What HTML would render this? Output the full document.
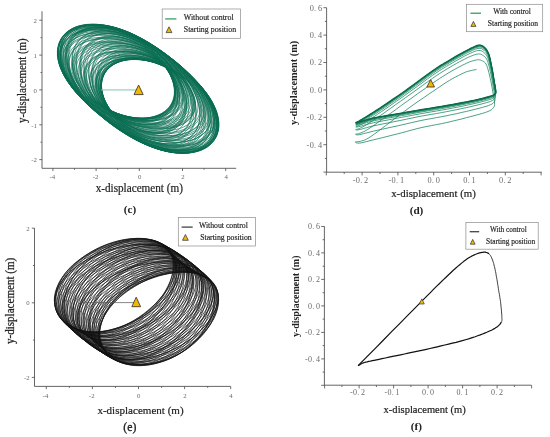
<!DOCTYPE html><html><head><meta charset="utf-8"><title>Figure</title>
<style>html,body{margin:0;padding:0;background:#fff}svg{display:block}text{font-family:'Liberation Serif', serif}</style></head><body>
<svg width="550" height="437" viewBox="0 0 550 437">
<rect width="550" height="437" fill="#fff"/>
<path d="M212.7 139.1L209.8 142.1L206.4 144.7L202.5 146.9L198 148.5L193.1 149.8L187.7 150.5L182 150.7L175.9 150.4L169.5 149.7L162.9 148.4L156.1 146.6L149.2 144.4L142.2 141.6L135.3 138.5L128.4 134.9L121.6 131L115 126.6L108.7 122L102.6 117.1L96.9 112L91.5 106.6L86.6 101.1L82.2 95.5L78.2 89.9L74.8 84.3L72 78.6L69.7 73.1L68 67.7L67 62.5L66.5 57.6L66.7 52.8L67.4 48.4L68.7 44.4L70.6 40.7L73.1 37.4L76 34.6L79.5 32.2L83.4 30.3L87.7 28.9L92.3 27.9L97.3 27.5L102.6 27.6L108 28.2L113.6 29.2L119.4 30.8L125.1 32.8L130.9 35.2L136.6 38.1L142.2 41.4L147.6 45L152.8 48.9L157.8 53.1L162.4 57.5L166.7 62.2L170.7 67L174.1 71.9L177.2 76.8L179.8 81.8L181.9 86.8L183.4 91.7L184.5 96.4L185.1 101.1L185.1 105.5L184.6 109.7L183.6 113.6L182.2 117.2L180.3 120.5L177.9 123.4L175.2 125.9L172.1 128L168.6 129.8L164.9 131L160.9 131.9L156.7 132.3L152.4 132.3L148 131.8L143.5 131L139 129.7L134.6 128L130.3 126L126.1 123.7L122.1 121L118.3 118.1L114.9 114.9L111.7 111.6L108.9 108L106.5 104.3L104.5 100.6L103 96.8L101.9 93L101.2 89.2L101.1 85.5L101.4 82L102.2 78.5L103.5 75.3L105.3 72.3L107.4 69.5L110.1 67.1L113.1 64.9L116.5 63.1L120.2 61.6L124.2 60.5L128.5 59.8L132.9 59.4L137.6 59.5L142.3 59.9L147.2 60.7L152 61.8L156.8 63.4L161.5 65.2L166.1 67.4L170.5 69.9L174.6 72.6L178.5 75.6L182 78.8L185.1 82.2L187.9 85.7L190.2 89.2L192 92.9L193.3 96.5L194.1 100.1L194.4 103.7L194.2 107.1L193.3 110.4L192 113.6L190.1 116.4L187.6 119.1L184.6 121.4L181.2 123.5L177.3 125.2L172.9 126.5L168.1 127.4L162.9 128L157.5 128.1L151.7 127.9L145.8 127.2L139.6 126L133.3 124.5L127 122.6L120.7 120.2L114.4 117.5L108.2 114.5L102.2 111.1L96.4 107.4L90.8 103.4L85.6 99.2L80.8 94.9L76.4 90.3L72.5 85.7L69 81L66.1 76.2L63.8 71.5L62 66.8L60.9 62.3L60.3 57.8L60.5 53.6L61.2 49.6L62.6 45.9L64.6 42.5L67.2 39.5L70.4 36.8L74.1 34.5L78.4 32.7L83.2 31.3L88.5 30.4L94.1 30L100.2 30L106.5 30.6L113.1 31.6L120 33.2L126.9 35.2L134 37.6L141.1 40.6L148.2 43.9L155.1 47.7L162 51.8L168.6 56.3L174.9 61L181 66.1L186.6 71.3L191.9 76.7L196.7 82.2L201 87.9L204.8 93.5L208 99.2L210.6 104.7L212.6 110.2L214 115.5L214.7 120.6L214.9 125.5L214.4 130L213.3 134.3L211.5 138.1L209.2 141.6L206.4 144.7L203 147.3L199.1 149.4L194.7 151L190 152.1L184.9 152.8L179.4 152.9L173.7 152.5L167.8 151.5L161.7 150.1L155.5 148.2L149.3 145.8L143.1 143L136.9 139.8L130.9 136.2L125.1 132.2L119.5 127.9L114.2 123.4L109.2 118.6L104.6 113.6L100.4 108.5L96.6 103.2L93.3 98L90.5 92.7L88.2 87.4L86.5 82.3L85.3 77.2L84.6 72.4L84.5 67.8L84.9 63.4L85.8 59.3L87.3 55.5L89.2 52.1L91.6 49.1L94.4 46.5L97.6 44.3L101.2 42.6L105.1 41.3L109.2 40.4L113.6 40.1L118.1 40.1L122.8 40.7L127.5 41.6L132.2 43L136.9 44.8L141.6 46.9L146 49.4L150.3 52.3L154.4 55.4L158.2 58.8L161.7 62.4L164.8 66.1L167.5 70L169.8 74L171.7 78.1L173.2 82.1L174.1 86.2L174.6 90.1L174.6 94L174.1 97.7L173.1 101.2L171.7 104.4L169.8 107.5L167.5 110.2L164.7 112.6L161.6 114.7L158.2 116.4L154.4 117.8L150.4 118.7L146.2 119.3L141.7 119.5L137.2 119.3L132.6 118.7L127.9 117.7L123.3 116.4L118.7 114.7L114.3 112.7L110 110.3L106 107.7L102.2 104.9L98.8 101.8L95.7 98.6L93 95.2L90.7 91.7L88.9 88.2L87.6 84.6L86.7 81L86.4 77.5L86.6 74.1L87.4 70.8L88.7 67.7L90.5 64.8L92.8 62.1L95.6 59.8L98.9 57.7L102.7 56L106.9 54.6L111.5 53.5L116.4 52.9L121.7 52.7L127.2 52.9L132.9 53.4L138.8 54.4L144.8 55.8L150.9 57.6L156.9 59.8L162.9 62.3L168.8 65.2L174.5 68.4L180 71.9L185.2 75.6L190.1 79.6L194.7 83.8L198.8 88.1L202.4 92.5L205.6 97L208.2 101.5L210.3 106L211.8 110.5L212.7 114.8L213 119L212.6 122.9L211.7 126.7L210.1 130.2L207.9 133.4L205.1 136.2L201.8 138.7L197.9 140.7L193.5 142.4L188.6 143.6L183.3 144.3L177.6 144.6L171.5 144.4L165.2 143.7L158.6 142.6L151.8 140.9L144.8 138.8L137.8 136.3L130.8 133.3L123.8 129.9L117 126.1L110.3 122L103.8 117.6L97.6 112.8L91.7 107.8L86.2 102.7L81.2 97.3L76.6 91.9L72.5 86.4L68.9 80.8L65.9 75.3L63.5 69.9L61.7 64.6L60.6 59.4L60.1 54.5L60.2 49.9L60.9 45.5L62.2 41.4L64.2 37.8L66.7 34.5L69.8 31.7L73.5 29.3L77.6 27.4L82.2 26L87.2 25.1L92.5 24.7L98.2 24.8L104.1 25.4L110.2 26.6L116.5 28.2L122.9 30.3L129.3 32.9L135.7 35.9L142 39.3L148.2 43.2L154.2 47.3L160 51.8L165.5 56.5L170.6 61.5L175.4 66.6L179.7 71.9L183.6 77.3L187.1 82.7L190 88.1L192.3 93.5L194.2 98.8L195.5 103.9L196.2 108.9L196.4 113.6L196 118L195.1 122.2L193.7 126L191.7 129.5L189.3 132.5L186.5 135.2L183.2 137.4L179.6 139.1L175.6 140.4L171.3 141.2L166.9 141.5L162.2 141.4L157.4 140.8L152.5 139.8L147.5 138.3L142.6 136.4L137.8 134.2L133 131.5L128.5 128.5L124.1 125.2L120 121.7L116.2 117.9L112.8 113.9L109.7 109.8L107 105.6L104.8 101.3L103 97L101.6 92.7L100.8 88.5L100.4 84.3L100.5 80.4L101.1 76.6L102.1 73L103.6 69.7L105.6 66.6L107.9 63.9L110.7 61.5L113.8 59.5L117.2 57.8L120.9 56.5L124.8 55.7L129 55.2L133.3 55.1L137.6 55.4L142.1 56.1L146.5 57.2L150.9 58.7L155.1 60.5L159.3 62.6L163.2 65L166.9 67.6L170.3 70.5L173.3 73.6L176 76.9L178.3 80.3L180.2 83.8L181.6 87.3L182.6 90.8L183.1 94.3L183 97.8L182.5 101.1L181.4 104.3L179.8 107.2L177.8 110L175.2 112.5L172.2 114.7L168.8 116.6L165 118.2L160.7 119.4L156.2 120.3L151.3 120.7L146.2 120.8L140.9 120.5L135.5 119.8L129.9 118.7L124.3 117.2L118.7 115.4L113.1 113.2L107.7 110.6L102.4 107.8L97.4 104.7L92.6 101.3L88.1 97.6L84 93.8L80.3 89.9L77.1 85.8L74.3 81.7L72.1 77.5L70.4 73.4L69.3 69.3L68.7 65.3L68.8 61.4L69.4 57.7L70.7 54.3L72.5 51.1L75 48.2L78 45.6L81.5 43.4L85.6 41.5L90.1 40.1L95.1 39.1L100.6 38.5L106.4 38.4L112.5 38.8L118.9 39.6L125.5 40.9L132.2 42.6L139.1 44.7L146 47.3L152.9 50.4L159.7 53.8L166.4 57.5L172.9 61.6L179.2 66L185.1 70.7L190.7 75.5L195.9 80.6L200.7 85.8L204.9 91.1L208.6 96.5L211.8 101.8L214.4 107.1L216.3 112.3L217.7 117.4L218.4 122.3L218.5 126.9L217.9 131.3L216.7 135.4L214.8 139.1L212.3 142.4L209.3 145.4L205.7 147.9L201.6 149.9L197 151.4L191.9 152.5L186.4 153L180.6 153.1L174.5 152.6L168.1 151.6L161.5 150L154.8 148L148.1 145.6L141.3 142.6L134.5 139.3L127.9 135.5L121.4 131.3L115.1 126.9L109.1 122.1L103.4 117.1L98.1 111.8L93.2 106.4L88.7 100.9L84.8 95.3L81.3 89.7L78.4 84L76 78.5L74.2 73.1L73 67.9L72.4 62.8L72.4 58L72.9 53.6L74.1 49.4L75.7 45.6L77.9 42.2L80.6 39.2L83.8 36.6L87.4 34.6L91.4 32.9L95.7 31.8L100.4 31.2L105.2 31L110.3 31.4L115.6 32.2L120.9 33.5L126.3 35.2L131.6 37.4L136.9 40L142.1 43L147.1 46.3L151.8 49.9L156.3 53.8L160.5 57.9L164.4 62.2L167.9 66.7L170.9 71.3L173.5 75.9L175.7 80.6L177.3 85.2L178.5 89.7L179.2 94.2L179.3 98.5L179 102.6L178.2 106.4L176.8 110L175.1 113.3L172.9 116.3L170.3 118.9L167.3 121.2L164 123L160.3 124.5L156.4 125.5L152.3 126.2L148.1 126.4L143.7 126.2L139.3 125.6L134.8 124.5L130.4 123.1L126 121.4L121.8 119.3L117.8 116.9L114 114.2L110.5 111.3L107.3 108.1L104.4 104.8L102 101.4L99.9 97.8L98.3 94.2L97.2 90.5L96.5 86.9L96.4 83.4L96.7 79.9L97.6 76.6L98.9 73.5L100.8 70.6L103.1 67.9L105.9 65.5L109.1 63.4L112.7 61.7L116.7 60.2L121 59.2L125.6 58.5L130.5 58.3L135.5 58.4L140.8 58.9L146.1 59.8L151.5 61.1L156.8 62.7L162.1 64.7L167.3 67.1L172.4 69.7L177.2 72.7L181.7 75.9L185.9 79.3L189.8 82.9L193.3 86.7L196.3 90.6L198.8 94.5L200.9 98.5L202.4 102.5L203.3 106.4L203.7 110.2L203.5 113.9L202.7 117.4L201.3 120.7L199.3 123.8L196.8 126.6L193.7 129L190.1 131.1L185.9 132.8L181.3 134.1L176.3 135.1L170.9 135.5L165.1 135.6L159 135.2L152.6 134.3L146.1 133L139.4 131.3L132.7 129.1L125.9 126.5L119.1 123.5L112.5 120.1L105.9 116.4L99.6 112.4L93.6 108.1L87.9 103.5L82.5 98.7L77.6 93.8L73.1 88.7L69.2 83.6L65.7 78.4L62.9 73.2L60.6 68.1L59 63.1L57.9 58.3L57.6 53.6L57.8 49.2L58.8 45.1L60.3 41.2L62.5 37.8L65.3 34.7L68.7 32L72.6 29.8L77 28.1L82 26.8L87.3 26L93.1 25.8L99.2 26L105.6 26.8L112.2 28.1L119 29.8L125.9 32.1L132.9 34.8L139.8 38L146.7 41.6L153.5 45.6L160.1 49.9L166.5 54.6L172.6 59.5L178.3 64.7L183.7 70.1L188.6 75.6L193.1 81.3L197.1 87L200.5 92.7L203.3 98.3L205.6 103.9L207.3 109.3L208.4 114.6L208.9 119.6L208.7 124.3L208 128.8L206.7 132.8L204.8 136.6L202.3 139.9L199.4 142.7L196 145.1L192.1 147.1L187.8 148.5L183.2 149.4L178.2 149.9L173 149.8L167.6 149.2L162 148.1L156.3 146.6L150.6 144.6L144.9 142.1L139.2 139.3L133.7 136L128.3 132.4L123.1 128.5L118.3 124.3L113.7 119.9L109.5 115.3L105.6 110.5L102.2 105.6L99.3 100.7L96.8 95.7L94.8 90.8L93.3 85.9L92.3 81.2L91.9 76.6L91.9 72.2L92.5 68.1L93.6 64.2L95.1 60.6L97.1 57.4L99.5 54.6L102.3 52.1L105.5 50L109 48.4L112.8 47.2L116.9 46.4L121.1 46L125.4 46.1L129.9 46.6L134.4 47.6L138.9 48.9L143.3 50.6L147.6 52.7L151.7 55.1L155.7 57.8L159.4 60.7L162.8 63.9L165.9 67.3L168.6 70.9L170.9 74.5L172.8 78.3L174.2 82.1L175.2 85.9L175.7 89.6L175.7 93.3L175.3 96.8L174.3 100.2L172.9 103.3L171 106.3L168.6 108.9L165.9 111.3L162.7 113.4L159.2 115.1L155.3 116.5L151.2 117.4L146.7 118.1L142.1 118.3L137.4 118.1L132.5 117.6L127.5 116.6L122.6 115.3L117.7 113.7L112.9 111.7L108.3 109.4L103.8 106.8L99.6 103.9L95.7 100.8L92.2 97.5L89 94.1L86.3 90.5L84 86.9L82.2 83.1L80.8 79.4L80.1 75.8L79.8 72.2L80.2 68.7L81 65.4L82.5 62.2L84.5 59.3L87 56.7L90.1 54.4L93.6 52.4L97.7 50.7L102.1 49.4L107 48.6L112.3 48.1L117.9 48L123.7 48.4L129.8 49.2L136 50.4L142.4 52L148.8 54.1L155.3 56.5L161.7 59.3L167.9 62.5L174 66L179.9 69.8L185.5 73.8L190.8 78.1L195.7 82.6L200.2 87.3L204.2 92L207.7 96.8L210.7 101.7L213.1 106.5L214.9 111.3L216.1 115.9L216.6 120.4L216.6 124.7L215.9 128.7L214.5 132.5L212.6 135.9L210 139L206.9 141.8L203.2 144.1L198.9 145.9L194.2 147.4L189 148.3L183.4 148.8L177.4 148.7L171.1 148.2L164.5 147.2L157.7 145.7L150.8 143.7L143.8 141.2L136.8 138.3L129.8 134.9L122.8 131.2L116.1 127.1L109.5 122.6L103.2 117.9L97.2 112.9L91.6 107.6L86.3 102.2L81.6 96.7L77.3 91.1L73.5 85.5L70.3 79.8L67.7 74.3L65.7 68.8L64.2 63.5L63.4 58.4L63.3 53.6L63.7 49L64.8 44.8L66.4 40.9L68.6 37.4L71.4 34.3L74.7 31.7L78.4 29.5L82.6 27.9L87.3 26.7L92.2 26L97.5 25.9L103.1 26.2L108.8 27.1L114.7 28.4L120.7 30.3L126.8 32.5L132.8 35.3L138.8 38.4L144.6 41.9L150.2 45.8L155.6 49.9L160.8 54.4L165.6 59.1L170 63.9L174.1 68.9L177.7 74L180.8 79.2L183.5 84.3L185.6 89.5L187.2 94.5L188.3 99.4L188.9 104.1L188.9 108.6L188.4 112.9L187.4 116.9L186 120.5L184 123.8L181.6 126.8L178.8 129.3L175.6 131.4L172 133.1L168.2 134.3L164.1 135.1L159.8 135.5L155.3 135.4L150.8 134.8L146.2 133.9L141.6 132.5L137 130.7L132.5 128.6L128.2 126.1L124 123.3L120.1 120.2L116.5 116.9L113.2 113.4L110.2 109.7L107.7 105.9L105.5 102L103.8 98L102.6 94.1L101.8 90.2L101.5 86.3L101.6 82.6L102.3 79L103.4 75.7L105 72.5L107 69.6L109.5 67.1L112.4 64.8L115.6 62.8L119.1 61.2L123 60L127.1 59.1L131.4 58.7L135.9 58.6L140.5 58.9L145.2 59.6L149.9 60.7L154.5 62.1L159.1 63.9L163.5 66L167.7 68.4L171.7 71L175.5 73.9L178.9 77L181.9 80.3L184.5 83.7L186.7 87.2L188.5 90.7L189.7 94.3L190.4 97.9L190.6 101.3L190.3 104.7L189.5 107.9L188.1 111L186.2 113.8L183.7 116.4L180.8 118.7L177.4 120.7L173.5 122.4L169.2 123.7L164.5 124.6L159.5 125.2L154.1 125.3L148.5 125L142.7 124.4L136.7 123.3L130.7 121.8L124.6 119.9L118.5 117.7L112.4 115L106.5 112.1L100.8 108.8L95.2 105.2L90 101.4L85.1 97.4L80.6 93.2L76.5 88.8L72.9 84.4L69.8 79.8L67.2 75.3L65.2 70.8L63.8 66.4L62.9 62L62.7 57.9L63.1 53.9L64.2 50.2L65.8 46.7L68.1 43.6L71 40.8L74.4 38.4L78.4 36.4L82.9 34.8L87.8 33.6L93.2 32.9L99 32.7L105.2 33L111.6 33.8L118.3 35L125.1 36.7L132.1 38.9L139.1 41.5L146.2 44.6L153.2 48L160.1 51.9L166.8 56L173.2 60.6L179.4 65.3L185.3 70.4L190.7 75.6L195.8 80.9L200.3 86.4L204.4 92L207.9 97.5L210.8 103L213.1 108.4L214.8 113.7L215.9 118.9L216.3 123.8L216.1 128.4L215.3 132.7L213.9 136.7L211.8 140.4L209.2 143.6L206 146.3L202.3 148.7L198.1 150.5L193.4 151.8L188.3 152.7L182.9 153L177.2 152.8L171.2 152.1L165 150.9L158.7 149.2L152.3 147L145.8 144.3L139.4 141.2L133.1 137.7L126.9 133.9L120.9 129.7L115.1 125.1L109.7 120.4L104.6 115.4L99.9 110.2L95.6 104.9L91.7 99.5L88.4 94.1L85.6 88.6L83.3 83.3L81.5 78L80.3 72.9L79.7 68L79.6 63.3L80.1 58.9L81.1 54.8L82.6 51L84.7 47.7L87.2 44.7L90.2 42.1L93.5 40L97.3 38.3L101.3 37.1L105.6 36.4L110.2 36.1L114.9 36.3L119.8 37L124.8 38.1L129.7 39.7L134.7 41.6L139.5 44L144.3 46.7L148.8 49.7L153.2 53.1L157.2 56.7L161 60.5L164.4 64.5L167.4 68.7L170 72.9L172.2 77.2L173.9 81.5L175.1 85.8L175.9 90L176.1 94.1L175.9 98L175.2 101.8L174 105.3L172.4 108.5L170.3 111.5L167.8 114.2L164.9 116.5L161.7 118.4L158.2 120L154.3 121.1L150.3 121.9L146 122.3L141.7 122.2L137.2 121.8L132.7 121L128.2 119.8L123.8 118.3L119.4 116.4L115.3 114.2L111.3 111.7L107.6 108.9L104.3 105.9L101.2 102.7L98.5 99.4L96.3 96L94.5 92.5L93.1 88.9L92.2 85.3L91.9 81.8L92 78.4L92.7 75.1L93.9 72L95.5 69L97.7 66.3L100.4 63.9L103.6 61.7L107.1 59.9L111.1 58.4L115.5 57.3L120.2 56.6L125.2 56.2L130.5 56.2L135.9 56.7L141.5 57.5L147.2 58.7L153 60.3L158.7 62.3L164.3 64.7L169.9 67.3L175.2 70.3L180.4 73.6L185.2 77.1L189.8 80.9L193.9 84.8L197.6 88.8L200.9 93L203.7 97.2L205.9 101.5L207.6 105.7L208.7 109.9L209.3 113.9L209.2 117.9L208.5 121.6L207.2 125.1L205.3 128.3L202.9 131.2L199.8 133.8L196.2 136L192.1 137.8L187.5 139.2L182.4 140.2L176.9 140.7L171.1 140.8L164.9 140.4L158.4 139.5L151.8 138.2L144.9 136.4L138 134.1L131 131.5L124.1 128.4L117.2 124.9L110.5 121.1L103.9 116.9L97.7 112.4L91.7 107.7L86 102.8L80.8 97.6L76 92.4L71.8 87L68 81.6L64.8 76.2L62.2 70.9L60.2 65.6L58.8 60.5L58.1 55.6L58 50.9L58.5 46.5L59.7 42.4L61.5 38.6L63.9 35.2L66.9 32.3L70.4 29.8L74.5 27.7L79 26.1L84 25.1L89.4 24.5L95.2 24.5L101.2 24.9L107.5 25.9L114 27.4L120.6 29.4L127.2 31.8L133.9 34.7L140.6 38.1L147.1 41.8L153.5 45.9L159.7 50.3L165.6 55.1L171.2 60L176.4 65.2L181.2 70.6L185.6 76L189.5 81.6L192.9 87.1L195.7 92.7L198 98.2L199.8 103.5L200.9 108.7L201.5 113.7L201.5 118.4L201 122.8L199.8 126.9L198.2 130.7L196 134.1L193.3 137L190.2 139.5L186.7 141.6L182.8 143.2L178.5 144.3L174 144.9L169.2 145.1L164.2 144.7L159.1 143.9L153.9 142.6L148.6 140.9L143.4 138.8L138.3 136.3L133.2 133.3L128.4 130.1L123.8 126.5L119.4 122.7L115.4 118.7L111.7 114.4L108.3 110.1L105.4 105.6L103 101L100.9 96.5L99.4 91.9L98.4 87.5L97.8 83.1L97.8 78.9L98.2 74.9L99.1 71.2L100.5 67.7L102.3 64.5L104.6 61.6L107.3 59L110.3 56.9L113.6 55.1L117.3 53.7L121.2 52.8L125.3 52.2L129.5 52L133.9 52.3L138.3 53L142.7 54L147.1 55.4L151.3 57.2L155.5 59.3L159.4 61.7L163.1 64.4L166.6 67.3L169.7 70.5L172.4 73.8L174.8 77.2L176.7 80.7L178.2 84.3L179.2 87.9L179.8 91.4L179.8 94.9L179.4 98.3L178.4 101.6L176.9 104.6L175 107.5L172.6 110.1L169.7 112.4L166.5 114.4L162.8 116L158.7 117.4L154.3 118.3L149.7 118.9L144.8 119.1L139.7 118.9L134.5 118.4L129.1 117.4L123.7 116.1L118.4 114.3L113.1 112.3L107.9 109.9L102.9 107.2L98.2 104.2L93.7 101L89.5 97.6L85.7 94L82.3 90.2L79.4 86.3L76.9 82.4L74.9 78.4L73.5 74.4L72.7 70.6L72.4 66.8L72.7 63.1L73.6 59.7L75.1 56.4L77.1 53.4L79.8 50.7L82.9 48.3L86.7 46.3L90.9 44.6L95.5 43.4L100.6 42.5L106.1 42.1L112 42.2L118.1 42.6L124.5 43.6L131 44.9L137.7 46.8L144.5 49L151.3 51.6L158 54.7L164.6 58.1L171.1 61.9L177.4 65.9L183.4 70.3L189 74.9L194.3 79.6L199.2 84.6L203.6 89.6L207.5 94.8L210.8 99.9L213.6 105.1L215.8 110.2L217.3 115.1L218.3 120L218.5 124.6L218.2 128.9L217.2 133L215.5 136.8L213.3 140.2L210.4 143.2L207 145.8L203 147.9L198.5 149.6L193.5 150.8L188.1 151.5L182.3 151.7L176.2 151.4L169.8 150.6L163.2 149.2L156.4 147.4L149.5 145.1L142.6 142.3L135.6 139.1L128.8 135.5L122 131.5L115.5 127.1L109.2 122.5L103.2 117.5L97.5 112.3L92.2 107L87.4 101.5L83 95.8L79.1 90.2L75.8 84.5L73 78.9L70.9 73.4L69.3 68L68.3 62.8L67.9 57.9L68.1 53.2L68.9 48.8L70.3 44.8L72.2 41.2L74.7 37.9L77.7 35.1L81.2 32.8L85.1 31L89.4 29.6L94 28.7L98.9 28.3L104.1 28.4L109.5 29.1L115.1 30.2L120.7 31.7L126.4 33.8L132 36.2L137.6 39.1L143.1 42.3L148.3 45.9L153.4 49.8L158.1 54L162.6 58.4L166.7 63L170.4 67.7L173.7 72.5L176.5 77.4L178.9 82.3L180.8 87.2L182.1 91.9L183 96.6L183.3 101.1L183.1 105.4L182.5 109.4L181.3 113.2L179.7 116.6L177.6 119.7L175.1 122.5L172.2 124.8L168.9 126.8L165.4 128.4L161.6 129.5L157.5 130.2L153.3 130.4L148.9 130.3L144.5 129.7L140 128.7L135.5 127.3L131.2 125.6L126.9 123.4L122.8 121L118.9 118.3L115.3 115.3L112 112.1L109 108.7L106.4 105.2L104.2 101.6L102.5 97.8L101.1 94.1L100.3 90.4L99.9 86.7L100.1 83.1L100.7 79.7L101.8 76.4L103.3 73.3L105.4 70.5L107.9 68L110.8 65.7L114.1 63.7L117.7 62.2L121.7 60.9L126 60L130.5 59.6L135.2 59.5L140.1 59.8L145.1 60.4L150.1 61.5L155.1 62.9L160.1 64.7L164.9 66.8L169.6 69.2L174.1 71.9L178.3 74.9L182.2 78L185.8 81.4L189 84.9L191.7 88.6L194 92.3L195.8 96.1L197.1 99.8L197.8 103.5L198 107.2L197.6 110.7L196.7 114L195.2 117.1L193.1 120L190.6 122.6L187.4 124.9L183.8 126.9L179.7 128.5L175.1 129.7L170.2 130.5L164.9 131L159.2 131L153.3 130.5L147.1 129.7L140.8 128.4L134.4 126.7L127.9 124.5L121.4 122L114.9 119.1L108.6 115.9L102.4 112.3L96.5 108.4L90.8 104.3L85.5 99.9L80.6 95.3L76 90.6L72 85.8L68.4 80.9L65.4 76L63 71.1L61.1 66.3L59.9 61.6L59.3 57L59.3 52.7L60 48.6L61.3 44.8L63.2 41.3L65.7 38.1L68.8 35.4L72.5 33L76.7 31.1L81.4 29.7L86.5 28.7L92.1 28.3L98 28.3L104.3 28.8L110.8 29.8L117.5 31.3L124.4 33.3L131.4 35.7L138.4 38.7L145.3 42L152.2 45.7L158.9 49.8L165.5 54.3L171.7 59L177.7 64L183.3 69.2L188.5 74.6L193.3 80.1L197.5 85.7L201.3 91.4L204.5 97L207.1 102.6L209.1 108L210.5 113.3L211.3 118.4L211.5 123.3L211.1 127.9L210.1 132.1L208.5 136L206.3 139.5L203.6 142.6L200.4 145.2L196.6 147.4L192.5 149.1L187.9 150.2L183 150.9L177.8 151.1L172.4 150.8L166.7 150L160.9 148.6L155 146.8L149 144.6L143.1 141.9L137.2 138.8L131.5 135.3L126 131.5L120.7 127.4L115.6 123L110.9 118.4L106.6 113.5L102.6 108.6L99.1 103.5L96.1 98.4L93.5 93.3L91.4 88.2L89.9 83.3L88.8 78.4L88.3 73.7L88.4 69.2L88.9 65L90 61.1L91.5 57.5L93.5 54.2L96 51.4L98.8 48.9L102 46.8L105.6 45.2L109.4 44L113.5 43.2L117.8 42.9L122.3 43L126.8 43.6L131.4 44.6L136 46L140.5 47.8L145 49.9L149.2 52.4L153.3 55.2L157.2 58.3L160.7 61.6L164 65.1L166.8 68.8L169.3 72.6L171.4 76.5L173 80.5L174.2 84.4L174.8 88.3L175 92.1L174.8 95.8L174 99.3L172.8 102.6L171.1 105.7L168.9 108.6L166.3 111.1L163.3 113.3L160 115.2L156.3 116.8L152.4 117.9L148.1 118.7L143.7 119.1L139.1 119L134.4 118.6L129.6 117.9L124.9 116.7L120.1 115.2L115.5 113.3L111 111.1L106.7 108.6L102.7 105.9L98.9 102.9L95.5 99.7L92.4 96.4L89.8 92.9L87.6 89.3L85.8 85.7L84.6 82L83.9 78.4L83.7 74.9L84.1 71.4L85 68.1L86.5 65.1L88.4 62.2L91 59.6L94 57.3L97.5 55.3L101.5 53.6L105.9 52.3L110.7 51.4L115.9 50.9L121.4 50.8L127.1 51.1L133 51.9L139.1 53L145.3 54.6L151.6 56.6L157.8 58.9L164 61.6L170 64.7L175.9 68.1L181.5 71.8L186.8 75.7L191.8 79.9L196.4 84.2L200.6 88.7L204.3 93.3L207.5 97.9L210.2 102.6L212.2 107.2L213.7 111.8L214.6 116.2L214.8 120.5L214.5 124.6L213.4 128.4L211.8 132L209.5 135.2L206.7 138.1L203.2 140.6L199.3 142.6L194.7 144.3L189.8 145.5L184.3 146.2L178.5 146.4L172.3 146.2L165.9 145.5L159.1 144.2L152.3 142.5L145.2 140.3L138.1 137.7L131.1 134.6L124 131.1L117.1 127.2L110.3 123L103.8 118.4L97.6 113.6L91.7 108.5L86.2 103.3L81.1 97.8L76.5 92.3L72.5 86.7L68.9 81L66 75.5L63.6 70L61.9 64.6L60.8 59.4L60.3 54.4L60.4 49.7L61.2 45.3L62.6 41.2L64.6 37.5L67.2 34.3L70.3 31.4L74 29L78.1 27.1L82.7 25.7L87.7 24.8L93 24.4L98.7 24.6L104.6 25.2L110.7 26.4L116.9 28L123.2 30.2L129.6 32.7L135.9 35.8L142.1 39.2L148.2 43L154.1 47.2L159.7 51.6L165 56.3L170 61.3L174.6 66.4L178.8 71.6L182.5 77L185.7 82.3L188.5 87.7L190.7 93L192.3 98.2L193.4 103.3L194 108.1L194 112.7L193.5 117.1L192.4 121.1L190.8 124.9L188.8 128.2L186.2 131.1L183.3 133.7L179.9 135.8L176.2 137.4L172.2 138.6L168 139.3L163.5 139.6L158.8 139.3L154.1 138.7L149.3 137.6L144.4 136.1L139.6 134.1L134.9 131.8L130.4 129.2L126 126.2L121.9 122.9L118 119.4L114.5 115.7L111.3 111.8L108.5 107.8L106.1 103.6L104.2 99.5L102.7 95.3L101.7 91.1L101.1 87.1L101.1 83.1L101.6 79.3L102.5 75.8L103.9 72.4L105.7 69.3L108 66.5L110.7 64L113.7 61.9L117.1 60.1L120.8 58.7L124.8 57.7L128.9 57.1L133.3 56.9L137.8 57.1L142.3 57.6L146.9 58.6L151.4 59.9L155.9 61.6L160.2 63.6L164.3 65.9L168.3 68.4L171.9 71.3L175.2 74.3L178.2 77.5L180.8 80.9L183 84.4L184.7 87.9L185.9 91.4L186.6 95L186.8 98.4L186.5 101.8L185.7 105.1L184.4 108.1L182.5 111L180.1 113.6L177.2 116L173.9 118L170.1 119.7L166 121.1L161.4 122.1L156.5 122.7L151.3 122.9L145.9 122.7L140.3 122.1L134.5 121.1L128.6 119.7L122.7 118L116.9 115.8L111.1 113.3L105.4 110.5L99.9 107.3L94.7 103.9L89.7 100.3L85.1 96.4L80.9 92.3L77.1 88.1L73.8 83.8L70.9 79.5L68.6 75.1L66.9 70.8L65.8 66.6L65.2 62.4L65.3 58.5L66 54.7L67.3 51.2L69.2 47.9L71.7 45L74.7 42.4L78.4 40.1L82.5 38.3L87.2 36.9L92.3 35.9L97.8 35.4L103.7 35.4L109.9 35.8L116.4 36.7L123.1 38.1L130 39.9L136.9 42.2L144 44.9L150.9 48.1L157.9 51.6L164.6 55.5L171.2 59.7L177.5 64.3L183.6 69.1L189.2 74.1L194.5 79.3L199.3 84.6L203.6 90L207.4 95.4L210.6 100.9L213.2 106.3L215.3 111.6L216.7 116.7L217.4 121.7L217.6 126.4L217.1 130.9L215.9 135L214.2 138.8L211.8 142.2L208.8 145.2L205.3 147.7L201.3 149.8L196.8 151.3L191.9 152.4L186.5 153L180.9 153.1L174.9 152.6L168.6 151.6L162.2 150.2L155.7 148.2L149.1 145.8L142.5 142.9L135.9 139.6L129.4 135.8L123.1 131.8L117 127.4L111.2 122.6L105.7 117.7L100.5 112.5L95.8 107.2L91.4 101.8L87.6 96.2L84.3 90.7L81.5 85.2L79.2 79.8L77.5 74.4L76.4 69.3L75.8 64.3L75.8 59.7L76.4 55.2L77.5 51.2L79.2 47.4L81.4 44.1L84 41.2L87.1 38.7L90.6 36.7L94.5 35.1L98.7 34L103.2 33.4L108 33.3L112.9 33.6L118 34.4L123.1 35.7L128.3 37.4L133.4 39.5L138.4 42.1L143.4 44.9L148.1 48.2L152.7 51.7L156.9 55.5L160.9 59.5L164.5 63.7L167.7 68L170.5 72.5L172.9 77L174.8 81.5L176.2 86L177.2 90.4L177.6 94.6L177.6 98.8L177.1 102.7L176.1 106.4L174.6 109.8L172.7 113L170.4 115.8L167.6 118.2L164.6 120.3L161.1 122L157.5 123.3L153.5 124.2L149.4 124.7L145.1 124.8L140.8 124.5L136.4 123.8L131.9 122.6L127.6 121.2L123.3 119.3L119.2 117.2L115.3 114.8L111.6 112L108.2 109.1L105.2 105.9L102.5 102.6L100.2 99.2L98.3 95.6L96.9 92.1L96 88.5L95.5 84.9L95.6 81.5L96.1 78.1L97.2 74.9L98.8 71.9L100.8 69.1L103.3 66.6L106.3 64.3L109.7 62.4L113.5 60.8L117.6 59.5L122.1 58.6L126.9 58.1L131.9 58L137.1 58.3L142.4 59L147.8 60L153.3 61.5L158.7 63.3L164.1 65.5L169.4 67.9L174.4 70.7L179.3 73.8L183.8 77.1L188 80.7L191.9 84.4L195.3 88.3L198.3 92.2L200.8 96.3L202.8 100.3L204.2 104.3L205 108.3L205.3 112.2L205 115.9L204.1 119.4L202.6 122.7L200.5 125.7L197.9 128.4L194.7 130.8L190.9 132.9L186.7 134.6L182 135.8L176.8 136.6L171.3 137L165.4 137L159.2 136.5L152.8 135.5L146.2 134.1L139.4 132.3L132.6 130L125.8 127.3L119 124.2L112.3 120.7L105.7 116.9L99.4 112.7L93.4 108.3L87.6 103.7L82.3 98.8L77.4 93.8L72.9 88.6L69 83.4L65.6 78.2L62.7 73L60.5 67.8L58.9 62.8L57.9 57.9L57.6 53.2L57.9 48.7L58.8 44.6L60.4 40.8L62.6 37.3L65.4 34.2L68.7 31.5L72.6 29.3L77.1 27.6L82 26.3L87.3 25.6L93 25.3L99 25.6L105.3 26.4L111.9 27.6L118.5 29.4L125.4 31.7L132.2 34.4L139.1 37.5L145.8 41.1L152.5 45.1L158.9 49.4L165.1 54L171.1 58.9L176.7 64L181.9 69.4L186.6 74.8L190.9 80.4L194.7 86L198 91.6L200.7 97.2L202.9 102.7L204.5 108L205.4 113.2L205.8 118.1L205.6 122.7L204.8 127.1L203.4 131.1L201.5 134.7L199.1 137.9L196.2 140.7L192.8 143.1L189 144.9L184.8 146.3L180.2 147.2L175.4 147.6L170.4 147.6L165.1 147L159.7 145.9L154.3 144.4L148.8 142.5L143.3 140.1L137.9 137.3L132.7 134.1L127.6 130.6L122.7 126.8L118.2 122.8L113.9 118.5L110 114L106.5 109.4L103.5 104.8L100.8 100L98.7 95.3L97 90.5L95.8 85.9L95.1 81.4L95 77.1L95.3 72.9L96.1 69L97.4 65.4L99.2 62.1L101.4 59.1L104 56.5L107 54.3L110.3 52.4L113.9 51L117.7 50L121.8 49.4L126.1 49.2L130.4 49.5L134.8 50.1L139.2 51.2L143.6 52.6L147.9 54.4L152.1 56.5L156.1 59L159.9 61.7L163.3 64.7L166.5 67.9L169.3 71.2L171.8 74.7L173.8 78.3L175.4 81.9L176.5 85.6L177.2 89.2L177.4 92.8L177 96.3L176.2 99.6L174.9 102.8L173.2 105.7L170.9 108.4L168.2 110.8L165.1 112.9L161.6 114.7L157.8 116.2L153.6 117.2L149.2 117.9L144.5 118.3L139.6 118.2L134.6 117.7L129.5 116.9L124.4 115.7L119.2 114.1L114.2 112.2L109.2 110L104.5 107.4L99.9 104.6L95.6 101.5L91.7 98.2L88.1 94.7L84.9 91.1L82.2 87.4L79.9 83.6L78.1 79.8L76.9 76L76.2 72.2L76.1 68.6L76.5 65.1L77.5 61.7L79.1 58.6L81.2 55.7L83.9 53.1L87.2 50.9L90.9 48.9L95.1 47.4L99.8 46.2L104.9 45.4L110.3 45.1L116.1 45.2L122.1 45.7L128.4 46.7L134.8 48L141.4 49.9L148 52.1L154.6 54.7L161.1 57.7L167.5 61.1L173.8 64.8L179.8 68.8L185.5 73L190.9 77.5L195.9 82.2L200.5 87L204.6 91.9L208.2 96.9L211.3 101.9L213.7 106.8L215.6 111.7L216.8 116.5L217.5 121.1L217.4 125.5L216.8 129.6L215.5 133.4L213.6 137L211 140.1L207.9 142.9L204.2 145.3L200 147.2L195.3 148.6L190.1 149.6L184.6 150L178.6 150L172.4 149.5L165.8 148.4L159.1 146.9L152.2 144.9L145.3 142.4L138.3 139.5L131.3 136.1L124.5 132.4L117.8 128.2L111.3 123.8L105 119L99.1 114L93.5 108.8L88.3 103.4L83.6 97.8L79.4 92.2L75.7 86.6L72.5 81L70 75.4L68 70L66.6 64.7L65.8 59.6L65.6 54.7L66.1 50.2L67.1 46L68.7 42.1L70.9 38.6L73.6 35.6L76.9 33L80.6 30.8L84.7 29.2L89.2 28L94.1 27.3L99.3 27.2L104.7 27.5L110.3 28.3L116 29.7L121.9 31.5L127.7 33.7L133.6 36.4L139.3 39.5L144.9 42.9L150.4 46.7L155.6 50.8L160.5 55.2L165.1 59.7L169.3 64.5L173.1 69.4L176.5 74.4L179.4 79.4L181.9 84.5L183.8 89.5L185.3 94.4L186.2 99.1L186.6 103.7L186.4 108.1L185.8 112.2L184.7 116.1L183 119.6L181 122.7L178.5 125.5L175.6 127.9L172.3 129.9L168.7 131.5L164.9 132.6L160.8 133.3L156.5 133.5L152.1 133.3L147.6 132.7L143.1 131.7L138.5 130.2L134.1 128.4L129.7 126.3L125.5 123.8L121.5 121L117.8 117.9L114.4 114.6L111.3 111.1L108.5 107.5L106.2 103.7L104.3 99.9L102.8 96L101.8 92.2L101.3 88.3L101.2 84.6L101.6 81L102.5 77.6L103.9 74.4L105.8 71.4L108.1 68.7L110.8 66.3L113.9 64.2L117.3 62.5L121.1 61.1L125.2 60L129.5 59.4L134 59.1L138.6 59.3L143.4 59.8L148.2 60.7L153 61.9L157.8 63.6L162.4 65.5L166.9 67.8L171.2 70.3L175.2 73.1L178.9 76.2L182.3 79.4L185.3 82.8L187.9 86.3L190.1 89.9L191.7 93.6L192.9 97.2L193.5 100.8L193.6 104.3L193.1 107.7L192.1 111L190.5 114L188.4 116.8L185.8 119.3L182.7 121.6L179 123.5L174.9 125.1L170.4 126.3L165.5 127.1L160.3 127.5L154.7 127.5L148.9 127L142.9 126.2L136.7 124.9L130.4 123.3L124.1 121.2L117.8 118.7L111.6 115.9L105.5 112.7L99.6 109.3L94 105.5L88.6 101.5L83.6 97.3L78.9 92.8L74.8 88.3L71.1 83.6L67.9 78.9L65.2 74.2L63.2 69.6L61.7 65L60.8 60.5L60.6 56.2L61 52.1L62 48.3L63.7 44.7L66 41.5L68.8 38.7L72.3 36.2L76.3 34.1L80.8 32.5L85.8 31.3L91.2 30.7L97.1 30.4L103.2 30.7L109.7 31.5L116.4 32.8L123.3 34.5L130.3 36.7L137.4 39.4L144.5 42.5L151.5 46.1L158.4 50L165.1 54.2L171.6 58.8L177.8 63.6L183.6 68.7L189.1 74L194.2 79.5L198.7 85L202.8 90.6L206.3 96.2L209.2 101.8L211.6 107.3L213.3 112.7L214.4 117.8L214.9 122.8L214.7 127.5L213.9 131.9L212.5 135.9L210.5 139.6L208 142.9L204.9 145.7L201.2 148L197.1 149.9L192.6 151.3L187.7 152.2L182.4 152.6L176.8 152.4L171 151.8L164.9 150.6L158.8 149L152.5 146.8L146.3 144.3L140.1 141.2L133.9 137.8L128 134L122.2 129.9L116.7 125.5L111.4 120.8L106.5 115.9L102 110.8L97.9 105.6L94.3 100.4L91.1 95L88.5 89.7L86.4 84.5L84.8 79.4L83.7 74.4L83.2 69.6L83.3 65L83.8 60.7L84.9 56.7L86.5 53.1L88.6 49.8L91.1 46.9L94.1 44.4L97.4 42.4L101.1 40.8L105.1 39.6L109.3 39L113.7 38.7L118.4 39L123.1 39.7L127.8 40.8L132.6 42.3L137.3 44.2L142 46.5L146.5 49.2L150.8 52.2L154.8 55.4L158.6 58.9L162.1 62.6L165.2 66.5L167.9 70.5L170.2 74.6L172.1 78.8L173.5 82.9L174.4 87L174.9 91L174.9 94.9L174.4 98.7L173.4 102.2L171.9 105.5L170.1 108.6L167.7 111.3L165 113.7L162 115.8L158.5 117.6L154.8 118.9L150.9 119.9L146.7 120.5L142.4 120.7L137.9 120.5L133.4 119.9L128.8 118.9L124.3 117.5L119.9 115.8L115.6 113.8L111.5 111.5L107.6 108.9L104 106.1L100.7 103L97.8 99.8L95.3 96.5L93.2 93L91.5 89.5L90.3 85.9L89.7 82.4L89.5 78.9L89.9 75.6L90.7 72.4L92.1 69.3L94.1 66.5L96.5 63.9L99.4 61.6L102.8 59.5L106.6 57.9L110.8 56.5L115.4 55.6L120.3 55L125.6 54.8L131 55L136.6 55.7L142.4 56.7L148.3 58.1L154.2 59.9L160.1 62.1L165.8 64.6L171.5 67.5L177 70.6L182.2 74.1L187.1 77.8L191.7 81.7L195.8 85.7L199.6 89.9L202.9 94.2L205.6 98.6L207.9 102.9L209.5 107.3L210.6 111.5L211.1 115.6L210.9 119.6L210.2 123.3L208.8 126.9L206.8 130.1L204.2 133L201.1 135.6L197.4 137.8L193.2 139.6L188.4 140.9L183.2 141.8L177.7 142.3L171.7 142.3L165.4 141.8L158.9 140.9L152.1 139.4L145.2 137.6L138.2 135.2L131.2 132.4L124.2 129.2L117.3 125.7L110.5 121.7L103.9 117.5L97.6 112.9L91.6 108.1L86 103L80.8 97.8L76 92.5L71.8 87L68 81.6L64.9 76.1L62.3 70.7L60.4 65.4L59 60.2L58.3 55.3L58.3 50.6L58.9 46.1L60.1 42L62 38.3L64.4 34.9L67.5 32L71 29.5L75.1 27.5L79.7 25.9L84.7 24.9L90.1 24.4L95.8 24.3L101.9 24.9L108.1 25.9L114.5 27.4L121.1 29.4L127.7 31.9L134.3 34.8L140.9 38.2L147.3 41.9L153.6 46L159.7 50.5L165.5 55.2L170.9 60.2L176 65.4L180.7 70.7L184.9 76.1L188.7 81.7L192 87.2L194.7 92.7L196.8 98.1L198.4 103.4L199.5 108.5L199.9 113.4L199.8 118L199.1 122.4L197.9 126.4L196.2 130.1L193.9 133.4L191.2 136.2L188 138.7L184.5 140.6L180.5 142.2L176.3 143.2L171.8 143.7L167 143.8L162.1 143.4L157 142.6L151.9 141.2L146.8 139.5L141.7 137.3L136.7 134.8L131.8 131.9L127.2 128.6L122.7 125.1L118.6 121.3L114.7 117.3L111.2 113.1L108.1 108.8L105.5 104.4L103.2 100L101.5 95.5L100.2 91.1L99.4 86.8L99.1 82.6L99.3 78.6L99.9 74.7L101.1 71.1L102.7 67.8L104.7 64.8L107.2 62.1L110 59.7L113.2 57.8L116.8 56.2L120.5 55L124.6 54.2L128.8 53.8L133.1 53.8L137.5 54.3L142 55.1L146.4 56.3L150.8 57.9L155.1 59.8L159.2 62L163.1 64.5L166.7 67.3L170.1 70.3L173.1 73.5L175.7 76.9L177.9 80.3L179.7 83.9L181 87.5L181.8 91L182.2 94.6L182 98L181.3 101.3L180.1 104.5L178.4 107.4L176.2 110.1L173.6 112.6L170.4 114.8L166.9 116.6L162.9 118.1L158.6 119.2L154 120L149.1 120.4L143.9 120.4L138.6 120L133.1 119.1L127.6 117.9L122 116.4L116.4 114.4L110.9 112.1L105.6 109.5L100.4 106.6L95.5 103.3L90.8 99.9L86.5 96.2L82.6 92.4L79.1 88.4L76.1 84.3L73.6 80.2L71.6 76L70.1 71.9L69.2 67.9L68.9 64L69.3 60.2L70.2 56.6L71.7 53.3L73.8 50.2L76.4 47.4L79.7 45L83.4 42.9L87.7 41.3L92.5 40L97.7 39.2L103.3 38.8L109.2 38.9L115.4 39.4L121.9 40.4L128.6 41.9L135.4 43.8L142.3 46.1L149.2 48.9L156 52.1L162.8 55.6L169.4 59.5L175.8 63.7L181.9 68.2L187.7 72.9L193.1 77.9L198 83L202.5 88.2L206.6 93.5L210 98.8L212.9 104.1L215.2 109.3L216.9 114.4L217.9 119.4L218.3 124.1L218.1 128.7L217.2 132.9L215.7 136.8L213.6 140.3L210.8 143.4L207.5 146.1L203.7 148.4L199.3 150.2L194.5 151.5L189.2 152.3L183.6 152.6L177.7 152.4L171.4 151.7L164.9 150.4L158.3 148.7L151.6 146.5L144.8 143.8L138 140.7L131.3 137.1L124.7 133.2L118.3 128.9L112.2 124.3L106.3 119.4L100.8 114.3L95.6 109L90.9 103.5L86.6 98L82.9 92.4L79.6 86.8L76.9 81.2L74.8 75.8L73.2 70.4L72.3 65.3L71.9 60.4L72.1 55.7L72.9 51.4L74.2 47.4L76.1 43.8L78.5 40.5L81.4 37.8L84.7 35.4L88.4 33.5L92.6 32.1L97 31.2L101.7 30.8L106.7 30.8L111.9 31.4L117.2 32.4L122.5 33.9L127.9 35.8L133.3 38.2L138.5 40.9L143.7 44L148.6 47.4L153.3 51.2L157.8 55.2L161.9 59.4L165.7 63.8L169 68.3L172 73L174.5 77.6L176.6 82.3L178.1 87L179.2 91.5L179.8 96L179.9 100.2L179.4 104.3L178.5 108.1L177.2 111.7L175.3 114.9L173.1 117.8L170.5 120.4L167.4 122.5L164.1 124.3L160.5 125.7L156.6 126.7L152.5 127.2L148.3 127.3L144 127L139.6 126.3L135.2 125.3L130.9 123.8L126.6 122L122.5 119.8L118.6 117.4L114.9 114.7L111.5 111.7L108.4 108.5L105.6 105.2L103.3 101.7L101.4 98.1L99.9 94.5L98.9 90.9L98.3 87.3L98.2 83.7L98.7 80.3L99.6 77L101 73.9L102.9 71L105.2 68.4L108 66.1L111.3 64L114.9 62.3L118.8 60.9L123.1 59.9L127.6 59.3L132.4 59.1L137.4 59.2L142.5 59.7L147.6 60.7L152.9 62L158.1 63.6L163.2 65.6L168.2 68L173 70.6L177.6 73.5L181.9 76.7L185.8 80L189.5 83.6L192.7 87.3L195.4 91.1L197.7 94.9L199.4 98.8L200.7 102.7L201.3 106.5L201.4 110.2L201 113.7L199.9 117.1L198.3 120.3L196.1 123.2L193.4 125.8L190.1 128L186.3 130L182 131.5L177.3 132.7L172.1 133.4L166.6 133.8L160.8 133.7L154.7 133.1L148.3 132.1L141.8 130.7L135.2 128.8L128.5 126.5L121.9 123.8L115.2 120.7L108.8 117.3L102.4 113.5L96.4 109.5L90.6 105.2L85.1 100.6L80.1 95.9L75.4 91L71.3 86L67.7 80.9L64.6 75.8L62.1 70.8L60.2 65.8L58.9 61L58.3 56.3L58.3 51.9L58.9 47.7L60.2 43.7L62.1 40.2L64.6 36.9L67.7 34.1L71.4 31.7L75.6 29.8L80.3 28.3L85.5 27.3L91.1 26.8L97 26.8L103.3 27.4L109.8 28.4L116.5 29.9L123.3 31.9L130.3 34.4L137.3 37.3L144.2 40.7L151.1 44.5L157.8 48.6L164.3 53.1L170.5 57.9L176.4 62.9L181.9 68.1L187.1 73.6L191.8 79.1L196 84.8L199.7 90.4L202.8 96.1L205.4 101.6L207.4 107.1L208.7 112.4L209.5 117.5L209.7 122.4L209.2 126.9L208.2 131.2L206.6 135.1L204.4 138.6L201.7 141.6L198.5 144.2L194.9 146.4L190.8 148.1L186.3 149.3L181.5 150L176.4 150.1L171.1 149.8L165.5 149L159.9 147.7L154.1 145.9L148.4 143.7L142.6 141.1L137 138L131.5 134.6L126.2 130.9L121.1 126.8L116.3 122.5L111.8 118L107.7 113.3L104 108.4L100.8 103.5L97.9 98.5L95.6 93.6L93.8 88.7L92.4 83.8L91.6 79.1L91.3 74.6L91.5 70.3L92.3 66.3L93.5 62.5L95.1 59.1L97.3 56L99.8 53.2L102.7 50.9L106 49L109.6 47.5L113.4 46.4L117.5 45.8L121.7 45.6L126.1 45.8L130.5 46.4L135 47.5L139.4 48.9L143.8 50.7L148.1 52.9L152.1 55.4L156 58.2L159.6 61.2L162.9 64.5L165.9 67.9L168.5 71.5L170.7 75.2L172.4 79L173.8 82.8L174.6 86.6L175 90.3L174.9 93.9L174.3 97.4L173.3 100.7L171.7 103.8L169.8 106.7L167.3 109.3L164.5 111.6L161.3 113.6L157.7 115.2L153.8 116.5L149.7 117.4L145.3 118L140.7 118.1L136 117.9L131.1 117.3L126.3 116.3L121.4 114.9L116.6 113.2L112 111.2L107.5 108.8L103.2 106.2L99.1 103.3L95.4 100.2L92 96.9L89.1 93.4L86.5 89.9L84.4 86.3L82.8 82.6L81.7 78.9L81.2 75.3L81.1 71.8L81.6 68.4L82.7 65.2L84.4 62.1L86.5 59.3L89.2 56.8L92.4 54.6L96.1 52.7L100.3 51.2L104.9 50.1L109.9 49.3L115.2 48.9L120.8 49L126.7 49.5L132.8 50.4L139 51.7L145.4 53.5L151.7 55.6L158.1 58.2L164.4 61.1L170.5 64.3L176.4 67.8L182.1 71.7L187.5 75.8L192.6 80.1L197.3 84.5L201.5 89.2L205.2 93.9L208.4 98.6L211.1 103.4L213.2 108.1L214.7 112.8L215.5 117.3L215.8 121.6L215.4 125.8L214.3 129.6L212.7 133.2L210.4 136.5L207.5 139.4L204.1 141.9L200.1 143.9L195.6 145.6L190.6 146.8L185.1 147.4L179.3 147.7L173.1 147.4L166.7 146.6L160 145.3L153.1 143.6L146.1 141.3L139 138.6L132 135.5L125 132L118.1 128L111.4 123.8L104.9 119.2L98.7 114.3L92.8 109.2L87.4 103.9L82.3 98.4L77.8 92.8L73.8 87.2L70.3 81.6L67.4 76L65 70.5L63.3 65.1L62.2 59.9L61.8 54.9L61.9 50.2L62.7 45.8L64.1 41.7L66.1 38.1L68.7 34.8L71.8 32L75.4 29.6L79.5 27.7L84 26.3L89 25.5L94.2 25.1L99.8 25.2L105.6 25.9L111.6 27.1L117.7 28.7L123.9 30.8L130.1 33.4L136.2 36.4L142.3 39.8L148.2 43.6L153.9 47.7L159.4 52.1L164.6 56.8L169.4 61.7L173.8 66.8L177.8 71.9L181.4 77.2L184.5 82.5L187 87.8L189.1 93L190.6 98.1L191.5 103L192 107.8L191.9 112.3L191.2 116.5L190 120.5L188.4 124.1L186.3 127.3L183.7 130.2L180.7 132.6L177.3 134.6L173.6 136.1L169.6 137.2L165.4 137.8L160.9 138L156.3 137.7L151.6 137L146.9 135.9L142.1 134.3L137.4 132.3L132.9 130L128.4 127.3L124.2 124.4L120.2 121.1L116.5 117.6L113.2 113.9L110.2 110L107.6 106L105.4 102L103.7 97.9L102.4 93.8L101.6 89.7L101.3 85.8L101.4 81.9L102.1 78.3L103.2 74.8L104.8 71.6L106.9 68.7L109.3 66L112.2 63.7L115.4 61.7L119 60.1L122.8 58.9L126.9 58L131.2 57.6L135.7 57.5L140.2 57.8L144.9 58.6L149.5 59.7L154.1 61.1L158.6 63L163 65.1L167.1 67.5L171 70.2L174.7 73.2L178 76.3L180.9 79.6L183.4 83.1L185.5 86.6L187.2 90.2L188.3 93.8L188.9 97.4L189 100.9L188.6 104.3L187.6 107.5L186.1 110.6L184.1 113.4L181.5 116L178.5 118.3L175 120.2L171 121.9L166.7 123.1L161.9 124L156.9 124.5L151.5 124.6L145.9 124.3L140.1 123.5L134.1 122.4L128.1 120.8L122.1 118.9L116 116.6L110.1 113.9L104.3 110.9L98.7 107.6L93.3 104L88.2 100.1L83.5 96.1L79.2 91.8L75.3 87.5L71.9 83L69 78.5L66.7 74L64.9 69.5L63.7 65.1L63.2 60.9L63.2 56.8L63.9 52.9L65.2 49.2L67.1 45.9L69.6 42.9L72.7 40.2L76.4 37.9L80.6 36.1L85.3 34.6L90.4 33.6L96 33.1L102 33.1L108.2 33.5L114.8 34.5L121.5 35.9L128.4 37.8L135.5 40.1L142.5 42.9L149.5 46.1L156.5 49.7L163.3 53.7L169.9 58L176.3 62.6L182.3 67.5L188 72.6L193.3 77.8L198.1 83.2L202.5 88.7L206.3 94.3L209.5 99.8L212.2 105.3L214.2 110.7L215.7 115.9L216.5 121L216.7 125.8L216.2 130.3L215.1 134.5L213.4 138.3L211.1 141.8L208.2 144.8L204.8 147.4L200.9 149.6L196.5 151.2L191.6 152.3L186.4 153L180.9 153.1L175 152.7L169 151.8L162.7 150.4L156.4 148.5L150 146.1L143.5 143.3L137.2 140.1L130.9 136.4L124.8 132.4L118.9 128.1L113.3 123.5L108 118.7L103.1 113.6L98.6 108.4L94.5 103.1L90.9 97.7L87.7 92.3L85.1 86.9L83 81.6L81.5 76.5L80.5 71.4L80.1 66.6L80.3 62.1L80.9 57.8L82.1 53.8L83.8 50.2L86 47L88.7 44.2L91.8 41.8L95.2 39.9L99 38.4L103.1 37.3L107.5 36.8L112 36.7L116.8 37L121.6 37.8L126.5 39.1L131.4 40.7L136.2 42.8L141 45.3L145.6 48L150 51.1L154.1 54.5L158 58.1L161.6 62L164.8 66L167.6 70.1L170 74.3L171.9 78.5L173.4 82.8L174.5 87L175 91.1L175.1 95.1L174.7 98.9L173.8 102.5L172.5 105.9L170.7 109L168.5 111.8L165.9 114.3L163 116.5L159.7 118.2L156.1 119.7L152.2 120.7L148.2 121.3L144 121.6L139.6 121.4L135.2 120.9L130.8 119.9L126.4 118.6L122.1 117L117.9 115L113.9 112.8L110.1 110.2L106.6 107.5L103.4 104.5L100.6 101.3L98.1 98L96.1 94.6L94.5 91.1L93.3 87.6L92.7 84.2L92.5 80.7L92.9 77.4L93.8 74.2L95.1 71.2L97 68.4L99.4 65.8L102.2 63.5L105.5 61.5L109.2 59.9L113.3 58.5L117.7 57.5L122.5 56.9L127.5 56.7L132.8 56.9L138.2 57.5L143.8 58.4L149.4 59.8L155.1 61.5L160.7 63.6L166.3 66L171.7 68.7L176.9 71.8L181.8 75.1L186.5 78.6L190.8 82.4L194.7 86.3L198.2 90.3L201.2 94.5L203.7 98.6L205.7 102.8L207.1 107L208 111L208.3 115L207.9 118.7L207 122.3L205.4 125.6L203.3 128.7L200.6 131.4L197.3 133.8L193.5 135.8L189.2 137.4L184.4 138.6L179.2 139.4L173.5 139.7L167.6 139.6L161.3 139L154.8 137.9L148.1 136.4L141.2 134.4L134.3 132L127.4 129.2L120.5 126L113.7 122.4L107.1 118.4L100.7 114.2L94.6 109.6L88.8 104.8L83.4 99.8L78.4 94.7L73.8 89.4L69.8 84.1L66.3 78.7L63.4 73.4L61.1 68.2L59.4 63L58.4 58L58 53.3L58.2 48.7L59 44.5L60.5 40.6L62.6 37.1L65.3 33.9L68.6 31.2L72.4 29L76.8 27.2L81.6 25.9L86.8 25.1L92.4 24.8L98.3 25L104.5 25.7L111 27L117.6 28.7L124.2 30.9L131 33.6L137.7 36.8L144.4 40.3L150.9 44.3L157.3 48.5L163.4 53.1L169.2 58L174.7 63.1L179.8 68.4L184.5 73.9L188.7 79.4L192.4 85L195.6 90.6L198.3 96.1L200.4 101.5L201.9 106.8L202.8 112L203.2 116.8L203 121.5L202.2 125.8L200.8 129.7L198.9 133.3L196.5 136.5L193.7 139.3L190.3 141.6L186.6 143.5L182.5 144.8L178.1 145.7L173.4 146.1L168.4 146.1L163.3 145.5L158.1 144.5L152.8 143L147.5 141L142.2 138.7L137 136L131.9 132.9L127.1 129.4L122.4 125.7L118.1 121.7L114.1 117.5L110.4 113.2L107.1 108.7L104.3 104.1L101.9 99.5L99.9 94.8L98.5 90.2L97.5 85.7L97 81.4L97 77.2L97.6 73.2L98.6 69.5L100 66L101.9 62.8L104.3 60L107 57.5L110.1 55.4L113.5 53.8L117.1 52.5L121.1 51.6L125.2 51.1L129.4 51.1L133.8 51.4L138.2 52.2L142.6 53.4L146.9 54.9L151.2 56.7L155.2 58.9L159.1 61.4L162.8 64.2L166.1 67.2L169.2 70.4L171.8 73.8L174.1 77.2L175.9 80.8L177.3 84.4L178.3 88L178.7 91.6L178.7 95.1L178.1 98.5L177.1 101.7L175.5 104.8L173.5 107.6L171 110.1L168.1 112.4L164.8 114.4L161.1 116L157 117.3L152.6 118.2L147.9 118.7L143 118.8L138 118.6L132.8 117.9L127.5 116.9L122.2 115.5L116.9 113.7L111.7 111.6L106.7 109.2L101.8 106.4L97.1 103.4L92.8 100.2L88.8 96.7L85.2 93.1L81.9 89.3L79.2 85.4L76.9 81.5L75.2 77.5L74 73.6L73.3 69.8L73.3 66L73.8 62.5L74.9 59.1L76.6 55.9L78.8 53L81.7 50.4L85 48.1L88.9 46.2L93.3 44.7L98.1 43.6L103.3 42.9L108.9 42.6L114.9 42.8L121.1 43.4L127.5 44.5L134.1 46L140.9 48L147.6 50.4L154.4 53.1L161.1 56.3L167.7 59.8L174.1 63.7L180.2 67.9L186.1 72.3L191.6 76.9L196.7 81.8L201.4 86.8L205.6 91.9L209.3 97L212.4 102.2L214.9 107.3L216.8 112.3L218.1 117.2L218.7 122L218.7 126.5L218.1 130.7L216.8 134.7L214.9 138.3L212.3 141.5L209.2 144.4L205.5 146.8L201.2 148.7L196.5 150.2L191.3 151.2L185.7 151.7L179.7 151.7L173.4 151.1L166.8 150.1L160.1 148.5L153.2 146.5L146.2 143.9L139.2 140.9L132.2 137.5L125.3 133.7L118.6 129.5L112.1 125L105.9 120.2L100 115.1L94.4 109.8L89.3 104.3L84.6 98.7L80.4 93L76.7 87.3L73.6 81.7L71 76.1L69.1 70.6L67.7 65.2L67 60.1L66.9 55.3L67.4 50.7L68.4 46.4L70.1 42.6L72.3 39.1L75 36L78.2 33.4L81.9 31.3L86.1 29.6L90.6 28.5L95.4 27.8L100.5 27.7L105.9 28L111.4 28.9L117.1 30.2L122.8 32L128.6 34.3L134.3 36.9L139.9 40L145.4 43.5L150.7 47.2L155.7 51.3L160.5 55.7L164.9 60.2L168.9 64.9L172.6 69.8L175.8 74.7L178.5 79.7L180.7 84.6L182.5 89.5L183.7 94.3L184.5 99L184.7 103.5L184.4 107.8L183.6 111.8L182.3 115.5L180.5 118.9L178.3 121.9L175.7 124.6L172.7 126.9L169.4 128.7L165.8 130.2L161.9 131.2L157.7 131.7L153.5 131.9L149 131.6L144.6 130.9L140.1 129.7L135.6 128.2L131.2 126.4L127 124.1L122.9 121.6L119.1 118.8L115.5 115.7L112.2 112.4L109.3 108.9L106.7 105.3L104.6 101.5L102.9 97.8L101.6 94L100.8 90.2L100.5 86.4L100.7 82.8L101.3 79.4L102.5 76.1L104.1 73L106.1 70.1L108.6 67.6L111.5 65.3L114.8 63.4L118.5 61.8L122.4 60.6L126.7 59.7L131.1 59.2L135.8 59.1L140.6 59.5L145.4 60.1L150.3 61.2L155.2 62.6L160.1 64.4L164.8 66.5L169.3 68.9L173.6 71.6L177.6 74.6L181.3 77.7L184.7 81.1L187.7 84.6L190.2 88.2L192.3 91.8L193.9 95.5L194.9 99.2L195.5 102.9L195.4 106.4L194.9 109.8L193.7 113.1L192 116.1L189.8 118.9L187 121.4L183.8 123.6L180 125.4L175.8 126.9L171.1 128.1L166.1 128.8L160.7 129.1L155 129L149.1 128.4L142.9 127.5L136.7 126.1L130.3 124.3L123.9 122.1L117.5 119.5L111.2 116.5L105 113.2L99 109.6L93.3 105.7L87.9 101.6L82.8 97.2L78.2 92.7L74 88L70.2 83.3L67 78.5L64.4 73.6L62.3 68.9L60.8 64.2L60 59.7L59.8 55.3L60.2 51.1L61.3 47.2L63 43.6L65.3 40.4L68.2 37.5L71.7 35L75.7 32.9L80.3 31.3L85.3 30.1L90.8 29.5L96.6 29.3L102.8 29.6L109.3 30.4L116 31.7L122.9 33.5L129.9 35.7L137 38.4L144.1 41.6L151.1 45.2L158 49.1L164.7 53.4L171.1 58.1L177.3 63L183.1 68.1L188.6 73.4L193.6 78.9L198.1 84.5L202.1 90.2L205.5 95.8L208.4 101.4L210.7 106.9L212.4 112.3L213.4 117.5L213.9 122.5L213.7 127.2L212.8 131.6L211.4 135.6L209.4 139.3L206.8 142.6L203.7 145.4L200.1 147.7L196 149.6L191.5 151L186.6 151.9L181.4 152.2L175.8 152.1L170.1 151.4L164.2 150.3L158.1 148.6L152 146.5L145.9 143.9L139.8 140.9L133.8 137.5L128 133.8L122.4 129.7L117.1 125.3L112.1 120.7L107.4 115.9L103.1 110.9L99.2 105.8L95.8 100.6L92.8 95.4L90.4 90.2L88.5 85L87.1 80L86.3 75.2L86 70.5L86.2 66.1L87 61.9L88.2 58.1L90 54.6L92.2 51.5L94.8 48.7L97.9 46.4L101.3 44.5L105 43L109 42L113.3 41.4L117.7 41.3L122.3 41.7L126.9 42.4L131.6 43.6L136.3 45.2L140.9 47.2L145.3 49.6L149.6 52.2L153.7 55.2L157.6 58.4L161.1 61.9L164.3 65.5L167.1 69.3L169.5 73.3L171.5 77.2L173.1 81.2L174.1 85.2L174.7 89.2L174.9 93L174.5 96.7L173.6 100.2L172.3 103.5L170.5 106.6L168.3 109.4L165.6 111.9L162.6 114L159.2 115.8L155.5 117.3L151.5 118.3L147.3 119L142.8 119.3L138.3 119.2L133.6 118.7L128.9 117.8L124.2 116.6L119.5 115L115 113L110.6 110.8L106.4 108.2L102.5 105.4L98.9 102.4L95.6 99.2L92.7 95.8L90.2 92.3L88.2 88.8L86.7 85.1L85.6 81.5L85.1 78L85.1 74.5L85.6 71.1L86.7 67.9L88.3 64.9L90.5 62.1L93.2 59.6L96.3 57.4L100 55.5L104 54L108.5 52.8L113.4 52.1L118.6 51.7L124.1 51.7L129.8 52.2L135.8 53L141.8 54.3L148 56L154.1 58L160.3 60.5L166.3 63.3L172.2 66.4L177.9 69.9L183.4 73.6L188.5 77.5L193.3 81.7L197.7 86.1L201.6 90.5L205.1 95.1L208 99.7L210.4 104.3L212.2 108.8L213.4 113.3L214 117.6L213.9 121.7L213.3 125.7L212 129.3L210.1 132.7L207.5 135.8L204.4 138.4L200.8 140.7L196.6 142.6L191.9 144L186.7 145L181.1 145.5L175.1 145.5L168.8 145.1L162.3 144.1L155.5 142.7L148.6 140.8L141.5 138.4L134.4 135.6L127.4 132.3L120.4 128.7L113.6 124.7L106.9 120.3L100.5 115.6L94.5 110.7L88.7 105.6L83.4 100.2L78.6 94.8L74.2 89.2L70.4 83.6L67.1 78.1L64.5 72.5L62.4 67.1L60.9 61.9L60.1 56.8L59.9 51.9L60.4 47.4L61.5 43.2L63.1 39.3L65.4 35.8L68.3 32.8L71.7 30.2L75.6 28L80 26.4L84.8 25.2L90 24.6L95.5 24.5L101.3 24.9L107.4 25.8L113.6 27.2L119.9 29.1L126.3 31.5L132.7 34.3L139.1 37.6L145.3 41.2L151.4 45.2L157.2 49.5L162.8 54.2L168.1 59L173 64.1L177.5 69.3L181.6 74.7L185.2 80.1L188.3 85.5L190.8 90.9L192.9 96.2L194.4 101.3L195.3 106.4L195.7 111.2L195.6 115.7L194.9 120L193.6 124L191.9 127.5L189.7 130.8L187 133.6L183.9 135.9L180.4 137.9L176.6 139.3L172.5 140.4L168.1 140.9L163.6 141L158.8 140.6L154 139.7L149.1 138.5L144.2 136.8L139.4 134.7L134.7 132.2L130.1 129.4L125.7 126.3L121.6 122.8L117.7 119.2L114.2 115.3L111 111.3L108.3 107.2L105.9 103L104 98.7L102.5 94.4L101.5 90.2L101 86.1L101 82.1L101.4 78.3L102.3 74.7L103.7 71.3L105.5 68.2L107.8 65.4L110.4 62.9L113.4 60.8L116.7 59L120.4 57.6L124.2 56.6L128.3 56L132.6 55.8L136.9 56L141.3 56.6L145.8 57.6L150.2 58.9L154.5 60.6L158.7 62.6L162.7 64.9L166.4 67.4L169.9 70.3L173.1 73.3L175.9 76.5L178.4 79.8L180.4 83.3L182 86.8L183.1 90.3L183.7 93.8L183.8 97.2L183.4 100.6L182.5 103.8L181.1 106.8L179.2 109.6L176.7 112.2L173.9 114.5L170.5 116.5L166.8 118.1L162.6 119.4L158.1 120.4L153.3 121L148.2 121.2L142.9 121L137.5 120.4L131.8 119.4L126.2 118L120.5 116.2L114.8 114.1L109.2 111.6L103.8 108.8L98.6 105.7L93.6 102.4L89 98.8L84.7 95L80.7 91L77.3 86.9L74.3 82.8L71.8 78.6L69.8 74.3L68.4 70.2L67.6 66.1L67.4 62.1L67.7 58.3L68.7 54.7L70.3 51.4L72.5 48.3L75.2 45.6L78.6 43.2L82.4 41.1L86.8 39.5L91.6 38.3L96.9 37.6L102.6 37.3L108.6 37.4L114.9 38L121.5 39.1L128.2 40.7L135.1 42.7L142.1 45.1L149 48L156 51.3L162.8 54.9L169.4 58.9L175.8 63.2L182 67.8L187.8 72.7L193.2 77.7L198.2 82.9L202.7 88.2L206.7 93.6L210.2 99L213.1 104.4L215.4 109.7L217.1 114.8L218.1 119.9L218.5 124.7L218.2 129.2L217.4 133.5L215.8 137.4L213.7 141L211 144.1L207.7 146.9L203.8 149.1L199.5 150.9L194.7 152.2L189.4 153L183.8 153.3L177.9 153.1L171.7 152.4L165.2 151.1L158.6 149.4L152 147.1L145.2 144.4L138.5 141.3L131.9 137.7L125.4 133.8L119.1 129.5L113 124.9L107.2 120L101.8 114.9L96.7 109.6L92.1 104.1L88 98.6L84.3 93L81.2 87.4L78.6 81.9L76.5 76.5L75.1 71.2L74.2 66.1L73.9 61.2L74.2 56.6L75 52.3L76.4 48.4L78.3 44.8L80.8 41.6L83.6 38.9L87 36.6L90.7 34.7L94.8 33.4L99.2 32.5L103.9 32.1L108.8 32.2L113.9 32.8L119 33.8L124.3 35.3L129.5 37.3L134.7 39.6L139.8 42.3L144.7 45.4L149.5 48.8L154 52.5L158.2 56.4L162.1 60.6L165.6 64.9L168.7 69.3L171.5 73.9L173.7 78.4L175.5 83L176.8 87.5L177.6 91.9L177.9 96.1L177.8 100.2L177.1 104.1L176 107.8L174.4 111.1L172.4 114.2L169.9 116.9L167.1 119.2L164 121.2L160.5 122.8L156.7 124L152.8 124.8L148.6 125.1L144.4 125.1L140 124.7L135.6 123.8L131.2 122.6L126.9 121L122.7 119.1L118.7 116.9L114.9 114.3L111.3 111.5L108.1 108.5L105.2 105.3L102.6 102L100.5 98.5L98.8 95L97.5 91.4L96.7 87.8L96.4 84.3L96.6 80.9L97.3 77.6L98.5 74.5L100.2 71.5L102.3 68.8L105 66.3L108 64.2L111.5 62.3L115.4 60.8L119.6 59.7L124.1 58.9L128.8 58.5L133.8 58.5L139 58.9L144.3 59.7L149.7 60.8L155 62.3L160.4 64.2L165.6 66.4L170.7 69L175.6 71.8L180.3 74.9L184.6 78.3L188.7 81.8L192.3 85.5L195.5 89.4L198.2 93.3L200.5 97.3L202.2 101.2L203.4 105.2L204 109.1L204 112.8L203.5 116.4L202.3 119.8L200.6 122.9L198.3 125.8L195.4 128.4L192 130.6L188.1 132.5L183.7 134L178.8 135.1L173.6 135.8L167.9 136L161.9 135.8L155.7 135.1L149.2 134L142.6 132.4L135.9 130.4L129.1 127.9L122.3 125.1L115.6 121.9L109 118.3L102.6 114.4L96.4 110.2L90.5 105.7L85 101L79.9 96.1L75.2 91.1L71 86L67.3 80.8L64.2 75.6L61.7 70.4L59.7 65.4L58.4 60.4L57.8 55.7L57.7 51.2L58.4 46.9L59.6 42.9L61.5 39.3L64.1 36L67.2 33.2L70.8 30.7L75 28.8L79.7 27.3L84.9 26.3L90.5 25.8L96.4 25.8L102.6 26.4L109.1 27.4L115.8 28.9L122.7 31L129.6 33.5L136.5 36.5L143.5 39.9L150.3 43.7L156.9 47.8L163.4 52.3L169.5 57.2L175.4 62.2L180.9 67.5L186 73L190.6 78.5L194.8 84.2L198.4 89.8L201.5 95.5L204 101.1L205.9 106.5L207.2 111.8L207.9 116.9L208 121.8L207.5 126.3L206.5 130.6L204.8 134.4L202.6 137.9L199.9 140.9L196.7 143.5L193 145.6L189 147.3L184.5 148.4L179.7 149.1L174.7 149.2L169.4 148.9L163.9 148L158.4 146.7L152.7 144.9L147.1 142.7L141.5 140L136 137L130.6 133.6L125.5 129.8L120.5 125.8L115.9 121.5L111.6 117.1L107.7 112.4L104.2 107.6L101.2 102.8L98.6 97.9L96.4 93L94.8 88.2L93.7 83.5L93.1 78.9L93 74.5L93.4 70.3L94.3 66.4L95.7 62.8L97.6 59.5L99.8 56.6L102.5 54L105.6 51.8L108.9 50.1L112.6 48.7L116.5 47.8L120.7 47.3L125 47.3L129.4 47.6L133.8 48.4L138.3 49.6L142.7 51.1L147 53L151.2 55.3L155.1 57.9L158.9 60.7L162.4 63.8L165.5 67.1L168.3 70.5L170.7 74.1L172.7 77.8L174.3 81.5L175.4 85.3L176 89L176.2 92.6L175.8 96.1L175 99.5L173.7 102.7L171.9 105.6L169.6 108.4L167 110.8L163.9 112.9L160.4 114.7L156.6 116.1L152.5 117.2L148.1 117.9L143.5 118.2L138.7 118.1L133.8 117.7L128.8 116.8L123.8 115.6L118.8 114L113.9 112.1L109.1 109.8L104.5 107.3L100.1 104.4L96 101.4L92.3 98.1L88.9 94.6L85.9 91L83.3 87.3L81.2 83.6L79.7 79.8L78.6 76.1L78.1 72.4L78.2 68.8L78.8 65.4L80 62.1L81.7 59.1L84 56.3L86.9 53.8L90.2 51.6L94.1 49.8L98.4 48.3L103.1 47.3L108.3 46.6L113.8 46.4L119.6 46.6L125.6 47.2L131.9 48.3L138.3 49.7L144.7 51.6L151.3 54L157.8 56.7L164.2 59.7L170.5 63.2L176.6 66.9L182.4 70.9L188 75.2L193.2 79.7L197.9 84.3L202.3 89.1L206.1 94L209.5 99L212.2 103.9L214.4 108.8L216 113.6L217 118.3L217.3 122.8L217 127L216 131L214.5 134.7L212.3 138.1L209.5 141.1L206.1 143.7L202.2 145.9L197.7 147.6L192.8 148.8L187.4 149.6L181.7 149.8L175.6 149.6L169.2 148.9L162.6 147.6L155.7 145.9L148.8 143.7L141.8 141L134.8 137.9L127.8 134.4L121 130.5L114.4 126.2L107.9 121.6L101.8 116.7L96 111.6L90.6 106.3L85.6 100.8L81 95.2L77 89.6L73.5 83.9L70.6 78.3L68.3 72.8L66.5 67.4L65.4 62.2L64.9 57.2L65 52.4L65.7 48L67 43.9L68.8 40.2L71.3 36.9L74.2 34L77.7 31.6L81.6 29.6L85.9 28.2L90.6 27.2L95.7 26.7L101 26.8L106.5 27.4L112.2 28.4L118.1 29.9L124 31.9L129.9 34.4L135.7 37.2L141.4 40.5L147 44.1L152.4 48L157.5 52.3L162.4 56.8L166.8 61.4L170.9 66.3L174.6 71.3L177.9 76.3L180.6 81.4L182.9 86.4L184.7 91.4L185.9 96.2L186.6 101L186.8 105.5L186.5 109.8L185.7 113.8L184.4 117.5L182.6 120.9L180.4 124L177.7 126.6L174.7 128.9L171.3 130.7L167.6 132.1L163.7 133.1L159.6 133.6L155.2 133.7L150.8 133.3L146.3 132.5L141.7 131.4L137.2 129.8L132.8 127.8L128.5 125.5L124.4 122.9L120.5 120L116.9 116.9L113.6 113.5L110.6 110L108 106.3L105.8 102.5L104 98.7L102.7 94.8L101.8 90.9L101.4 87.2L101.5 83.5L102.1 80L103.2 76.6L104.7 73.5L106.6 70.6L109 68L111.8 65.6L115 63.6L118.5 62L122.3 60.7L126.4 59.8L130.7 59.3L135.2 59.1L139.8 59.3L144.5 60L149.3 60.9L154 62.3L158.6 64L163.2 66L167.5 68.3L171.7 70.9L175.5 73.8L179.1 76.8L182.3 80.1L185.1 83.5L187.5 87L189.4 90.5L190.9 94.1L191.8 97.7L192.2 101.2L192.1 104.7L191.5 108L190.3 111.1L188.5 114L186.3 116.7L183.5 119.1L180.2 121.3L176.5 123L172.3 124.5L167.7 125.5L162.7 126.2L157.4 126.5L151.8 126.4L146 125.8L140 124.8L133.9 123.5L127.7 121.7L121.5 119.5L115.3 117L109.2 114.1L103.3 110.9L97.5 107.4L92.1 103.6L86.9 99.5L82.1 95.3L77.7 90.9L73.8 86.4L70.4 81.8L67.5 77.2L65.1 72.6L63.4 68L62.2 63.5L61.6 59.2L61.7 55L62.4 51.1L63.8 47.5L65.7 44.1L68.3 41.1L71.4 38.4L75.1 36.2L79.4 34.3L84.2 32.9L89.4 32L95 31.5L101 31.6L107.4 32.1L114 33.1L120.8 34.6L127.8 36.5L134.8 39L141.9 41.9L149 45.2L156 48.9L162.9 52.9L169.5 57.3L175.9 62L182 67L187.7 72.2L193 77.6L197.8 83.1L202.2 88.6L206 94.2L209.2 99.8L211.9 105.4L213.9 110.8L215.3 116.1L216.1 121.2L216.3 126L215.8 130.6L214.7 134.8L212.9 138.7L210.6 142.1L207.7 145.2L204.2 147.7L200.3 149.9L195.9 151.5L191 152.6L185.8 153.2L180.2 153.3L174.4 152.8L168.3 151.9L162.1 150.4L155.7 148.5L149.3 146.1L142.9 143.2L136.6 139.9L130.4 136.3L124.3 132.2L118.5 127.9L113 123.2L107.8 118.3L102.9 113.3L98.5 108L94.5 102.7L90.9 97.3L87.9 91.9L85.4 86.5L83.5 81.2L82 76L81.2 71.1L80.9 66.3L81.2 61.8L82 57.5L83.3 53.6L85.1 50.1L87.4 47L90.2 44.2L93.4 41.9L96.9 40L100.8 38.6L105 37.7L109.5 37.2L114.1 37.2L118.8 37.7L123.7 38.6L128.6 40L133.5 41.7L138.3 43.9L143.1 46.4L147.6 49.3L151.9 52.4L156 55.9L159.8 59.6L163.3 63.5L166.3 67.5L169 71.6L171.3 75.8L173.1 80.1L174.4 84.3L175.2 88.5L175.6 92.5L175.5 96.5L174.8 100.2L173.8 103.7L172.2 107L170.2 110L167.8 112.7L165 115.1L161.8 117.1L158.3 118.7L154.5 120L150.5 120.8L146.2 121.3L141.8 121.4L137.3 121L132.8 120.3L128.2 119.2L123.7 117.7L119.3 115.9L115.1 113.8L111 111.4L107.2 108.7L103.7 105.7L100.5 102.6L97.7 99.3L95.2 95.9L93.3 92.4L91.7 88.8L90.7 85.2L90.2 81.7L90.2 78.2L90.7 74.9L91.7 71.7L93.3 68.7L95.3 65.9L97.9 63.4L100.9 61.2L104.4 59.2L108.4 57.7L112.7 56.4L117.4 55.6L122.4 55.1L127.6 55.1L133.1 55.4L138.8 56.2L144.6 57.3L150.4 58.9L156.3 60.8L162.1 63.1L167.9 65.7L173.5 68.7L178.8 71.9L183.9 75.5L188.7 79.2L193.1 83.2L197.2 87.3L200.8 91.5L203.8 95.9L206.4 100.2L208.5 104.6L209.9 108.9L210.8 113.1L211 117.2L210.7 121L209.7 124.7L208.1 128.1L205.9 131.3L203.2 134.1L199.8 136.5L195.9 138.6L191.5 140.2L186.6 141.4L181.3 142.2L175.6 142.5L169.5 142.3L163.1 141.6L156.5 140.5L149.7 138.9L142.7 136.9L135.7 134.3L128.7 131.4L121.7 128.1L114.8 124.4L108.1 120.3L101.6 115.9L95.4 111.2L89.5 106.3L84 101.2L78.9 95.9L74.3 90.5L70.2 85L66.7 79.5L63.7 74.1L61.4 68.7L59.6 63.4L58.5 58.3L58 53.4L58.2 48.8L59 44.5L60.5 40.5L62.5 36.8L65.2 33.6L68.4 30.8L72.2 28.5L76.4 26.6L81.2 25.3L86.3 24.4L91.9 24.1L97.7 24.3L103.8 25L110.2 26.2L116.7 27.9L123.3 30.1L129.9 32.7L136.5 35.8L143.1 39.4L149.5 43.3L155.7 47.5L161.7 52.1L167.4 56.9L172.7 62L177.7 67.3L182.2 72.7L186.3 78.1L189.9 83.7L193 89.2L195.5 94.7L197.5 100.1L198.9 105.3L199.7 110.4L200 115.2L199.7 119.8L198.8 124L197.4 127.9L195.5 131.5L193.1 134.6L190.2 137.3L186.9 139.6L183.2 141.4L179.2 142.7L174.8 143.6L170.2 143.9L165.4 143.8L160.4 143.2L155.3 142.2L150.2 140.7L145 138.8L140 136.5L135 133.8L130.2 130.7L125.6 127.4L121.2 123.7L117.1 119.9L113.4 115.8L110 111.5L107 107.2L104.5 102.7L102.4 98.2L100.7 93.8L99.6 89.4L98.9 85.1L98.7 80.9L99 76.9L99.8 73.1L101.1 69.6L102.8 66.3L104.9 63.4L107.4 60.8L110.3 58.6L113.6 56.7L117.1 55.2L120.9 54.1L124.9 53.4L129.1 53.1L133.4 53.3L137.8 53.8L142.1 54.7L146.5 56L150.8 57.6L155 59.6L158.9 61.9L162.7 64.4L166.2 67.3L169.4 70.3L172.2 73.5L174.7 76.8L176.7 80.3L178.4 83.8L179.5 87.4L180.2 90.9L180.4 94.4L180.1 97.7L179.3 101L178 104.1L176.2 107L173.9 109.6L171.2 112L168 114L164.4 115.8L160.5 117.2L156.2 118.3L151.6 119L146.7 119.3L141.7 119.2L136.4 118.7L131.1 117.9L125.7 116.6L120.3 115L114.9 113L109.6 110.7L104.5 108.1L99.6 105.2L95 102.1L90.6 98.7L86.6 95.1L83 91.3L79.8 87.4L77.1 83.5L74.9 79.5L73.2 75.5L72.1 71.5L71.6 67.7L71.6 63.9L72.2 60.3L73.4 57L75.2 53.8L77.6 51L80.5 48.4L84 46.2L88 44.4L92.5 43L97.4 41.9L102.7 41.3L108.4 41.2L114.5 41.4L120.8 42.2L127.3 43.4L134 45L140.8 47.1L147.6 49.6L154.4 52.5L161.2 55.7L167.8 59.4L174.2 63.4L180.4 67.6L186.3 72.2L191.8 76.9L196.9 81.8L201.6 86.9L205.8 92.1L209.5 97.3L212.6 102.5L215.1 107.7L217 112.8L218.3 117.8L218.9 122.5L218.9 127.1L218.2 131.4L216.9 135.4L215 139L212.4 142.3L209.3 145.1L205.6 147.5L201.4 149.5L196.6 151L191.4 151.9L185.8 152.4L179.9 152.4L173.6 151.8L167.1 150.7L160.4 149.2L153.5 147.1L146.6 144.6L139.7 141.6L132.8 138.2L126 134.3L119.3 130.1L112.9 125.6L106.7 120.8L100.9 115.7L95.4 110.4L90.4 104.9L85.8 99.3L81.7 93.6L78.1 88L75.1 82.3L72.6 76.7L70.7 71.2L69.5 65.9L68.8 60.9L68.7 56L69.3 51.5L70.4 47.3L72.1 43.4L74.3 40L77.1 37L80.3 34.4L84 32.3L88.1 30.7L92.6 29.5L97.4 28.9L102.4 28.8L107.7 29.1L113.1 30L118.7 31.3L124.3 33.2L129.9 35.4L135.5 38.1L140.9 41.1L146.2 44.5L151.3 48.2L156.1 52.3L160.6 56.5L164.8 61L168.6 65.6L172 70.4L174.9 75.2L177.4 80L179.4 84.9L180.8 89.6L181.8 94.3L182.3 98.8L182.2 103.1L181.7 107.2L180.6 111L179.1 114.5L177.1 117.7L174.7 120.6L171.9 123.1L168.7 125.1L165.2 126.8L161.5 128.1L157.4 128.9L153.2 129.3L148.9 129.2L144.5 128.8L140 127.9L135.5 126.7L131.1 125L126.8 123.1L122.6 120.7L118.7 118.1L115 115.2L111.6 112.1L108.5 108.8L105.8 105.3L103.5 101.7L101.6 98.1L100.2 94.3L99.3 90.6L98.8 87L98.8 83.4L99.4 79.9L100.4 76.6L101.9 73.5L103.9 70.7L106.3 68L109.2 65.7L112.5 63.7L116.1 62.1L120.1 60.8L124.4 59.8L129 59.3L133.8 59.1L138.8 59.4L143.8 60L149 61L154.1 62.4L159.2 64.1L164.3 66.2L169.2 68.6L173.8 71.3L178.3 74.2L182.4 77.4L186.2 80.8L189.7 84.4L192.6 88.1L195.2 91.9L197.2 95.7L198.8 99.5L199.8 103.3L200.2 107.1L200.1 110.7L199.4 114.2L198.1 117.4L196.3 120.5L193.8 123.2L190.9 125.7L187.4 127.8L183.4 129.6L179 131L174.1 132L168.8 132.6L163.2 132.7L157.3 132.4L151.1 131.7L144.7 130.6L138.2 129L131.6 127L124.9 124.5L118.3 121.7L111.8 118.5L105.4 115L99.2 111.1L93.3 107L87.7 102.6L82.5 98L77.6 93.2L73.2 88.3L69.4 83.4L66 78.3L63.2 73.3L61 68.4L59.4 63.5L58.5 58.8L58.2 54.2L58.5 49.9L59.4 45.9L61 42.2L63.3 38.8L66.1 35.8L69.5 33.2L73.5 31L78 29.3L82.9 28.1L88.4 27.4L94.2 27.1L100.3 27.4L106.7 28.2L113.4 29.5L120.3 31.2L127.2 33.5L134.3 36.2L141.3 39.4L148.3 43L155.1 46.9L161.8 51.3L168.3 55.9L174.4 60.8L180.2 66L185.6 71.4L190.6 76.9L195.1 82.5L199.2 88.2L202.6 93.9L205.5 99.5L207.8 105.1L209.5 110.5L210.6 115.7L211.1 120.8L211 125.5L210.3 129.9L208.9 134L207 137.7L204.5 141L201.5 143.9L198 146.3L194.1 148.2L189.7 149.6L185 150.5L179.9 150.9L174.6 150.8L169 150.2L163.3 149.2L157.4 147.6L151.5 145.5L145.6 143L139.8 140.1L134 136.8L128.4 133.2L123.1 129.2L118 124.9L113.1 120.4L108.7 115.7L104.6 110.8L101 105.8L97.7 100.7L95 95.6L92.8 90.6L91 85.6L89.8 80.7L89.1 76L89 71.4L89.3 67.1L90.2 63.1L91.5 59.4L93.3 56L95.6 53L98.3 50.4L101.3 48.1L104.7 46.3L108.4 45L112.4 44L116.6 43.6L120.9 43.5L125.4 43.9L129.9 44.7L134.4 45.9L138.9 47.5L143.3 49.5L147.6 51.8L151.7 54.5L155.6 57.4L159.2 60.6L162.5 64L165.5 67.6L168 71.3L170.2 75.1L172 79L173.2 82.8L174.1 86.7L174.4 90.5L174.3 94.2L173.7 97.7L172.6 101L171.1 104.2L169.1 107.1L166.7 109.7L163.9 112L160.7 114L157.2 115.6L153.4 116.9L149.3 117.8L145 118.3L140.5 118.4L135.9 118.2L131.2 117.5L126.5 116.5L121.8 115.2L117.2 113.5L112.7 111.4L108.4 109.1L104.3 106.5L100.5 103.6L97 100.6L93.9 97.3L91.1 93.9L88.8 90.4L86.9 86.9L85.5 83.3L84.7 79.7L84.3 76.2L84.5 72.8L85.2 69.5L86.4 66.4L88.2 63.5L90.5 60.8L93.3 58.4L96.6 56.3L100.4 54.6L104.6 53.2L109.2 52.2L114.2 51.5L119.5 51.3L125.1 51.4L130.9 52L136.8 53L143 54.4L149.1 56.2L155.3 58.4L161.4 60.9L167.5 63.8L173.4 67.1L179 70.6L184.4 74.4L189.5 78.4L194.3 82.7L198.6 87L202.5 91.6L205.8 96.1L208.7 100.8L211 105.4L212.7 109.9L213.8 114.4L214.3 118.7L214.2 122.8L213.5 126.7L212.1 130.4L210.1 133.7L207.6 136.7L204.4 139.4L200.7 141.6L196.5 143.4L191.7 144.8L186.5 145.7L180.9 146.2L175 146.1L168.7 145.6L162.1 144.6L155.4 143.1L148.5 141.2L141.5 138.8L134.4 135.9L127.4 132.6L120.5 128.9L113.8 124.9L107.2 120.5L100.9 115.8L94.9 110.9L89.3 105.7L84 100.4L79.3 94.9L75 89.4L71.3 83.8L68.1 78.3L65.5 72.8L63.5 67.4L62.1 62.1L61.3 57.1L61.2 52.3L61.7 47.8L62.8 43.6L64.5 39.7L66.8 36.3L69.7 33.2L73.1 30.7L77 28.6L81.3 26.9L86.1 25.8L91.2 25.2L96.6 25.1L102.4 25.5L108.3 26.4L114.4 27.8L120.6 29.7L126.8 32L133.1 34.8L139.2 38L145.3 41.6L151.2 45.6L156.8 49.8L162.2 54.4L167.2 59.2L171.9 64.1L176.2 69.2L180 74.5L183.4 79.8L186.3 85L188.6 90.3L190.4 95.5L191.7 100.5L192.5 105.4L192.7 110L192.3 114.5L191.5 118.6L190.1 122.4L188.2 125.8L185.9 128.9L183.1 131.5L179.9 133.8L176.4 135.6L172.6 136.9L168.4 137.8L164.1 138.3L159.6 138.2L154.9 137.8L150.2 136.9L145.4 135.5L140.7 133.8L136 131.7L131.5 129.2L127.1 126.4L123 123.3L119.1 119.9L115.5 116.3L112.3 112.6L109.4 108.7L107 104.6L104.9 100.6L103.4 96.5L102.3 92.4L101.6 88.4L101.5 84.5L101.8 80.7L102.7 77.1L103.9 73.8L105.7 70.7L107.9 67.8L110.4 65.3L113.4 63.1L116.7 61.3L120.4 59.8L124.3 58.7L128.4 58L132.7 57.7L137.2 57.8L141.7 58.3L146.3 59.1L150.8 60.3L155.3 61.9L159.7 63.8L164 66L168 68.5L171.7 71.3L175.2 74.2L178.3 77.4L181 80.7L183.3 84.1L185.2 87.6L186.6 91.2L187.5 94.7L187.9 98.2L187.8 101.6L187.1 104.9L186 108L184.3 110.9L182.1 113.6L179.4 116L176.2 118.2L172.5 120L168.5 121.4L164 122.5L159.2 123.3L154.1 123.6L148.7 123.5L143.1 123.1L137.3 122.2L131.5 120.9L125.5 119.3L119.6 117.2L113.7 114.8L107.9 112.1L102.3 109L96.8 105.6L91.7 102L86.9 98.2L82.4 94.1L78.4 89.9L74.8 85.6L71.7 81.3L69.1 76.8L67.1 72.5L65.6 68.1L64.7 63.9L64.5 59.8L64.8 55.9L65.8 52.2L67.4 48.7L69.6 45.6L72.4 42.8L75.7 40.4L79.6 38.3L84 36.7L88.9 35.5L94.3 34.8L100 34.5L106.1 34.7L112.4 35.4L119 36.5L125.8 38.1L132.8 40.2L139.8 42.8L146.8 45.7L153.8 49.1L160.6 52.8L167.3 56.9L173.8 61.3L180 66L185.9 70.9L191.3 76.1L196.4 81.4L201 86.8L205 92.3L208.6 97.8L211.5 103.2L213.9 108.6L215.6 113.9L216.7 119L217.2 123.8L217 128.5L216.2 132.8L214.7 136.8L212.7 140.4L210 143.6L206.8 146.4L203 148.7L198.8 150.6L194.1 151.9L189 152.8L183.5 153.1L177.6 152.9L171.6 152.2L165.3 151L158.8 149.3L152.3 147.1L145.7 144.4L139.1 141.3L132.6 137.8L126.3 133.9L120.1 129.6L114.2 125.1L108.5 120.2L103.2 115.2L98.3 109.9L93.8 104.6L89.8 99.1L86.3 93.6L83.3 88L80.8 82.6L78.9 77.2L77.5 72L76.7 67L76.5 62.2L76.9 57.6L77.8 53.4L79.2 49.5L81.2 46L83.6 42.9L86.5 40.2L89.9 38L93.6 36.2L97.7 34.9L102 34.1L106.6 33.8L111.5 33.9L116.4 34.5L121.5 35.6L126.6 37.1L131.7 39L136.8 41.4L141.7 44.1L146.5 47.2L151 50.5L155.4 54.2L159.4 58.1L163.1 62.2L166.4 66.4L169.3 70.8L171.8 75.2L173.8 79.7L175.4 84.1L176.5 88.5L177 92.8L177.1 97L176.8 100.9L175.9 104.7L174.6 108.2L172.8 111.4L170.6 114.3L168 116.8L165 119L161.7 120.8L158.1 122.3L154.2 123.3L150.2 123.9L145.9 124.1L141.6 123.9L137.2 123.3L132.8 122.4L128.4 121L124.1 119.3L120 117.3L116 114.9L112.2 112.3L108.8 109.5L105.6 106.4L102.8 103.2L100.4 99.8L98.4 96.3L96.8 92.8L95.8 89.2L95.2 85.7L95.1 82.2L95.5 78.8L96.4 75.6L97.8 72.5L99.7 69.7L102 67.1L104.9 64.8L108.2 62.7L111.8 61.1L115.9 59.7L120.3 58.7L125 58.1L130 57.9L135.1 58.1L140.5 58.6L145.9 59.6L151.4 60.9L156.9 62.6L162.4 64.7L167.7 67.1L172.9 69.8L177.9 72.8L182.6 76.1L187 79.6L191.1 83.3L194.7 87.2L197.9 91.1L200.7 95.2L202.9 99.3L204.6 103.3L205.7 107.4L206.3 111.3L206.2 115.1L205.6 118.7L204.4 122.2L202.6 125.3L200.2 128.2L197.2 130.8L193.7 133L189.7 134.9L185.2 136.3L180.2 137.4L174.8 137.9L169.1 138.1L163 137.8L156.7 137L150.1 135.8L143.4 134.1L136.5 132L129.7 129.5L122.8 126.5L116 123.2L109.3 119.5L102.9 115.5L96.6 111.1L90.7 106.5L85.1 101.7L79.9 96.7L75.2 91.6L71 86.3L67.2 81L64.1 75.7L61.5 70.5L59.5 65.3L58.2 60.3L57.4 55.4L57.4 50.8L58 46.4L59.2 42.4L61 38.7L63.5 35.3L66.5 32.4L70.1 29.9L74.2 27.9L78.8 26.3L83.9 25.3L89.4 24.7L95.2 24.7L101.4 25.2L107.8 26.2L114.3 27.6L121.1 29.6L127.9 32.1L134.7 35L141.5 38.4L148.2 42.1L154.7 46.3L161 50.7L167.1 55.5L172.8 60.5L178.2 65.7L183.2 71.1L187.7 76.7L191.7 82.3L195.2 87.9L198.2 93.5L200.7 99L202.5 104.5L203.8 109.7L204.4 114.8L204.5 119.6L204 124.1L203 128.3L201.3 132.1L199.2 135.6L196.5 138.6L193.4 141.2L189.8 143.3L185.9 145L181.5 146.1L176.9 146.8L172 147L166.9 146.7L161.7 145.9L156.3 144.7L150.9 143L145.6 140.8L140.2 138.3L135 135.3L129.9 132L125.1 128.4L120.5 124.6L116.2 120.4L112.3 116.1L108.7 111.7L105.6 107.1L102.8 102.4L100.6 97.7L98.8 93.1L97.5 88.5L96.7 84L96.4 79.6L96.6 75.5L97.3 71.5L98.5 67.9L100.1 64.5L102.2 61.4L104.7 58.7L107.6 56.4L110.8 54.4L114.3 52.8L118.1 51.7L122.1 51L126.2 50.7L130.6 50.8L134.9 51.3L139.3 52.2L143.7 53.5L148 55.1L152.2 57.1L156.2 59.4L160 62L163.6 64.9L166.8 68L169.7 71.2L172.2 74.6L174.3 78.1L176 81.7L177.2 85.3L177.9 88.9L178.2 92.5L178 95.9L177.2 99.3L176 102.4L174.3 105.4L172.2 108.1L169.5 110.5L166.5 112.7L163 114.5L159.2 116L155.1 117.2L150.6 117.9L145.9 118.3L141 118.3L135.9 117.9L130.8 117.2L125.5 116L120.3 114.5L115.2 112.7L110.1 110.5L105.2 108L100.5 105.2L96 102.1L91.9 98.8L88.1 95.4L84.7 91.8L81.7 88L79.3 84.2L77.3 80.3L75.8 76.5L74.9 72.7L74.5 68.9L74.7 65.3L75.5 61.9L76.8 58.7L78.8 55.7L81.3 52.9L84.3 50.5L87.9 48.5L91.9 46.7L96.5 45.4L101.4 44.5L106.8 44L112.5 43.9L118.5 44.3L124.7 45.1L131.1 46.3L137.7 48L144.4 50.1L151.1 52.6L157.7 55.5L164.3 58.8L170.7 62.4L176.9 66.3L182.9 70.5L188.5 75L193.8 79.6L198.6 84.5L203 89.4L206.9 94.4L210.3 99.5L213 104.6L215.2 109.6L216.8 114.5L217.8 119.2L218.1 123.8L217.8 128.1L216.8 132.1L215.2 135.9L213 139.2L210.1 142.2L206.7 144.8L202.8 147L198.3 148.7L193.3 149.9L187.9 150.6L182.1 150.8L176 150.6L169.6 149.8L162.9 148.5L156.1 146.7L149.2 144.4L142.2 141.7L135.1 138.5L128.2 134.9L121.4 130.9L114.8 126.6L108.3 121.9L102.2 117L96.5 111.8L91.1 106.4L86.1 100.9L81.6 95.3L77.7 89.6L74.2 84L71.4 78.3L69.1 72.8L67.4 67.4L66.3 62.2L65.9 57.2L66 52.4L66.8 48L68.1 44L70 40.3L72.5 37L75.5 34.1L79 31.8L82.9 29.9L87.3 28.4L92 27.5L97 27.1L102.3 27.2L107.8 27.8L113.5 28.9L119.3 30.5L125.1 32.5L131 35L136.7 37.9L142.4 41.2L147.9 44.8L153.2 48.8L158.2 53L162.9 57.5L167.2 62.2L171.2 67L174.7 72L177.8 77L180.4 82L182.6 87L184.2 92L185.3 96.8L185.8 101.4L185.9 105.9L185.4 110.1L184.4 114L183 117.6L181 120.9L178.7 123.9L175.9 126.4L172.8 128.5L169.3 130.2L165.5 131.5L161.5 132.4L157.3 132.8L152.9 132.7L148.4 132.3L143.9 131.4L139.4 130.1L134.9 128.4L130.5 126.4L126.2 124L122.2 121.3L118.4 118.3L114.9 115.1L111.7 111.7L108.8 108.2L106.4 104.5L104.3 100.7L102.7 96.8L101.6 93L100.9 89.2L100.8 85.5L101.1 81.9L101.9 78.4L103.1 75.2L104.9 72.1L107.1 69.4L109.7 66.9L112.7 64.7L116.1 62.9L119.9 61.4L123.9 60.3L128.2 59.6L132.7 59.3L137.4 59.3L142.2 59.7L147.1 60.6L151.9 61.7L156.8 63.3L161.6 65.2L166.2 67.4L170.6 69.9L174.8 72.7L178.7 75.7L182.3 78.9L185.5 82.3L188.3 85.9L190.7 89.5L192.6 93.2L194 96.9L194.8 100.5L195.2 104.1L195 107.6L194.2 111L192.8 114.1L191 117L188.6 119.7L185.6 122.1L182.2 124.2L178.3 125.9L173.9 127.2L169.1 128.2L164 128.8L158.5 128.9L152.7 128.6L146.8 127.9L140.6 126.8L134.3 125.3L127.9 123.3L121.5 121L115.2 118.3L109 115.2L102.9 111.8L97 108.1L91.4 104.1L86.2 99.9L81.3 95.5L76.8 90.9L72.7 86.2L69.2 81.5L66.2 76.7L63.8 71.9L61.9 67.1L60.7 62.5L60 58L60 53.8L60.7 49.7L61.9 45.9L63.8 42.5L66.3 39.3L69.4 36.6L73.1 34.2L77.2 32.3L81.9 30.9L87.1 29.9L92.7 29.4L98.6 29.3L104.9 29.8L111.4 30.8L118.2 32.2L125.1 34.2L132.1 36.6L139.1 39.5L146.1 42.7L153.1 46.4L159.9 50.5L166.5 54.9L172.8 59.6L178.8 64.6L184.5 69.8L189.8 75.2L194.6 80.7L198.9 86.3L202.8 91.9L206 97.5L208.7 103.1L210.8 108.6L212.2 113.9L213.1 119L213.3 123.9L212.9 128.5L211.9 132.7" fill="none" stroke="#076c50" stroke-width="0.65" stroke-linejoin="round"/>
<path d="M101 89.95H139.3" stroke="#7fc4aa" stroke-width="1"/>
<path d="M42.0 11.3V168.3H236.2" fill="none" stroke="#4a4a4a" stroke-width="0.85"/>
<path d="M52.9 168.3v2.7M96.1 168.3v2.7M139.3 168.3v2.7M182.5 168.3v2.7M225.7 168.3v2.7M74.5 168.3v1.5M117.7 168.3v1.5M160.9 168.3v1.5M204.1 168.3v1.5M42.0 159.6h-2.7M42.0 124.8h-2.7M42.0 89.9h-2.7M42.0 55.1h-2.7M42.0 20.2h-2.7M42.0 142.2h-1.5M42.0 107.3h-1.5M42.0 72.5h-1.5M42.0 37.6h-1.5" fill="none" stroke="#4a4a4a" stroke-width="0.8"/>
<text x="52.4" y="178.8" font-size="6.8" text-anchor="middle" fill="#6a6a6a">-4</text>
<text x="95.6" y="178.8" font-size="6.8" text-anchor="middle" fill="#6a6a6a">-2</text>
<text x="139.7" y="178.8" font-size="6.8" text-anchor="middle" fill="#6a6a6a">0</text>
<text x="182.9" y="178.8" font-size="6.8" text-anchor="middle" fill="#6a6a6a">2</text>
<text x="226.1" y="178.8" font-size="6.8" text-anchor="middle" fill="#6a6a6a">4</text>
<text x="37" y="162.4" font-size="6.8" text-anchor="end" fill="#6a6a6a">-2</text>
<text x="37" y="127.5" font-size="6.8" text-anchor="end" fill="#6a6a6a">-1</text>
<text x="37" y="92.7" font-size="6.8" text-anchor="end" fill="#6a6a6a">0</text>
<text x="37" y="57.9" font-size="6.8" text-anchor="end" fill="#6a6a6a">1</text>
<text x="37" y="23" font-size="6.8" text-anchor="end" fill="#6a6a6a">2</text>
<path d="M138.6 85L143.2 94.6L134 94.6Z" fill="#f5b800" stroke="#2a2a2a" stroke-width="0.8" stroke-linejoin="miter"/>
<text x="139.3" y="192.2" font-size="12.1" text-anchor="middle" fill="#222" textLength="87.3" lengthAdjust="spacingAndGlyphs" stroke="#222" stroke-width="0.2">x-displacement (m)</text>
<text x="26.2" y="80.7" font-size="11.9" text-anchor="middle" fill="#222" transform="rotate(-90 26.2 80.7)" textLength="84.7" lengthAdjust="spacingAndGlyphs" stroke="#222" stroke-width="0.2">y-displacement (m)</text>
<text x="129.9" y="213" font-size="11.2" text-anchor="middle" font-weight="bold" fill="#222">(c)</text>
<rect x="162.2" y="9" width="78.3" height="29.3" fill="#fff" stroke="#8c8c8c" stroke-width="0.7"/>
<path d="M165.2 18.9H176.4" stroke="#3f9a6a" stroke-width="1.3"/>
<text x="183.8" y="19.6" font-size="7.88" text-anchor="start" fill="#222" stroke="#222" stroke-width="0.15">Without control</text>
<text x="183.8" y="32.2" font-size="7.88" text-anchor="start" fill="#222" stroke="#222" stroke-width="0.15">Starting position</text>
<path d="M169 26.8L171.9 32.6L166.1 32.6Z" fill="#f5b800" stroke="#2a2a2a" stroke-width="0.7" stroke-linejoin="miter"/>
<path d="M476.5 69.5L475.2 69.7L473.9 70L472.6 70.2L471.3 70.5L470 70.8L468.8 71.1L467.8 71.4L466.7 71.7L465.3 72.2L463.5 73L461.2 74.1L458.5 75.5L455.5 77L452.4 78.7L449.3 80.5L446.2 82.4L443.2 84.4L440 86.6L436.5 88.9L432.7 91.5L428.4 94.4L423.8 97.6L418.9 100.9L413.9 104.4L409.1 107.8L404.3 111.4L399.3 115.1L394.4 118.9L389.8 122.5L385.5 125.7L381.6 128.6L378 131.4L374.6 133.9L371.6 136L368.9 137.8L366.6 139.1L364.8 140L363.2 140.5L361.8 140.9L360.5 141.3L359.1 141.6L357.7 141.7L356.5 141.8L355.7 141.8L355.3 141.9L355.4 142.2L355.9 142.6L356.7 142.9L358 143.1L359.6 143.1L361.6 142.8L364.1 142.2L366.9 141.5L370 140.7L373.6 139.8L377.7 138.8L382.3 137.7L387.1 136.5L392.1 135.2L397 134L401.7 132.8L406.5 131.5L411.2 130.2L416.1 128.9L421 127.7L426.1 126.6L431.3 125.6L436.5 124.6L441.7 123.6L446.8 122.5L451.9 121.3L456.9 120.1L461.9 118.9L466.6 117.6L471 116.5L475 115.4L478.9 114.4L482.4 113.4L485.5 112.4L488 111.5L489.9 110.6L491.2 109.9L492.2 109.1L492.9 108.3L493.5 107.5L494 106.8L494.4 106.1L494.5 105.4L494.6 104.5L494.5 103L494.3 101L494 98.5L493.5 95.8L493 92.9L492.5 90L492 87.1L491.4 84L490.8 80.8L490.1 77.8L489.5 75L488.8 72.4L488.2 70L487.5 67.7L486.8 65.7L486 64L485.2 62.8L484.2 61.9L483.3 61.3L482.4 60.9L481.5 60.5L480.7 60.1L480.1 59.9L479.4 59.8L478.6 59.7L477.7 59.8L476.6 59.9L475.4 60.2L474.1 60.5L472.7 60.9L471.2 61.4L469.7 61.9L468.2 62.5L466.6 63.2L464.8 64.1L462.7 65.1L460.1 66.4L457.3 67.9L454.2 69.6L451.1 71.4L448 73.2L445.1 75L442.4 76.7L439.5 78.6L436.3 80.7L432.5 83.3L428 86.4L422.9 90.1L417.4 93.9L411.9 97.9L406.7 101.6L401.8 105.1L396.8 108.8L392 112.3L387.5 115.6L383.3 118.6L379.5 121.3L376 123.8L372.8 126.1L369.9 128L367.3 129.7L365.2 130.9L363.5 131.8L362.1 132.4L360.9 132.9L359.7 133.3L358.5 133.7L357.4 133.9L356.5 134L355.8 134.1L355.5 134.2L355.6 134.4L355.9 134.6L356.6 134.8L357.6 134.9L359.2 134.7L361.2 134.3L363.7 133.6L366.7 132.9L370 132L373.6 131.1L377.7 130.2L382.3 129.2L387.2 128.1L392.1 127L397 126L401.7 124.9L406.5 123.8L411.2 122.7L416 121.6L421 120.5L426 119.5L431.2 118.6L436.5 117.6L441.7 116.7L446.8 115.7L451.8 114.6L456.9 113.6L461.8 112.4L466.6 111.4L471 110.3L475.1 109.3L479.1 108.3L482.7 107.3L486 106.4L488.6 105.5L490.5 104.7L491.9 104.1L492.8 103.4L493.4 102.8L494 102.1L494.5 101.5L494.9 100.9L495 100.3L495 99.4L495 98.1L494.8 96.2L494.5 94L494.1 91.5L493.6 88.9L493.1 86.2L492.6 83.3L492.1 80.3L491.5 77.2L490.9 74.2L490.3 71.4L489.7 68.7L489.1 66.2L488.4 63.8L487.7 61.6L487 59.8L486.2 58.4L485.4 57.4L484.5 56.5L483.6 55.9L482.7 55.3L481.9 54.7L481.1 54.3L480.3 54.1L479.4 54L478.4 53.9L477.3 54.1L476.1 54.3L474.9 54.7L473.5 55.2L471.9 55.8L470.3 56.4L468.5 57.2L466.6 58.1L464.5 59.2L462.2 60.4L459.5 61.8L456.5 63.4L453.4 65.2L450.3 67L447.2 68.9L444.4 70.5L441.9 72.1L439.2 73.8L436.2 75.8L432.4 78.4L427.8 81.7L422.3 85.6L416.5 89.8L410.7 94L405.3 97.8L400.3 101.4L395.3 104.9L390.6 108.3L386.1 111.5L382 114.4L378.2 117L374.8 119.3L371.7 121.4L368.9 123.3L366.4 124.8L364.4 126L362.8 126.9L361.4 127.5L360.3 128L359.2 128.5L358.2 128.9L357.2 129.2L356.4 129.3L355.9 129.4L355.7 129.5L355.7 129.7L355.9 129.9L356.5 130L357.4 130L358.9 129.7L361 129.2L363.5 128.5L366.5 127.7L369.9 126.7L373.6 125.8L377.7 125L382.3 124L387.2 123.1L392.1 122.1L397 121.1L401.7 120.2L406.4 119.2L411.2 118.2L416 117.2L420.9 116.2L426 115.3L431.2 114.4L436.5 113.5L441.7 112.6L446.8 111.6L451.8 110.6L456.9 109.6L461.8 108.6L466.5 107.6L470.9 106.6L475.1 105.6L479.2 104.6L483 103.6L486.3 102.7L489 101.9L490.9 101.2L492.2 100.6L493.1 100L493.7 99.5L494.3 98.9L494.8 98.3L495.2 97.8L495.3 97.2L495.3 96.4L495.3 95.1L495.1 93.4L494.8 91.3L494.4 89L493.9 86.4L493.5 83.9L493 81.1L492.5 78.1L491.9 75L491.4 72L490.8 69.2L490.2 66.5L489.6 63.9L489 61.5L488.3 59.2L487.6 57.3L486.8 55.8L486 54.6L485.2 53.6L484.3 52.8L483.4 52.1L482.6 51.5L481.7 51L480.8 50.7L479.9 50.5L478.9 50.4L477.7 50.6L476.6 50.8L475.3 51.2L473.9 51.7L472.4 52.4L470.6 53.1L468.7 54L466.6 55.1L464.3 56.2L461.9 57.6L459.1 59.1L456.1 60.7L452.9 62.6L449.8 64.4L446.7 66.2L444 67.9L441.6 69.3L439.1 70.9L436.1 72.9L432.4 75.4L427.6 78.8L422 82.9L416 87.3L410 91.6L404.5 95.6L399.4 99.2L394.4 102.6L389.7 106L385.3 109L381.2 111.8L377.5 114.3L374.1 116.6L371 118.6L368.2 120.4L365.8 121.9L363.9 123.1L362.3 124L361 124.6L359.9 125.1L358.9 125.6L358 126L357.1 126.3L356.4 126.5L356 126.7L355.8 126.8L355.8 126.9L355.9 127L356.4 127.1L357.3 127L358.7 126.7L360.8 126.2L363.4 125.4L366.5 124.5L369.9 123.6L373.6 122.7L377.7 121.8L382.3 121L387.2 120.1L392.2 119.1L397 118.2L401.7 117.3L406.4 116.4L411.2 115.5L416 114.6L420.9 113.7L426 112.8L431.2 111.9L436.5 111L441.7 110.1L446.8 109.2L451.8 108.2L456.9 107.3L461.8 106.3L466.5 105.3L470.9 104.3L475.2 103.4L479.3 102.4L483.1 101.4L486.4 100.5L489.2 99.7L491.1 99.1L492.5 98.5L493.3 98L493.9 97.5L494.5 96.9L495 96.4L495.3 95.9L495.5 95.3L495.5 94.5L495.4 93.4L495.3 91.7L495 89.7L494.6 87.4L494.1 85L493.7 82.5L493.2 79.7L492.7 76.8L492.2 73.7L491.6 70.7L491.1 67.9L490.5 65.2L489.9 62.6L489.3 60.1L488.7 57.8L488 55.8L487.2 54.3L486.4 53L485.6 51.9L484.7 51L483.9 50.2L483 49.6L482.1 49L481.2 48.6L480.2 48.4L479.1 48.3L478 48.4L476.9 48.7L475.6 49.1L474.2 49.7L472.6 50.3L470.8 51.2L468.8 52.1L466.6 53.2L464.2 54.5L461.7 55.9L458.9 57.4L455.8 59.1L452.6 61L449.5 62.8L446.4 64.7L443.8 66.3L441.4 67.7L439 69.2L436.1 71.1L432.4 73.7L427.5 77.1L421.8 81.3L415.6 85.8L409.5 90.2L404 94.2L398.9 97.8L393.9 101.3L389.2 104.5L384.8 107.6L380.7 110.3L377 112.8L373.6 115L370.6 116.9L367.9 118.7L365.5 120.1L363.6 121.3L362 122.2L360.8 122.9L359.7 123.4L358.8 123.9L357.8 124.3L357 124.6L356.4 124.8L356 125L355.8 125.1L355.8 125.2L356 125.3L356.4 125.3L357.2 125.2L358.6 124.9L360.7 124.3L363.3 123.6L366.4 122.7L369.9 121.7L373.6 120.8L377.7 120L382.3 119.1L387.2 118.2L392.2 117.4L397 116.5L401.7 115.6L406.4 114.8L411.2 113.9L416 113L420.9 112.1L426 111.2L431.2 110.4L436.5 109.5L441.7 108.6L446.8 107.7L451.8 106.8L456.8 105.8L461.8 104.9L466.5 103.9L470.9 103L475.2 102.1L479.3 101.1L483.2 100.1L486.6 99.2L489.3 98.4L491.3 97.8L492.6 97.3L493.4 96.8L494.1 96.3L494.6 95.7L495.1 95.2L495.4 94.8L495.6 94.2L495.6 93.5L495.5 92.3L495.4 90.7L495.1 88.7L494.7 86.5L494.2 84.1L493.8 81.6L493.4 78.9L492.9 76L492.3 72.9L491.8 69.9L491.2 67.1L490.7 64.4L490.1 61.8L489.5 59.2L488.9 56.9L488.2 54.9L487.4 53.3L486.7 52L485.8 50.9L485 49.9L484.1 49.1L483.2 48.4L482.3 47.8L481.4 47.4L480.4 47.2L479.3 47.1L478.1 47.2L477 47.4L475.8 47.9L474.4 48.4L472.8 49.1L470.9 50L468.8 51L466.6 52.1L464.1 53.4L461.6 54.8L458.7 56.4L455.7 58.2L452.5 60L449.3 61.9L446.3 63.7L443.6 65.3L441.3 66.7L438.9 68.2L436 70.1L432.3 72.6L427.5 76.1L421.7 80.3L415.4 84.9L409.3 89.4L403.7 93.4L398.5 97L393.6 100.4L388.9 103.7L384.5 106.7L380.4 109.4L376.7 111.8L373.4 114L370.4 115.9L367.7 117.6L365.3 119.1L363.4 120.3L361.8 121.1L360.6 121.8L359.6 122.4L358.7 122.9L357.8 123.3L357 123.6L356.4 123.8L356 124L355.9 124.1L355.8 124.2L356 124.3L356.3 124.3L357.2 124.2L358.6 123.8L360.7 123.2L363.3 122.5L366.4 121.5L369.9 120.6L373.6 119.7L377.7 118.9L382.3 118L387.2 117.2L392.2 116.3L397 115.5L401.7 114.6L406.4 113.8L411.2 112.9L416 112.1L420.9 111.2L426 110.3L431.2 109.5L436.5 108.6L441.7 107.7L446.8 106.8L451.8 105.9L456.8 105L461.8 104.1L466.5 103.1L470.9 102.2L475.2 101.3L479.3 100.3L483.2 99.3L486.6 98.4L489.4 97.7L491.4 97L492.7 96.5L493.5 96.1L494.1 95.6L494.7 95L495.2 94.5L495.5 94.1L495.6 93.6L495.7 92.8L495.6 91.7L495.4 90.1L495.1 88.2L494.8 86L494.3 83.6L493.9 81.1L493.4 78.5L493 75.5L492.4 72.4L491.9 69.4L491.3 66.6L490.8 63.9L490.2 61.3L489.6 58.7L489 56.4L488.3 54.4L487.6 52.8L486.8 51.4L486 50.2L485.1 49.3L484.3 48.4L483.4 47.7L482.4 47.1L481.5 46.7L480.5 46.4L479.4 46.3L478.2 46.4L477.1 46.7L475.9 47.1L474.5 47.7L472.9 48.4L471 49.3L468.9 50.3L466.6 51.5L464.1 52.8L461.5 54.2L458.7 55.8L455.6 57.6L452.4 59.4L449.2 61.3L446.2 63.1L443.5 64.7L441.2 66.1L438.9 67.6L436 69.4L432.3 72L427.4 75.5L421.6 79.7L415.3 84.3L409.1 88.9L403.5 92.9L398.3 96.5L393.4 100L388.7 103.2L384.3 106.1L380.3 108.8L376.6 111.2L373.2 113.4L370.2 115.3L367.5 117L365.2 118.4L363.3 119.6L361.7 120.5L360.5 121.2L359.5 121.7L358.6 122.2L357.7 122.7L357 123L356.4 123.2L356 123.4L355.9 123.5L355.9 123.6L356 123.7L356.3 123.7L357.1 123.5L358.6 123.2L360.6 122.6L363.3 121.8L366.4 120.9L369.9 119.9L373.6 119L377.7 118.2L382.3 117.3L387.2 116.5L392.2 115.7L397 114.8L401.7 114L406.4 113.2L411.2 112.3L416 111.5L420.9 110.6L426 109.8L431.2 108.9L436.5 108.1L441.7 107.2L446.8 106.3L451.8 105.4L456.8 104.5L461.8 103.6L466.5 102.6L470.9 101.7L475.2 100.8L479.4 99.8L483.2 98.9L486.7 98L489.4 97.2L491.4 96.6L492.7 96.1L493.6 95.6L494.2 95.2L494.7 94.6L495.2 94.1L495.5 93.7L495.7 93.2L495.7 92.4L495.6 91.3L495.5 89.7L495.2 87.8L494.8 85.7L494.4 83.3L493.9 80.8L493.5 78.2L493 75.2L492.5 72.2L492 69.1L491.4 66.3L490.9 63.6L490.3 61L489.7 58.4L489.1 56.1L488.4 54.1L487.7 52.4L486.9 51L486.1 49.9L485.2 48.9L484.4 48L483.5 47.3L482.5 46.7L481.5 46.2L480.5 46L479.4 45.9L478.3 46L477.2 46.2L475.9 46.7L474.6 47.2L472.9 48L471 48.8L468.9 49.9L466.6 51.1L464.1 52.4L461.5 53.9L458.6 55.5L455.5 57.2L452.3 59.1L449.1 61L446.1 62.8L443.5 64.4L441.2 65.7L438.8 67.2L436 69L432.3 71.6L427.4 75.1L421.5 79.4L415.3 84L409 88.6L403.4 92.6L398.2 96.2L393.3 99.7L388.6 102.9L384.2 105.8L380.2 108.5L376.5 110.9L373.1 113.1L370.1 115L367.4 116.6L365.1 118.1L363.2 119.2L361.7 120.1L360.5 120.8L359.5 121.4L358.6 121.9L357.7 122.3L357 122.6L356.4 122.9L356 123L355.9 123.1L355.9 123.2L356 123.3L356.3 123.3L357.1 123.1L358.5 122.8L360.6 122.2L363.3 121.4L366.4 120.5L369.9 119.5L373.6 118.6L377.7 117.8L382.3 116.9L387.2 116.1L392.2 115.3L397 114.5L401.7 113.6L406.4 112.8L411.2 112L416 111.1L420.9 110.3L426 109.4L431.2 108.6L436.5 107.7L441.7 106.9L446.8 106L451.8 105.1L456.8 104.2L461.7 103.3L466.5 102.3L470.9 101.4L475.2 100.5L479.4 99.5L483.3 98.6L486.7 97.7L489.5 96.9L491.4 96.3L492.7 95.8L493.6 95.4L494.2 94.9L494.8 94.4L495.3 93.9L495.6 93.4L495.7 92.9L495.7 92.2L495.7 91L495.5 89.5L495.2 87.6L494.8 85.5L494.4 83.1L494 80.7L493.5 78L493 75.1L492.5 72L492 69L491.4 66.2L490.9 63.5L490.3 60.8L489.7 58.2L489.1 55.9L488.4 53.9L487.7 52.2L486.9 50.8L486.1 49.6L485.3 48.6L484.4 47.8L483.5 47L482.6 46.4L481.6 46L480.6 45.7L479.4 45.6L478.3 45.7L477.2 46L476 46.4L474.6 47L472.9 47.7L471 48.6L468.9 49.6L466.6 50.9L464.1 52.2L461.4 53.6L458.6 55.2L455.5 57L452.3 58.9L449.1 60.8L446.1 62.6L443.4 64.2L441.2 65.5L438.8 67L436 68.8L432.3 71.3L427.4 74.9L421.5 79.2L415.2 83.8L409 88.4L403.3 92.5L398.2 96.1L393.2 99.5L388.5 102.7L384.1 105.6L380.1 108.3L376.4 110.7L373.1 112.8L370.1 114.7L367.4 116.4L365.1 117.8L363.2 119L361.7 119.9L360.5 120.6L359.5 121.1L358.5 121.6L357.7 122.1L356.9 122.4L356.4 122.6L356 122.8L355.9 122.9L355.9 123L356 123.1L356.3 123.1L357.1 122.9L358.5 122.6L360.6 122L363.3 121.1L366.4 120.2L369.9 119.3L373.6 118.4L377.7 117.5L382.3 116.7L387.2 115.9L392.2 115.1L397 114.2L401.7 113.4L406.4 112.6L411.2 111.8L416 110.9L420.9 110.1L426 109.3L431.2 108.4L436.5 107.5L441.7 106.7L446.8 105.8L451.8 104.9L456.8 104L461.7 103.1L466.5 102.2L470.9 101.3L475.2 100.3L479.4 99.4L483.3 98.4L486.7 97.5L489.5 96.8L491.5 96.1L492.8 95.6L493.6 95.2L494.2 94.8L494.8 94.2L495.3 93.7L495.6 93.3L495.7 92.8L495.7 92L495.7 90.9L495.5 89.4L495.2 87.5L494.8 85.3L494.4 83L494 80.6L493.5 77.9L493.1 75L492.5 71.9L492 68.9L491.5 66.1L490.9 63.4L490.3 60.7L489.8 58.1L489.1 55.8L488.5 53.8L487.7 52.1L487 50.7L486.2 49.5L485.3 48.5L484.4 47.6L483.5 46.9L482.6 46.3L481.6 45.8L480.6 45.5L479.5 45.4L478.3 45.5L477.2 45.8L476 46.2L474.6 46.8L473 47.5L471 48.4L468.9 49.5L466.6 50.7L464.1 52.1L461.4 53.5L458.6 55.1L455.5 56.9L452.3 58.8L449.1 60.7L446 62.5L443.4 64L441.2 65.4L438.8 66.8L436 68.7L432.3 71.2L427.4 74.7L421.5 79L415.2 83.7L408.9 88.3L403.3 92.4L398.1 96L393.2 99.4L388.5 102.6L384.1 105.5L380.1 108.2L376.4 110.6L373.1 112.7L370 114.6L367.4 116.3L365 117.7L363.1 118.9L361.6 119.8L360.4 120.4L359.4 121L358.5 121.5L357.7 121.9L356.9 122.3L356.4 122.5L356 122.7L355.9 122.8L355.9 122.9L356 122.9L356.3 122.9L357.1 122.8L358.5 122.4L360.6 121.8L363.2 121L366.4 120.1L369.9 119.1L373.6 118.2L377.7 117.4L382.3 116.6L387.2 115.7L392.2 114.9L397 114.1L401.7 113.3L406.4 112.5L411.2 111.6L416 110.8L420.9 110L426 109.1L431.2 108.3L436.5 107.4L441.7 106.5L446.8 105.7L451.8 104.8L456.8 103.9L461.7 103L466.5 102.1L470.9 101.2L475.2 100.2L479.4 99.3L483.3 98.3L486.7 97.4L489.5 96.7L491.5 96L492.8 95.5L493.6 95.1L494.2 94.7L494.8 94.1L495.3 93.6L495.6 93.2L495.7 92.7L495.7 91.9L495.7 90.8L495.5 89.3L495.2 87.4L494.8 85.3L494.4 82.9L494 80.5L493.5 77.8L493.1 74.9L492.6 71.8L492 68.8L491.5 66L490.9 63.3L490.4 60.6L489.8 58.1L489.1 55.7L488.5 53.7L487.8 52L487 50.6L486.2 49.4L485.3 48.4L484.5 47.5L483.6 46.8L482.6 46.2L481.6 45.7L480.6 45.4L479.5 45.3L478.4 45.4L477.2 45.7L476 46.1L474.6 46.7L473 47.4L471.1 48.3L468.9 49.4L466.6 50.6L464.1 52L461.4 53.4L458.6 55L455.5 56.8L452.2 58.7L449.1 60.6L446 62.4L443.4 64L441.1 65.3L438.8 66.8L436 68.6L432.3 71.1L427.4 74.6L421.5 79L415.2 83.6L408.9 88.2L403.2 92.3L398.1 95.9L393.1 99.3L388.4 102.5L384.1 105.4L380 108.1L376.4 110.5L373 112.6L370 114.5L367.4 116.2L365 117.6L363.1 118.8L361.6 119.7L360.4 120.4L359.4 120.9L358.5 121.4L357.7 121.9L356.9 122.2L356.4 122.4L356 122.6L355.9 122.7L355.9 122.8L356 122.9L356.3 122.8L357.1 122.7L358.5 122.3L360.6 121.7L363.2 120.9L366.4 120L369.8 119L373.6 118.1L377.7 117.3L382.3 116.5L387.2 115.7L392.2 114.8L397 114L401.7 113.2L406.4 112.4L411.2 111.6L416 110.7L420.9 109.9L426 109.1L431.2 108.2L436.5 107.3L441.7 106.5L446.8 105.6L451.8 104.7L456.8 103.8L461.7 102.9L466.5 102L470.9 101.1L475.2 100.2L479.4 99.2L483.3 98.2L486.7 97.4L489.5 96.6L491.5 96L492.8 95.5L493.6 95L494.2 94.6L494.8 94.1L495.3 93.6L495.6 93.2L495.7 92.6L495.7 91.9L495.7 90.8L495.5 89.2L495.2 87.4L494.9 85.2L494.4 82.9L494 80.5L493.5 77.8L493.1 74.9L492.6 71.8L492 68.8L491.5 66L490.9 63.3L490.4 60.6L489.8 58L489.2 55.7L488.5 53.7L487.7 52L487 50.7L486.1 49.7L485.3 48.6L484.5 47.5" fill="none" stroke="#11805b" stroke-width="0.75" stroke-linejoin="round"/>
<path d="M479.5 45.2L478.4 45.3L477.3 45.5L476 46L474.7 46.6L473 47.3L471.1 48.2L468.9 49.3L466.6 50.5L464 51.8L461.4 53.3L458.5 54.9L455.4 56.7L452.2 58.6L449 60.5L446 62.3L443.4 63.9L441.1 65.2L438.8 66.6L436 68.5L432.3 71L427.4 74.5L421.5 78.8L415.2 83.5L408.9 88.1L403.2 92.2L398.1 95.8L393.1 99.2L388.4 102.4L384 105.3L380 108L376.3 110.4L373 112.5L370 114.4L367.3 116.1L365 117.5L363.1 118.7L361.6 119.6L360.4 120.2L359.4 120.8L358.5 121.3L357.6 121.7L356.9 122.1L356.4 122.3L356 122.5L355.9 122.6L355.9 122.7L356 122.7L356.3 122.7L357.1 122.6L358.5 122.2L360.6 121.6L363.2 120.8L366.4 119.9L369.8 118.9L373.6 118L377.7 117.2L382.3 116.4L387.2 115.5L392.2 114.7L397 113.9L401.7 113.1L406.4 112.3L411.2 111.5L416 110.6L420.9 109.8L426 109L431.2 108.1L436.5 107.2L441.7 106.4L446.8 105.5L451.8 104.6L456.8 103.7L461.7 102.8L466.5 101.9L470.9 101L475.2 100.1L479.4 99.1L483.3 98.2L486.7 97.3L489.5 96.5L491.5 95.9L492.8 95.4L493.6 95L494.2 94.5L494.8 94L495.3 93.5L495.6 93.1L495.7 92.6L495.8 91.8L495.7 90.7L495.5 89.2L495.2 87.3L494.9 85.2L494.4 82.8L494 80.4L493.6 77.7L493.1 74.8L492.6 71.7L492 68.7L491.5 65.9L490.9 63.2L490.4 60.5L489.8 58L489.2 55.6L488.5 53.6L487.8 51.9L487 50.5L486.2 49.3L485.4 48.3L484.5 47.4L483.6 46.6L482.6 46L481.7 45.6L480.6 45.3L479.5 45.2Z" fill="none" stroke="#0b6b4c" stroke-width="1.4" stroke-linejoin="round"/>
<path d="M326.6 7.7V172.2H541.7" fill="none" stroke="#4a4a4a" stroke-width="0.85"/>
<path d="M326.3 172.2v3.2M362.1 172.2v3.2M397.9 172.2v3.2M433.7 172.2v3.2M469.5 172.2v3.2M505.3 172.2v3.2M541.1 172.2v3.2M344.2 172.2v1.8M380 172.2v1.8M415.8 172.2v1.8M451.6 172.2v1.8M487.4 172.2v1.8M523.2 172.2v1.8M326.6 172.1h-3.2M326.6 144.7h-3.2M326.6 117.3h-3.2M326.6 89.9h-3.2M326.6 62.5h-3.2M326.6 35.1h-3.2M326.6 7.7h-3.2M326.6 158.4h-1.8M326.6 131h-1.8M326.6 103.6h-1.8M326.6 76.2h-1.8M326.6 48.8h-1.8M326.6 21.4h-1.8" fill="none" stroke="#4a4a4a" stroke-width="0.8"/>
<text x="354.1 357.9 361.3 366.2" y="183.1" font-size="8.3" text-anchor="middle" fill="#6a6a6a">-0.2</text>
<text x="389.9 393.7 397.1 402" y="183.1" font-size="8.3" text-anchor="middle" fill="#6a6a6a">-0.1</text>
<text x="429.5 432.9 437.8" y="183.1" font-size="8.3" text-anchor="middle" fill="#6a6a6a">0.0</text>
<text x="465.3 468.7 473.6" y="183.1" font-size="8.3" text-anchor="middle" fill="#6a6a6a">0.1</text>
<text x="501.1 504.5 509.4" y="183.1" font-size="8.3" text-anchor="middle" fill="#6a6a6a">0.2</text>
<text x="308 311.8 315.1 320.1" y="147.6" font-size="8.3" text-anchor="middle" fill="#6a6a6a">-0.4</text>
<text x="308 311.8 315.1 320.1" y="120.2" font-size="8.3" text-anchor="middle" fill="#6a6a6a">-0.2</text>
<text x="311.8 315.1 320.1" y="92.8" font-size="8.3" text-anchor="middle" fill="#6a6a6a">0.0</text>
<text x="311.8 315.1 320.1" y="65.4" font-size="8.3" text-anchor="middle" fill="#6a6a6a">0.2</text>
<text x="311.8 315.1 320.1" y="38" font-size="8.3" text-anchor="middle" fill="#6a6a6a">0.4</text>
<text x="311.8 315.1 320.1" y="10.6" font-size="8.3" text-anchor="middle" fill="#6a6a6a">0.6</text>
<path d="M430.7 79.7L434.5 87L426.9 87Z" fill="#f5b800" stroke="#2a2a2a" stroke-width="0.8" stroke-linejoin="miter"/>
<text x="433.5" y="197.4" font-size="11.3" text-anchor="middle" fill="#222" textLength="84.6" lengthAdjust="spacingAndGlyphs" stroke="#222" stroke-width="0.2">x-displacement (m)</text>
<text x="297.5" y="82.9" font-size="11.2" text-anchor="middle" font-weight="bold" fill="#222" transform="rotate(-90 297.5 82.9)" textLength="84.2" lengthAdjust="spacingAndGlyphs">y-displacement (m)</text>
<text x="416.5" y="213.5" font-size="11.2" text-anchor="middle" font-weight="bold" fill="#222">(d)</text>
<rect x="466.4" y="4.3" width="76.3" height="27.4" fill="#fff" stroke="#8c8c8c" stroke-width="0.7"/>
<path d="M470.4 13.2H481" stroke="#259a3f" stroke-width="1.2"/>
<text x="512" y="13.5" font-size="7.46" text-anchor="middle" fill="#222" stroke="#222" stroke-width="0.15">With control</text>
<text x="513" y="26" font-size="7.59" text-anchor="middle" fill="#222" stroke="#222" stroke-width="0.15">Starting position</text>
<path d="M473.4 21.4L475.9 26.4L470.9 26.4Z" fill="#f5b800" stroke="#2a2a2a" stroke-width="0.7" stroke-linejoin="miter"/>
<path d="M215.7 287.2L217.2 290.9L218 294.8L218.1 299L217.5 303.3L216.2 307.7L214.4 312.2L211.9 316.8L208.8 321.3L205.2 325.8L201.2 330.2L196.6 334.4L191.7 338.5L186.3 342.3L180.7 345.7L174.9 348.9L168.8 351.7L162.5 354.1L156.2 356L149.9 357.6L143.5 358.6L137.2 359.2L131 359.3L125 359L119.2 358.2L113.7 356.9L108.4 355.2L103.5 353.1L99 350.6L94.8 347.7L91.1 344.5L87.9 341L85.1 337.2L82.9 333.2L81.1 328.9L80 324.5L79.3 319.9L79.2 315.3L79.6 310.5L80.6 305.7L82.1 301L84.2 296.2L86.7 291.5L89.7 287L93.1 282.5L96.9 278.2L101.2 274.2L105.7 270.3L110.5 266.7L115.5 263.5L120.7 260.5L126 257.9L131.4 255.6L136.8 253.7L142.1 252.3L147.2 251.2L152.2 250.6L156.9 250.5L161.3 250.8L165.3 251.5L168.9 252.7L172.1 254.3L174.8 256.4L176.9 258.8L178.5 261.6L179.5 264.8L179.9 268.3L179.8 272L179 275.9L177.6 280.1L175.7 284.3L173.2 288.6L170.1 293L166.6 297.3L162.6 301.5L158.1 305.6L153.3 309.5L148.2 313.2L142.8 316.7L137.2 319.8L131.5 322.6L125.7 325.1L119.8 327.2L114.1 328.9L108.4 330.3L102.9 331.2L97.6 331.8L92.5 331.9L87.7 331.7L83.3 331L79.1 330L75.4 328.5L72 326.7L69.1 324.5L66.6 322.1L64.7 319.3L63.2 316.3L62.2 313L61.7 309.5L61.8 305.9L62.4 302.2L63.6 298.3L65.3 294.4L67.6 290.5L70.4 286.5L73.7 282.6L77.5 278.8L81.8 275.1L86.5 271.6L91.6 268.2L97.1 265L102.9 262L109 259.4L115.2 257L121.7 254.9L128.3 253.2L134.9 251.9L141.5 251L148 250.4L154.4 250.3L160.6 250.7L166.5 251.5L172.1 252.8L177.3 254.5L182.2 256.7L186.5 259.3L190.4 262.3L193.7 265.7L196.5 269.5L198.6 273.7L200.2 278.1L201.2 282.8L201.6 287.8L201.3 292.9L200.5 298.1L199.1 303.4L197.2 308.7L194.7 314L191.7 319.2L188.4 324.3L184.6 329.2L180.4 333.8L176 338.1L171.3 342.1L166.4 345.8L161.4 349.1L156.3 351.9L151.1 354.3L145.9 356.3L140.8 357.7L135.8 358.7L131 359.3L126.4 359.4L122 359L117.9 358.2L114.1 357L110.7 355.4L107.7 353.4L105.1 351L103 348.4L101.3 345.4L100.1 342.2L99.4 338.8L99.1 335.1L99.4 331.3L100.1 327.3L101.3 323.2L102.9 319L105 314.7L107.5 310.4L110.4 306.1L113.7 301.9L117.4 297.7L121.4 293.7L125.7 289.8L130.4 286.2L135.3 282.8L140.4 279.7L145.6 276.9L150.9 274.4L156.3 272.3L161.7 270.6L166.9 269.3L172.1 268.4L177 267.9L181.7 267.9L186 268.3L190 269.2L193.5 270.5L196.6 272.3L199.2 274.5L201.3 277.1L202.8 280L203.7 283.3L204 286.9L203.7 290.7L202.8 294.7L201.3 299L199.2 303.3L196.6 307.7L193.4 312.1L189.7 316.5L185.5 320.8L180.9 324.9L175.9 328.8L170.5 332.5L164.8 335.9L158.9 339L152.8 341.7L146.6 344L140.2 345.8L133.9 347.2L127.5 348.2L121.2 348.7L115.1 348.7L109.1 348.3L103.3 347.4L97.8 346L92.6 344.2L87.7 342L83.2 339.4L79.2 336.4L75.5 333.1L72.3 329.5L69.7 325.6L67.5 321.5L65.8 317.1L64.7 312.6L64.2 308L64.2 303.2L64.7 298.4L65.8 293.6L67.4 288.7L69.6 283.9L72.2 279.2L75.3 274.6L78.9 270.1L82.8 265.8L87.2 261.7L91.9 257.9L96.8 254.3L102 251L107.4 248.1L112.8 245.5L118.4 243.3L124 241.5L129.5 240.2L134.9 239.3L140.2 239L145.3 239.1L150.2 239.7L154.8 240.8L159 242.5L162.9 244.6L166.4 247.3L169.4 250.4L171.9 253.9L173.9 257.8L175.3 262L176.1 266.5L176.4 271.3L176.1 276.2L175.2 281.3L173.8 286.5L171.9 291.6L169.4 296.8L166.5 301.8L163.1 306.8L159.3 311.5L155.2 316L150.9 320.2L146.2 324.1L141.4 327.6L136.4 330.7L131.4 333.4L126.3 335.7L121.2 337.5L116.2 338.9L111.3 339.8L106.6 340.2L102.1 340.2L97.9 339.7L93.9 338.8L90.3 337.5L87.1 335.8L84.2 333.8L81.8 331.4L79.9 328.7L78.5 325.8L77.5 322.6L77.1 319.2L77.2 315.7L77.8 312L79 308.2L80.7 304.4L83 300.5L85.8 296.7L89.1 292.9L92.8 289.1L97.1 285.5L101.8 282L106.8 278.7L112.3 275.6L118 272.8L124 270.2L130.3 267.9L136.6 265.9L143.1 264.3L149.7 263L156.2 262.2L162.6 261.7L168.9 261.7L175 262.2L180.8 263L186.3 264.4L191.5 266.2L196.2 268.4L200.4 271.1L204.2 274.1L207.4 277.6L210 281.4L212.1 285.6L213.6 290.1L214.4 294.8L214.6 299.7L214.2 304.8L213.3 310.1L211.7 315.3L209.6 320.6L206.9 325.8L203.7 330.9L200.1 335.8L196 340.4L191.5 344.8L186.6 348.8L181.4 352.5L175.9 355.7L170.1 358.4L164.2 360.7L158.2 362.4L152.1 363.7L146.1 364.4L140.1 364.7L134.2 364.4L128.5 363.7L123.1 362.5L118 360.9L113.1 358.8L108.7 356.4L104.6 353.5L100.9 350.4L97.8 346.9L95.1 343.1L92.8 339.2L91.2 335L90 330.6L89.4 326.1L89.3 321.4L89.8 316.8L90.8 312L92.3 307.3L94.3 302.6L96.8 298L99.8 293.5L103.3 289.1L107.1 284.9L111.3 280.9L115.8 277.2L120.6 273.6L125.6 270.4L130.7 267.5L136 265L141.3 262.8L146.6 261L151.9 259.6L157 258.6L161.8 258.1L166.5 258L170.8 258.4L174.8 259.2L178.3 260.5L181.4 262.2L184 264.3L186 266.7L187.5 269.6L188.4 272.8L188.7 276.3L188.5 280L187.6 284L186.1 288.1L184 292.4L181.4 296.7L178.3 301L174.6 305.3L170.4 309.5L165.9 313.5L160.9 317.3L155.6 320.9L150 324.2L144.2 327.2L138.2 329.8L132 332L125.8 333.8L119.5 335.2L113.3 336.1L107.1 336.5L101.1 336.5L95.2 336L89.6 335.1L84.2 333.7L79.2 331.9L74.5 329.7L70.2 327.2L66.4 324.3L63 321.1L60.2 317.7L57.9 314L56.2 310.1L55.1 306.1L54.6 302L54.8 297.8L55.5 293.6L57 289.4L59 285.3L61.6 281.1L64.8 277.1L68.5 273.2L72.7 269.4L77.4 265.7L82.4 262.2L87.9 259L93.7 256L99.7 253.3L106 250.8L112.5 248.8L119 247L125.6 245.7L132.2 244.7L138.7 244.2L145.1 244.1L151.3 244.4L157.2 245.2L162.8 246.4L168 248.1L172.8 250.3L177.1 252.9L181 255.9L184.3 259.3L187 263.1L189.2 267.2L190.7 271.6L191.7 276.3L192 281.2L191.8 286.3L190.9 291.5L189.5 296.7L187.6 302L185.1 307.2L182.2 312.4L178.8 317.4L175 322.2L170.9 326.7L166.5 331L161.8 335L156.9 338.5L151.9 341.7L146.8 344.5L141.7 346.8L136.6 348.7L131.6 350.1L126.6 351.1L121.9 351.6L117.3 351.6L113 351.2L109 350.4L105.4 349.1L102.1 347.5L99.2 345.5L96.8 343.2L94.8 340.5L93.3 337.6L92.3 334.5L91.8 331.2L91.8 327.7L92.4 324L93.6 320.3L95.2 316.5L97.4 312.6L100.2 308.8L103.4 305L107.1 301.3L111.3 297.7L115.9 294.2L120.8 290.9L126.1 287.7L131.8 284.8L137.6 282.2L143.6 279.8L149.8 277.7L156 275.9L162.2 274.4L168.3 273.3L174.2 272.5L179.8 272.1L185.2 272L190.3 272.4L194.9 273.1L199.1 274.3L202.8 275.8L206 277.8L208.7 280.1L210.9 282.8L212.4 285.9L213.3 289.3L213.7 293L213.4 296.9L212.5 301L210.9 305.3L208.8 309.7L206.1 314.2L202.9 318.7L199.2 323.1L195 327.4L190.3 331.6L185.2 335.6L179.8 339.3L174.1 342.7L168.2 345.8L162.1 348.5L155.8 350.8L149.4 352.7L143 354.2L136.7 355.1L130.4 355.6L124.2 355.7L118.2 355.3L112.4 354.4L106.9 353L101.6 351.2L96.8 349L92.3 346.4L88.2 343.5L84.5 340.2L81.3 336.6L78.7 332.7L76.5 328.6L74.8 324.3L73.7 319.8L73.2 315.2L73.2 310.4L73.7 305.6L74.8 300.8L76.4 296L78.5 291.2L81.1 286.5L84.2 281.9L87.8 277.4L91.7 273.1L96 269L100.6 265.2L105.5 261.6L110.6 258.3L115.9 255.4L121.3 252.8L126.7 250.5L132.2 248.7L137.5 247.3L142.7 246.3L147.7 245.7L152.4 245.6L156.8 246L160.9 246.8L164.5 248.1L167.7 249.8L170.4 251.9L172.6 254.5L174.2 257.4L175.2 260.6L175.6 264.2L175.5 268L174.8 272.1L173.5 276.4L171.7 280.8L169.3 285.3L166.5 289.9L163.3 294.5L159.6 299L155.6 303.5L151.3 307.8L146.8 312L142 315.9L137.1 319.6L132 322.9L126.9 325.8L121.7 328.4L116.4 330.5L111.3 332.2L106.2 333.4L101.2 334.2L96.5 334.6L91.9 334.4L87.7 333.9L83.7 332.9L80.1 331.5L76.9 329.7L74.1 327.6L71.7 325.1L69.8 322.3L68.4 319.3L67.5 316.1L67.1 312.6L67.3 309L68 305.2L69.3 301.4L71.1 297.5L73.4 293.5L76.3 289.6L79.6 285.7L83.5 282L87.8 278.3L92.6 274.7L97.8 271.4L103.3 268.3L109.1 265.4L115.2 262.7L121.5 260.4L128 258.4L134.6 256.8L141.2 255.5L147.7 254.7L154.2 254.2L160.6 254.2L166.7 254.6L172.6 255.5L178.2 256.9L183.3 258.7L188.1 260.9L192.4 263.6L196.1 266.7L199.4 270.2L202 274.1L204.1 278.3L205.6 282.8L206.5 287.6L206.7 292.6L206.4 297.7L205.4 303L203.9 308.3L201.9 313.7L199.3 319L196.3 324.2L192.8 329.2L189 334.1L184.8 338.7L180.2 343L175.5 347L170.5 350.6L165.4 353.8L160.2 356.6L155 358.9L149.8 360.7L144.6 362.1L139.5 363L134.6 363.5L129.9 363.4L125.4 362.9L121.1 361.9L117.2 360.4L113.5 358.6L110.2 356.3L107.3 353.6L104.7 350.5L102.5 347.1L100.7 343.4L99.3 339.4L98.5 335.2L98.1 330.9L98.2 326.4L98.9 321.8L100 317.2L101.7 312.5L103.8 307.9L106.4 303.4L109.5 298.9L113 294.6L116.9 290.5L121.2 286.5L125.8 282.8L130.6 279.4L135.6 276.2L140.8 273.4L146.1 270.9L151.4 268.8L156.7 267.1L162 265.8L167 264.9L171.9 264.5L176.5 264.5L180.8 264.9L184.7 265.8L188.2 267.2L191.2 268.9L193.8 271.1L195.8 273.7L197.2 276.7L198 279.9L198.3 283.5L197.9 287.3L196.9 291.4L195.4 295.6L193.2 299.9L190.5 304.3L187.2 308.6L183.5 313L179.3 317.2L174.6 321.3L169.6 325.1L164.2 328.7L158.5 332.1L152.6 335L146.5 337.6L140.2 339.9L133.9 341.6L127.5 343L121.2 343.9L115 344.3L108.9 344.2L102.9 343.7L97.2 342.7L91.7 341.2L86.6 339.4L81.8 337.1L77.4 334.4L73.4 331.4L69.8 328L66.7 324.4L64.1 320.4L62.1 316.3L60.5 311.9L59.5 307.4L59.1 302.7L59.2 298L59.9 293.2L61.1 288.3L62.8 283.5L65.1 278.8L67.9 274.1L71.2 269.6L75 265.2L79.2 261.1L83.8 257.2L88.8 253.5L94.1 250.2L99.7 247.3L105.6 244.8L111.7 242.7L117.9 241L124.2 239.8L130.4 239L136.6 238.8L142.6 239L148.3 239.7L153.8 240.9L158.9 242.5L163.6 244.6L167.9 247.1L171.7 250.1L174.9 253.5L177.6 257.2L179.7 261.3L181.2 265.7L182.1 270.4L182.4 275.3L182.1 280.3L181.2 285.5L179.7 290.7L177.8 295.9L175.3 301.1L172.3 306.2L168.9 311.2L165.1 315.9L161 320.4L156.6 324.6L151.9 328.5L147 332L142 335.1L137 337.8L131.9 340L126.8 341.8L121.8 343.2L116.9 344.1L112.2 344.5L107.7 344.4L103.5 343.9L99.6 343L96 341.7L92.8 340L90 337.9L87.6 335.6L85.7 332.9L84.3 329.9L83.4 326.7L83 323.4L83.1 319.8L83.8 316.2L85.1 312.4L86.8 308.6L89.1 304.7L92 300.9L95.3 297.1L99.1 293.4L103.4 289.8L108.1 286.4L113.3 283.1L118.7 280.1L124.5 277.3L130.5 274.7L136.8 272.5L143.1 270.6L149.6 269L156.1 267.8L162.6 267L169 266.6L175.3 266.7L181.3 267.1L187 268.1L192.5 269.5L197.5 271.3L202.1 273.5L206.2 276.2L209.8 279.3L212.8 282.7L215.2 286.5L217 290.6L218.1 294.9L218.6 299.5L218.4 304.2L217.5 309L215.9 313.9L213.7 318.7L210.8 323.5L207.4 328.2L203.4 332.7L199 337.1L194.1 341.1L188.8 345L183.2 348.4L177.3 351.6L171.3 354.3L165 356.7L158.7 358.6L152.4 360.1L146.1 361.1L139.8 361.6L133.7 361.7L127.7 361.2L122 360.4L116.5 359L111.3 357.3L106.4 355.1L102 352.5L97.9 349.6L94.3 346.4L91.2 342.8L88.5 339L86.3 334.9L84.7 330.6L83.6 326.2L83.1 321.6L83.1 317L83.6 312.2L84.7 307.5L86.3 302.7L88.4 298L91 293.4L94.1 288.8L97.6 284.4L101.5 280.2L105.8 276.2L110.4 272.4L115.2 268.9L120.3 265.7L125.5 262.8L130.8 260.3L136.2 258.1L141.5 256.4L146.8 255L151.9 254.1L156.8 253.6L161.4 253.5L165.7 253.9L169.7 254.8L173.2 256.1L176.3 257.8L178.8 260L180.8 262.5L182.3 265.4L183.2 268.6L183.5 272.2L183.1 275.9L182.2 279.9L180.7 284.1L178.6 288.3L176 292.7L172.8 297L169.1 301.3L164.9 305.4L160.4 309.5L155.4 313.3L150.1 316.9L144.6 320.2L138.8 323.1L132.8 325.7L126.7 327.9L120.6 329.7L114.4 331.1L108.4 332.1L102.4 332.6L96.6 332.7L91.1 332.3L85.8 331.6L80.9 330.5L76.4 329L72.4 327.2L68.8 325.1L65.7 322.6L63.1 319.9L61 317L59.5 313.8L58.5 310.4L58.1 306.8L58.2 303.1L58.9 299.2L60.1 295.3L61.9 291.4L64.2 287.4L67.1 283.4L70.5 279.5L74.4 275.7L78.7 272L83.5 268.4L88.7 265L94.2 261.9L100.1 259L106.2 256.3L112.5 254L119 252L125.5 250.3L132.2 249.1L138.7 248.2L145.2 247.7L151.6 247.7L157.7 248.1L163.6 249L169.1 250.4L174.3 252.1L179 254.4L183.3 257L187 260.1L190.2 263.6L192.9 267.5L195 271.6L196.4 276.1L197.3 280.9L197.5 285.8L197.2 290.9L196.3 296.2L194.8 301.5L192.7 306.7L190.2 312L187.2 317.1L183.8 322.1L179.9 326.9L175.8 331.5L171.3 335.7L166.6 339.7L161.7 343.2L156.7 346.4L151.6 349.1L146.5 351.4L141.3 353.3L136.3 354.7L131.4 355.6L126.7 356L122.1 356L117.9 355.6L113.9 354.7L110.3 353.4L107 351.8L104.2 349.7L101.8 347.4L99.8 344.7L98.3 341.8L97.4 338.6L96.9 335.3L97 331.7L97.5 328.1L98.6 324.3L100.3 320.4L102.4 316.5L105 312.6L108.1 308.7L111.6 304.8L115.5 301L119.7 297.2L124.2 293.6L129 290.1L134 286.8L139.2 283.7L144.6 280.8L150 278.2L155.4 275.9L160.9 274L166.3 272.5L171.6 271.3L176.7 270.5L181.6 270.2L186.2 270.3L190.5 270.9L194.4 271.9L197.8 273.3L200.8 275.2L203.3 277.4L205.2 280.1L206.6 283.1L207.4 286.4L207.6 290.1L207.1 294L206.1 298.1L204.5 302.3L202.3 306.7L199.5 311.1L196.2 315.5L192.4 319.8L188.1 324.1L183.4 328.2L178.4 332.1L172.9 335.7L167.2 339L161.3 342L155.1 344.6L148.9 346.8L142.6 348.6L136.2 350L129.9 350.9L123.6 351.3L117.5 351.2L111.5 350.7L105.8 349.7L100.4 348.3L95.2 346.4L90.4 344.2L86 341.5L82 338.5L78.5 335.1L75.4 331.5L72.8 327.6L70.7 323.4L69.1 319.1L68.1 314.5L67.7 309.9L67.7 305.1L68.4 300.3L69.5 295.5L71.2 290.7L73.5 285.9L76.2 281.2L79.3 276.6L82.9 272.2L86.9 267.9L91.3 263.9L96 260L100.9 256.5L106.1 253.3L111.4 250.4L116.8 247.8L122.3 245.7L127.8 243.9L133.1 242.6L138.4 241.7L143.4 241.2L148.2 241.2L152.7 241.7L156.8 242.7L160.6 244.1L164 246.1L166.9 248.4L169.3 251.3L171.3 254.5L172.7 258.2L173.7 262.2L174.1 266.5L174 271.1L173.4 276L172.3 280.9L170.6 286L168.4 291.1L165.8 296.1L162.7 301.1L159.2 306L155.3 310.6L151.1 315L146.6 319.1L141.9 322.9L137 326.3L132 329.3L126.9 331.9L121.8 334.1L116.7 335.8L111.8 337L106.9 337.8L102.2 338.1L97.7 338L93.5 337.4L89.7 336.4L86.1 335L82.9 333.2L80.2 331.1L77.9 328.6L76 325.9L74.7 322.9L73.9 319.6L73.5 316.2L73.8 312.6L74.5 308.9L75.8 305L77.7 301.2L80.1 297.3L83 293.4L86.4 289.6L90.3 285.9L94.6 282.2L99.4 278.8L104.6 275.5L110.1 272.4L116 269.6L122.1 267L128.4 264.8L134.8 262.8L141.4 261.3L147.9 260.1L154.5 259.3L160.9 259L167.2 259L173.3 259.6L179.1 260.5L184.6 261.9L189.7 263.8L194.3 266.1L198.5 268.9L202.2 272.1L205.3 275.6L207.9 279.6L209.8 283.8L211.2 288.4L212 293.2L212.1 298.2L211.6 303.3L210.6 308.6L209 313.9L206.8 319.2L204.2 324.5L201 329.7L197.4 334.6L193.4 339.4L189 343.9L184.4 348.1L179.4 351.9L174.3 355.3L168.9 358.3L163.4 360.8L157.9 362.8L152.2 364.3L146.6 365.3L141 365.7L135.4 365.6L130 364.9L124.9 363.8L119.9 362.2L115.3 360.2L111 357.7L107 354.9L103.6 351.7L100.5 348.2L97.9 344.4L95.9 340.4L94.3 336.2L93.3 331.8L92.8 327.3L92.8 322.7L93.4 318L94.5 313.3L96.2 308.6L98.3 303.9L100.9 299.3L104 294.9L107.6 290.5L111.5 286.4L115.8 282.4L120.3 278.7L125.2 275.3L130.2 272.1L135.4 269.3L140.7 266.9L146 264.8L151.4 263.1L156.6 261.8L161.6 260.9L166.5 260.5L171.1 260.6L175.3 261L179.2 262L182.6 263.3L185.6 265.1L188.1 267.3L190.1 269.9L191.4 272.9L192.2 276.2L192.4 279.8L192 283.6L191 287.6L189.4 291.8L187.2 296.1L184.4 300.5L181.2 304.8L177.4 309.1L173.1 313.3L168.5 317.3L163.4 321.1L158 324.7L152.3 327.9L146.4 330.9L140.3 333.4L134.1 335.5L127.8 337.3L121.5 338.5L115.3 339.3L109.1 339.7L103 339.6L97.2 339L91.5 337.9L86.1 336.4L81.1 334.5L76.4 332.2L72.1 329.5L68.2 326.5L64.8 323.1L61.8 319.4L59.4 315.5L57.5 311.4L56.2 307.1L55.4 302.7L55.2 298.1L55.6 293.5L56.6 288.9L58.3 284.4L60.5 279.9L63.4 275.5L66.8 271.3L70.8 267.3L75.3 263.4L80.3 259.8L85.7 256.5L91.4 253.4L97.4 250.7L103.6 248.2L110.1 246.2L116.6 244.4L123.2 243.1L129.7 242.2L136.2 241.7L142.5 241.6L148.7 242L154.5 242.9L160 244.2L165.2 246L169.9 248.2L174.2 250.9L177.9 253.9L181.1 257.4L183.7 261.3L185.8 265.4L187.2 269.9L188.1 274.6L188.3 279.6L187.9 284.7L187 289.9L185.5 295.1L183.4 300.4L180.8 305.6L177.8 310.7L174.4 315.7L170.5 320.4L166.3 324.9L161.9 329.1L157.2 333L152.3 336.5L147.3 339.6L142.2 342.3L137.1 344.5L132 346.3L127 347.6L122.1 348.4L117.4 348.8L112.9 348.8L108.7 348.2L104.8 347.3L101.3 346L98.1 344.3L95.3 342.2L93 339.8L91.1 337.1L89.7 334.1L88.9 331L88.5 327.6L88.7 324L89.5 320.4L90.8 316.6L92.6 312.8L94.9 309L97.8 305.2L101.2 301.4L105 297.8L109.3 294.2L114.1 290.8L119.2 287.5L124.7 284.5L130.4 281.7L136.4 279.2L142.6 277L149 275L155.4 273.5L161.8 272.3L168.1 271.5L174.4 271L180.4 271L186.2 271.4L191.6 272.2L196.7 273.4L201.2 275L205.3 276.9L208.8 279.2L211.7 281.9L213.9 284.9L215.5 288.2L216.5 291.7L216.8 295.6L216.5 299.6L215.5 303.9L213.9 308.2L211.7 312.7L209 317.2L205.7 321.7L201.9 326.1L197.6 330.4L192.8 334.5L187.7 338.5L182.3 342.1L176.5 345.5L170.6 348.5L164.4 351.2L158.1 353.4L151.8 355.2L145.4 356.6L139 357.4L132.7 357.9L126.6 357.8L120.7 357.3L114.9 356.3L109.5 354.9L104.3 353.1L99.5 350.8L95.1 348.2L91.1 345.2L87.5 341.8L84.5 338.2L81.9 334.3L79.8 330.2L78.2 325.8L77.2 321.3L76.8 316.7L76.9 312L77.5 307.2L78.7 302.4L80.4 297.7L82.6 292.9L85.3 288.3L88.4 283.7L92 279.3L96 275.1L100.3 271.1L105 267.3L109.9 263.8L115 260.6L120.3 257.7L125.6 255.2L131 253.1L136.4 251.3L141.6 250L146.8 249.1L151.7 248.6L156.3 248.6L160.6 249.1L164.5 250L168 251.3L171.1 253.1L173.6 255.3L175.6 257.9L177 260.8L177.9 264.1L178.1 267.7L177.8 271.5L176.8 275.5L175.3 279.7L173.2 284L170.6 288.4L167.5 292.8L163.8 297.1L159.8 301.4L155.3 305.5L150.6 309.5L145.5 313.2L140.3 316.7L134.9 320L129.4 322.9L123.8 325.5L118.3 327.7L112.9 329.5L107.5 331L102.3 332L97.3 332.6L92.5 332.7L88 332.4L83.7 331.7L79.8 330.6L76.2 329.1L73 327.2L70.3 325L68 322.4L66.2 319.6L64.9 316.5L64.1 313.2L63.8 309.6L64.1 306L64.9 302.2L66.2 298.3L68.1 294.4L70.6 290.5L73.5 286.6L77 282.7L81 278.9L85.4 275.3L90.2 271.8L95.4 268.5L101 265.4L106.9 262.5L113 259.9L119.4 257.7L125.9 255.7L132.4 254.1L139 252.9L145.6 252.2L152 251.8L158.3 251.8L164.4 252.4L170.2 253.3L175.7 254.7L180.8 256.6L185.4 258.9L189.6 261.7L193.3 264.8L196.4 268.4L199 272.3L200.9 276.6L202.3 281.1L203 285.9L203.2 290.9L202.7 296L201.7 301.3L200.1 306.6L198 311.9L195.3 317.2L192.2 322.3L188.7 327.3L184.8 332.1L180.6 336.6L176 340.8L171.3 344.7L166.3 348.2L161.2 351.4L156.1 354L150.9 356.3L145.8 358.1L140.7 359.4L135.7 360.2L131 360.6L126.4 360.5L122.1 360L118.1 359L114.4 357.6L111.1 355.9L108.2 353.7L105.7 351.2L103.6 348.4L102 345.3L100.8 341.9L100.1 338.3L99.8 334.4L100 330.4L100.6 326.2L101.7 321.9L103.2 317.5L105.1 313L107.6 308.6L110.4 304.2L113.7 299.9L117.4 295.7L121.4 291.7L125.7 287.9L130.4 284.3L135.3 280.9L140.4 277.9L145.6 275.2L150.9 272.8L156.2 270.8L161.5 269.2L166.7 268L171.7 267.3L176.5 266.9L181.1 267.1L185.3 267.6L189.1 268.6L192.5 270.1L195.4 272L197.8 274.3L199.7 276.9L201 280L201.7 283.3L201.8 286.9L201.3 290.8L200.2 294.9L198.6 299.1L196.3 303.5L193.5 307.9L190.1 312.2L186.3 316.6L182 320.8L177.2 324.8L172.1 328.6L166.7 332.2L161 335.5L155 338.4L148.9 340.9L142.6 343.1L136.3 344.8L130 346L123.7 346.8L117.5 347.2L111.4 347L105.5 346.4L99.8 345.4L94.4 343.9L89.3 341.9L84.6 339.6L80.2 336.9L76.3 333.8L72.8 330.4L69.8 326.7L67.3 322.7L65.3 318.5L63.9 314.1L62.9 309.5L62.5 304.9L62.7 300.1L63.4 295.3L64.7 290.4L66.5 285.6L68.8 280.8L71.6 276.1L74.9 271.6L78.6 267.2L82.7 263L87.2 259L92 255.2L97.1 251.8L102.4 248.6L107.9 245.9L113.5 243.5L119.2 241.5L124.9 240L130.6 239L136.3 238.4L141.8 238.4L147.1 238.9L152.2 239.9L157 241.4L161.4 243.4L165.4 245.9L169 248.9L172 252.3L174.5 256L176.4 260.1L177.7 264.5L178.5 269.2L178.6 274L178.2 279.1L177.1 284.2L175.6 289.4L173.5 294.6L170.9 299.8L167.8 304.9L164.3 309.8L160.4 314.4L156.2 318.9L151.8 323L147 326.8L142.2 330.2L137.1 333.2L132 335.8L126.9 338L121.9 339.7L116.9 340.9L112 341.7L107.3 342L102.9 341.8L98.7 341.2L94.8 340.2L91.3 338.8L88.2 337L85.5 334.8L83.2 332.4L81.4 329.6L80.1 326.6L79.3 323.3L79 319.9L79.3 316.3L80.1 312.6L81.5 308.7L83.4 304.9L85.8 301L88.8 297.2L92.2 293.4L96.2 289.6L100.6 286L105.4 282.6L110.6 279.4L116.2 276.3L122.1 273.5L128.2 271L134.5 268.8L141 267L147.5 265.5L154.1 264.3L160.6 263.6L167 263.3L173.3 263.5L179.3 264L185 265.1L190.4 266.6L195.5 268.5L200 270.9L204.1 273.7L207.7 276.9L210.7 280.5L213.1 284.5L215 288.7L216.2 293.3L216.8 298.1L216.7 303.1L216 308.2L214.8 313.4L212.9 318.6L210.4 323.7L207.3 328.8L203.7 333.7L199.6 338.3L195 342.7L190 346.7L184.7 350.4L179 353.7L173.1 356.5L167 358.9L160.7 360.9L154.5 362.3L148.2 363.3L142 363.8L136 363.8L130.1 363.4L124.4 362.4L119 361L113.8 359.2L109.1 357L104.7 354.4L100.7 351.4L97.2 348.1L94.1 344.5L91.6 340.6L89.5 336.5L88 332.2L87 327.8L86.6 323.2L86.7 318.5L87.4 313.7L88.5 309L90.3 304.2L92.5 299.5L95.2 294.9L98.4 290.4L102 286.1L106 281.9L110.3 277.9L115 274.2L119.9 270.8L125 267.7L130.2 264.8L135.5 262.4L140.9 260.3L146.2 258.6L151.5 257.4L156.5 256.6L161.4 256.2L166 256.2L170.2 256.8L174.1 257.7L177.5 259.1L180.5 261L182.9 263.2L184.8 265.8L186.1 268.8L186.9 272.1L187 275.7L186.5 279.6L185.5 283.6L183.8 287.8L181.6 292.1L178.8 296.5L175.4 300.8L171.6 305.1L167.3 309.2L162.6 313.2L157.5 317L152.1 320.5L146.4 323.7L140.5 326.6L134.5 329.1L128.3 331.2L122 332.9L115.8 334.1L109.6 334.9L103.4 335.2L97.5 335L91.7 334.5L86.2 333.4L81 332L76.2 330.1L71.7 327.9L67.7 325.3L64.2 322.4L61.2 319.2L58.7 315.9L56.9 312.3L55.6 308.6L55 304.7L55 300.8L55.6 296.8L56.8 292.7L58.6 288.6L61 284.5L63.9 280.5L67.3 276.5L71.3 272.7L75.7 268.9L80.5 265.4L85.8 262L91.4 258.8L97.3 255.9L103.5 253.3L109.8 251L116.3 249L122.9 247.4L129.6 246.2L136.2 245.4L142.6 245L149 245.1L155.1 245.6L160.9 246.5L166.4 247.9L171.5 249.8L176.2 252.1L180.3 254.9L184 258L187.1 261.6L189.7 265.5L191.6 269.7L193 274.3L193.7 279L193.9 284L193.4 289.2L192.4 294.4L190.8 299.7L188.6 305L186 310.2L182.9 315.3L179.4 320.3L175.5 325L171.2 329.5L166.7 333.7L162 337.5L157.1 341L152 344L146.9 346.7L141.8 348.9L136.7 350.6L131.7 351.9L126.8 352.7L122.1 353L117.6 352.9L113.4 352.4L109.6 351.4L106 350.1L102.9 348.3L100.1 346.2L97.8 343.8L96 341.1L94.7 338.1L93.8 334.9L93.5 331.5L93.8 328L94.5 324.3L95.8 320.5L97.7 316.7L100 312.9L102.9 309.1L106.2 305.3L110.1 301.6L114.3 298L119 294.5L124 291.2L129.3 288.1L134.9 285.2L140.6 282.6L146.5 280.1L152.5 278L158.4 276.1L164.3 274.6L170 273.4L175.6 272.5L180.9 272L185.9 272L190.6 272.3L194.9 273L198.8 274.2L202.3 275.8L205.2 277.8L207.6 280.2L209.5 283L210.8 286.1L211.4 289.5L211.5 293.3L211 297.2L209.8 301.4L208.1 305.7L205.8 310.1L202.9 314.5L199.5 318.9L195.6 323.3L191.2 327.5L186.4 331.6L181.3 335.4L175.8 339L170 342.3L164 345.2L157.9 347.8L151.6 349.9L145.2 351.6L138.9 352.9L132.5 353.7L126.3 354L120.2 353.9L114.3 353.3L108.6 352.3L103.2 350.8L98.1 348.8L93.4 346.5L89 343.8L85.1 340.7L81.6 337.3L78.6 333.6L76.1 329.7L74.1 325.5L72.6 321.1L71.7 316.6L71.3 311.9L71.5 307.2L72.2 302.4L73.4 297.5L75.2 292.7L77.5 288L80.3 283.3L83.5 278.8L87.2 274.4L91.2 270.1L95.6 266.1L100.3 262.4L105.2 258.9L110.4 255.7L115.7 252.9L121.1 250.4L126.5 248.3L131.9 246.6L137.2 245.3L142.3 244.4L147.2 244L151.8 244.1L156.2 244.6L160.1 245.6L163.6 247L166.7 248.8L169.2 251.1L171.3 253.8L172.7 256.9L173.7 260.3L174.1 264L173.9 268L173.2 272.3L171.9 276.8L170.2 281.4L168 286.1L165.4 291L162.4 295.8L159 300.6L155.2 305.2L151.1 309.7L146.7 313.9L142.1 317.9L137.3 321.5L132.3 324.8L127.2 327.7L122.1 330.2L117 332.2L111.9 333.8L106.9 335L102 335.6L97.4 335.8L93 335.6L88.8 334.9L85 333.8L81.5 332.3L78.4 330.4L75.8 328.2L73.6 325.7L71.8 322.8L70.6 319.8L69.9 316.5L69.7 313L70 309.3L70.9 305.5L72.3 301.7L74.3 297.8L76.8 293.9L79.8 290L83.3 286.2L87.4 282.4L91.8 278.8L96.7 275.3L102 272.1L107.6 269L113.5 266.2L119.7 263.7L126.1 261.5L132.6 259.6L139.1 258.1L145.7 257L152.3 256.3L158.7 256L165 256.1L171.1 256.7L176.8 257.8L182.3 259.3L187.3 261.3L191.9 263.7L196 266.5L199.6 269.7L202.6 273.4L205.1 277.4L207 281.7L208.2 286.3L208.9 291.2L208.9 296.2L208.4 301.4L207.2 306.7L205.5 312.1L203.3 317.4L200.6 322.7L197.3 327.8L193.7 332.8L189.7 337.6L185.3 342.1L180.7 346.2L175.8 350.1L170.8 353.5L165.6 356.5L160.3 359.1L155 361.3L149.7 362.9L144.4 364L139.3 364.7L134.3 364.8L129.4 364.5L124.8 363.6L120.3 362.3L116.2 360.4L112.3 358.2L108.7 355.5L105.6 352.4L102.8 349L100.5 345.3L98.7 341.4L97.3 337.2L96.5 332.8L96.2 328.3L96.4 323.7L97.1 319.1L98.4 314.4L100.2 309.8L102.4 305.1L105.2 300.6L108.4 296.2L112 291.9L116 287.8L120.4 283.9L125 280.3L129.9 276.9L135 273.9L140.2 271.2L145.5 268.8L150.9 266.8L156.2 265.2L161.3 264.1L166.4 263.3L171.1 263L175.7 263.2L179.8 263.8L183.6 264.8L187 266.3L189.8 268.2L192.2 270.5L194 273.2L195.3 276.3L195.9 279.6L196 283.3L195.4 287.2L194.3 291.3L192.6 295.5L190.2 299.8L187.4 304.2L184 308.5L180.1 312.8L175.7 317L171 321L165.8 324.8L160.4 328.3L154.6 331.5L148.7 334.3L142.6 336.8L136.3 338.9L130 340.5L123.7 341.7L117.5 342.4L111.3 342.7L105.3 342.4L99.4 341.8L93.8 340.6L88.5 339.1L83.5 337.1L78.8 334.7L74.6 331.9L70.8 328.8L67.4 325.3L64.5 321.6L62.1 317.6L60.2 313.4L58.9 309L58.1 304.4L57.9 299.8L58.2 295L59.1 290.3L60.5 285.5L62.5 280.8L65.1 276.1L68.1 271.6L71.7 267.2L75.8 263.1L80.3 259.1L85.2 255.5L90.6 252.2L96.3 249.2L102.2 246.6L108.4 244.4L114.8 242.6L121.2 241.2L127.6 240.3L133.9 239.8L140.1 239.8L146.1 240.2L151.8 241.1L157.2 242.4L162.2 244.2L166.8 246.5L170.9 249.2L174.5 252.3L177.6 255.8L180.1 259.7L182 263.9L183.3 268.4L184 273.1L184.1 278.1L183.6 283.2L182.5 288.3L180.9 293.6L178.8 298.8L176.1 304L173 309L169.5 313.9L165.6 318.6L161.4 323L156.9 327.1L152.1 330.9L147.3 334.3L142.2 337.2L137.2 339.8L132.1 341.9L127 343.6L122 344.8L117.2 345.5L112.6 345.8L108.2 345.6L104 345L100.2 343.9L96.8 342.5L93.7 340.7L91 338.5L88.8 336.1L87.1 333.3L85.8 330.3L85.1 327.1L84.9 323.6L85.2 320.1L86 316.4L87.5 312.6L89.4 308.8L91.9 305L94.9 301.2L98.3 297.4L102.3 293.8L106.7 290.2L111.6 286.9L116.8 283.7L122.3 280.7L128.2 278L134.3 275.5L140.5 273.4L146.9 271.6L153.4 270.2L159.9 269.1L166.3 268.4L172.6 268.2L178.8 268.3L184.7 269L190.3 270L195.5 271.5L200.3 273.4L204.7 275.7L208.5 278.5L211.8 281.6L214.5 285L216.5 288.8L217.9 292.8L218.5 297L218.5 301.4L217.7 306L216.3 310.6L214.3 315.2L211.6 319.8L208.3 324.4L204.5 328.9L200.3 333.3L195.5 337.4L190.4 341.4L185 345L179.2 348.3L173.3 351.3L167.1 353.9L160.8 356.1L154.5 357.8L148.1 359.1L141.8 359.9L135.6 360.3L129.5 360.1L123.6 359.6L118 358.5L112.6 357L107.5 355.1L102.8 352.8L98.4 350.1L94.5 347.1L91.1 343.7L88.1 340.1L85.6 336.1L83.6 332L82.2 327.7L81.3 323.2L80.9 318.6L81.1 313.9L81.8 309.1L83.1 304.3L84.8 299.6L87.1 294.9L89.9 290.3L93.1 285.8L96.8 281.5L100.8 277.3L105.2 273.4L109.8 269.7L114.8 266.3L119.9 263.1L125.1 260.4L130.5 257.9L135.8 255.9L141.2 254.2L146.4 253L151.4 252.2L156.2 251.9L160.8 252L165 252.5L168.8 253.5L172.2 254.9L175.1 256.8L177.5 259L179.3 261.7L180.6 264.7L181.3 268L181.4 271.6L180.9 275.5L179.8 279.5L178.1 283.7L175.9 288L173 292.3L169.7 296.6L165.9 300.9L161.6 305L157 309L151.9 312.8L146.6 316.3L141 319.5L135.2 322.4L129.3 325L123.3 327.1L117.3 328.9L111.4 330.2L105.5 331.2L99.8 331.8L94.4 331.9L89.3 331.7L84.5 331.1L80 330.1L75.9 328.7L72.3 327L69 324.9L66.3 322.5L64 319.8L62.2 316.9L60.9 313.7L60.2 310.3L60 306.7L60.3 303L61.2 299.1L62.7 295.2L64.7 291.3L67.2 287.3L70.3 283.4L73.8 279.5L77.9 275.7L82.4 272.1L87.3 268.6L92.6 265.3L98.3 262.2L104.2 259.4L110.4 256.8L116.8 254.6L123.3 252.7L129.9 251.2L136.6 250.1L143.1 249.3L149.6 249L155.9 249.2L161.9 249.7L167.7 250.8L173.1 252.3L178.2 254.2L182.8 256.6L186.9 259.4L190.5 262.7L193.5 266.3L196 270.3L197.8 274.6L199.1 279.2L199.7 284L199.8 289.1L199.2 294.2L198.1 299.5L196.4 304.8L194.2 310.1L191.5 315.4L188.3 320.5L184.7 325.5L180.8 330.2L176.5 334.7L171.9 338.9L167.1 342.7L162.1 346.1L157 349.2L151.9 351.8L146.7 353.9L141.6 355.6L136.6 356.9L131.7 357.6L127 357.9L122.5 357.8L118.3 357.2L114.4 356.1L110.9 354.7L107.7 352.9L105 350.8L102.7 348.3L100.8 345.5L99.5 342.5L98.6 339.2L98.3 335.7L98.4 332.1L99.1 328.3L100.2 324.4L101.9 320.4L104 316.3L106.6 312.2L109.5 308.1L112.9 304.1L116.6 300L120.7 296.1L125 292.3L129.7 288.7L134.5 285.2L139.6 282L144.8 279.1L150.1 276.6L155.5 274.3L160.9 272.4L166.2 271L171.4 269.9L176.4 269.3L181.2 269L185.7 269.3L189.9 270L193.6 271.1L196.9 272.7L199.7 274.6L202 277L203.8 279.8L204.9 282.9L205.5 286.4L205.5 290.1L204.9 294L203.7 298.2L201.8 302.4L199.5 306.8L196.5 311.2L193 315.6L189.1 319.9L184.7 324.1L179.8 328.1L174.6 331.9L169.1 335.4L163.3 338.7L157.3 341.5L151.1 344L144.9 346.1L138.5 347.7L132.2 348.9L125.9 349.6L119.7 349.8L113.6 349.6L107.7 348.9L102.1 347.8L96.8 346.2L91.7 344.2L87.1 341.8L82.8 339L78.9 335.9L75.5 332.4L72.6 328.7L70.2 324.7L68.3 320.4L66.9 316L66.1 311.4L65.8 306.7L66.1 302L66.9 297.1L68.2 292.3L70.1 287.5L72.5 282.7L75.3 278.1L78.7 273.5L82.4 269.1L86.5 264.9L91 260.9L95.8 257.2L100.8 253.8L106.1 250.7L111.4 247.9L116.9 245.5L122.4 243.5L127.9 241.9L133.3 240.7L138.5 240L143.6 239.8L148.4 240L152.9 240.8L157.1 242L161 243.8L164.5 246.1L167.5 248.8L170.1 252L172.2 255.6L173.8 259.6L174.8 263.9L175.3 268.5L175.2 273.3L174.5 278.3L173.3 283.4L171.6 288.5L169.4 293.7L166.6 298.8L163.5 303.7L159.9 308.6L155.9 313.2L151.7 317.5L147.1 321.5L142.4 325.2L137.5 328.5L132.5 331.5L127.4 333.9L122.3 336L117.2 337.6L112.3 338.7L107.5 339.3L102.9 339.5L98.5 339.3L94.4 338.6L90.6 337.5L87.2 335.9L84.2 334.1L81.6 331.8L79.4 329.3L77.7 326.5L76.5 323.4L75.9 320.1L75.7 316.6L76.1 313L77.1 309.2L78.5 305.4L80.6 301.5L83.1 297.6L86.2 293.8L89.8 290L93.8 286.3L98.3 282.7L103.3 279.3L108.6 276.1L114.2 273.1L120.1 270.4L126.3 267.9L132.7 265.8L139.2 264L145.7 262.6L152.3 261.5L158.8 260.9L165.2 260.7L171.5 260.9L177.5 261.6L183.2 262.7L188.5 264.3L193.5 266.3L198 268.8L202 271.7L205.5 275L208.4 278.7L210.8 282.7L212.5 287.1L213.7 291.7L214.2 296.6L214.1 301.7L213.4 306.9L212.1 312.2L210.3 317.5L207.9 322.8L205 328L201.6 333L197.7 337.9L193.5 342.5L188.9 346.8L183.9 350.7L178.6 354.2L173.1 357.3L167.4 359.9L161.5 362L155.5 363.6L149.5 364.7L143.5 365.2L137.7 365.2L131.9 364.8L126.4 363.8L121.1 362.4L116.1 360.6L111.5 358.3L107.2 355.6L103.4 352.6L100 349.3L97 345.7L94.6 341.8L92.7 337.7L91.3 333.4L90.4 328.9L90.1 324.3L90.3 319.6L91.1 314.9L92.4 310.2L94.2 305.5L96.5 300.8L99.3 296.2L102.5 291.8L106.2 287.5L110.3 283.4L114.7 279.5L119.3 275.9L124.3 272.5L129.4 269.5L134.7 266.7L140 264.4L145.3 262.4L150.6 260.8L155.8 259.7L160.8 259L165.6 258.7L170.1 258.9L174.3 259.5L178 260.6L181.3 262.1L184.2 264L186.5 266.3L188.3 269.1L189.5 272.1L190.1 275.5L190.1 279.2L189.5 283.1L188.3 287.1L186.5 291.4L184.1 295.7L181.2 300L177.8 304.4L173.8 308.6L169.4 312.8L164.6 316.7L159.5 320.4L154 323.9L148.3 327L142.3 329.8L136.2 332.3L130 334.3L123.7 335.8L117.4 337L111.2 337.6L105 337.8L99 337.6L93.3 336.8L87.7 335.6L82.5 334L77.6 332L73.1 329.6L68.9 326.8L65.3 323.7L62.1 320.3L59.4 316.6L57.3 312.7L55.7 308.6L54.7 304.4L54.3 300.1L54.6 295.7L55.5 291.3L57.1 287L59.2 282.7L62 278.5L65.3 274.3L69.2 270.4L73.6 266.6L78.4 262.9L83.6 259.5L89.2 256.4L95.2 253.5L101.3 250.9L107.7 248.6L114.2 246.6L120.8 245.1L127.4 243.9L134 243.1L140.4 242.8L146.7 242.9L152.7 243.5L158.5 244.5L163.9 246L168.9 247.9L173.5 250.3L177.6 253.1L181.2 256.3L184.2 259.9L186.6 263.9L188.5 268.2L189.7 272.8L190.3 277.6L190.3 282.6L189.8 287.7L188.6 293L186.9 298.2L184.7 303.5L182 308.7L178.8 313.8L175.2 318.7L171.2 323.4L166.9 327.8L162.3 331.9L157.5 335.6L152.6 339L147.5 342L142.4 344.5L137.3 346.6L132.2 348.2L127.2 349.4L122.3 350.1L117.7 350.3L113.3 350.1L109.1 349.5L105.3 348.4L101.8 346.9L98.8 345.1L96.1 342.9L93.9 340.4L92.2 337.6L91 334.6L90.3 331.3L90.1 327.9L90.4 324.3L91.3 320.6L92.8 316.8L94.7 313L97.2 309.1L100.2 305.3L103.8 301.6L107.7 297.9L112.2 294.4L117 291L122.2 287.8L127.8 284.8L133.6 282.1L139.6 279.6L145.8 277.4L152.1 275.6L158.4 274.1L164.8 272.9L171 272.2L177 271.8L182.8 271.7L188.2 272.1L193.3 272.8L198 274L202.1 275.5L205.7 277.4L208.8 279.6L211.3 282.3L213.2 285.2L214.5 288.5L215.1 292.1L215.1 296L214.5 300L213.3 304.3L211.5 308.7L209.1 313.1L206.2 317.6L202.7 322.1L198.7 326.4L194.2 330.7L189.4 334.8L184.1 338.6L178.6 342.2L172.8 345.4L166.7 348.3L160.5 350.8L154.2 352.9L147.8 354.5L141.5 355.7L135.2 356.5L128.9 356.7L122.9 356.5L117 355.8L111.3 354.7L106 353.1L101 351.1L96.3 348.8L92 346L88.2 342.9L84.8 339.4L81.9 335.7L79.4 331.7L77.6 327.5L76.2 323.1L75.4 318.6L75.1 313.9L75.3 309.2L76.2 304.4L77.5 299.6L79.4 294.8L81.7 290.1L84.6 285.4L87.9 280.9L91.6 276.6L95.7 272.4L100.2 268.5L104.9 264.8L109.9 261.3L115 258.2L120.3 255.5L125.7 253.1L131.1 251.1L136.4 249.4L141.6 248.2L146.7 247.5L151.5 247.2L156.1 247.3L160.2 247.9L164 248.9L167.4 250.4L170.3 252.3L172.7 254.6L174.5 257.3L175.7 260.4L176.4 263.8L176.5 267.4L176 271.3L174.9 275.4L173.2 279.7L171 284.1L168.3 288.5L165.1 293L161.5 297.4L157.4 301.7L153.1 305.9L148.4 310L143.6 313.9L138.5 317.5L133.4 320.8L128.1 323.8L122.8 326.5L117.6 328.7L112.3 330.6L107.1 332L102.1 332.9L97.2 333.5L92.6 333.5L88.2 333.2L84.1 332.4L80.3 331.1L76.9 329.5L73.9 327.6L71.3 325.2L69.2 322.6L67.6 319.7L66.4 316.6L65.8 313.2L65.7 309.7L66.2 306L67.2 302.2L68.7 298.3L70.8 294.4L73.4 290.4L76.5 286.6L80.2 282.7L84.3 279L88.9 275.4L93.8 271.9L99.2 268.7L104.9 265.7L110.9 262.9L117.1 260.5L123.5 258.3L130 256.5L136.6 255L143.2 254L149.8 253.3L156.2 253.1L162.5 253.3L168.5 254L174.2 255.1L179.5 256.7L184.5 258.7L189 261.2L193 264.1L196.5 267.4L199.5 271.1L201.8 275.2L203.6 279.5L204.8 284.2L205.3 289.1L205.3 294.1L204.6 299.4L203.4 304.7L201.6 310L199.3 315.3L196.4 320.6L193.2 325.7L189.5 330.7L185.4 335.4L181.1 339.8L176.4 343.9L171.6 347.7L166.5 351.1L161.4 354.1L156.2 356.6L150.9 358.7L145.8 360.3L140.7 361.5L135.7 362.2L130.9 362.4L126.4 362.1L122.1 361.4L118.1 360.2L114.4 358.6L111.1 356.6L108.2 354.2L105.6 351.5L103.4 348.4L101.7 345L100.4 341.3L99.5 337.3L99 333.2L99.1 328.9L99.6 324.4L100.6 319.9L102.1 315.3L104.1 310.7L106.5 306.2L109.4 301.7L112.8 297.4L116.5 293.2L120.6 289.2L125.1 285.4L129.8 281.9L134.8 278.6L139.9 275.6L145.2 273L150.5 270.7L155.8 268.9L161.1 267.4L166.2 266.3L171.2 265.7L175.9 265.5L180.4 265.8L184.5 266.5L188.2 267.6L191.4 269.2L194.2 271.2L196.4 273.6L198.1 276.4L199.2 279.5L199.7 283L199.6 286.7L199 290.7L197.7 294.8L195.8 299.1L193.3 303.4L190.3 307.8L186.8 312.2L182.8 316.4L178.4 320.6L173.5 324.5L168.3 328.3L162.7 331.7L156.9 334.9L150.9 337.7L144.8 340.1L138.5 342.1L132.2 343.6L125.8 344.7L119.6 345.3L113.4 345.5L107.4 345.2L101.6 344.4L96 343.2L90.7 341.5L85.7 339.4L81.1 337L76.9 334.1L73.2 330.9L69.9 327.4L67 323.6L64.7 319.5L62.9 315.3L61.6 310.8L60.9 306.2L60.7 301.5L61.1 296.8L62 291.9L63.5 287.1L65.5 282.3L68 277.6L71 273L74.4 268.5L78.3 264.2L82.6 260.1L87.3 256.2L92.2 252.7L97.5 249.4L103 246.5L108.7 244L114.6 242L120.6 240.3L126.6 239.2L132.6 238.5L138.5 238.4L144.2 238.8L149.7 239.6L154.9 240.9L159.7 242.8L164.1 245.1L168.1 247.8L171.5 250.9L174.5 254.5L176.8 258.4L178.6 262.6L179.8 267.1L180.3 271.9L180.3 276.8L179.7 281.9L178.5 287.1L176.8 292.3L174.5 297.5L171.8 302.7L168.6 307.7L165 312.5L161.1 317.1L156.8 321.5L152.2 325.5L147.5 329.2L142.6 332.5L137.6 335.4L132.5 337.8L127.4 339.8L122.4 341.4L117.4 342.5L112.6 343.1L108 343.3L103.7 343L99.6 342.2L95.9 341.1L92.5 339.6L89.5 337.7L86.9 335.4L84.8 332.9L83.2 330.1L82 327L81.4 323.7L81.3 320.2L81.8 316.6L82.7 312.9L84.3 309.1L86.3 305.2L88.9 301.4L92 297.6L95.6 293.8L99.7 290.1L104.2 286.6L109.2 283.3L114.5 280.1L120.1 277.1L126.1 274.5L132.2 272.1L138.6 270L145 268.2L151.5 266.9L158.1 265.9L164.5 265.3L170.9 265.1L177 265.4L182.9 266.2L188.6 267.3L193.8 269L198.6 271L203 273.5L206.9 276.4L210.2 279.8L213 283.4L215.2 287.5L216.7 291.8L217.6 296.3L217.9 301.1L217.5 306L216.5 311L214.8 316.1L212.4 321.1L209.5 326L205.9 330.7L201.8 335.3L197.3 339.6L192.3 343.6L186.9 347.4L181.2 350.7L175.3 353.7L169.2 356.3L162.9 358.5L156.6 360.2L150.3 361.4L144 362.2L137.8 362.5L131.8 362.3L125.9 361.7L120.3 360.6L115 359L110 357.1L105.3 354.7L101.1 351.9L97.3 348.8L93.9 345.4L91 341.7L88.6 337.8L86.7 333.6L85.4 329.2L84.6 324.7L84.3 320.1L84.6 315.4L85.4 310.6L86.8 305.9L88.7 301.1L91 296.4L93.9 291.8L97.2 287.4L100.9 283.1L105.1 279L109.5 275.1L114.2 271.5L119.2 268.1L124.3 265.1L129.6 262.4L135 260L140.3 258.1L145.6 256.5L150.8 255.4L155.8 254.7L160.6 254.4L165 254.6L169.2 255.3L172.9 256.4L176.2 257.9L179 259.9L181.2 262.2L183 265L184.1 268L184.6 271.4L184.6 275.1L183.9 279L182.7 283.1L180.9 287.3L178.5 291.6L175.5 296L172 300.3L168.1 304.5L163.7 308.6L158.8 312.5L153.7 316.2L148.2 319.7L142.5 322.8L136.6 325.5L130.5 327.9L124.3 329.9L118.1 331.5L111.9 332.6L105.8 333.3L99.8 333.5L94 333.3L88.5 332.6L83.3 331.6L78.4 330.1L73.9 328.3L69.9 326.2L66.3 323.8L63.3 321L60.8 318.1L58.9 314.9L57.6 311.5L56.8 307.9L56.6 304.2L57 300.4L57.9 296.5L59.4 292.5L61.5 288.5L64.1 284.5L67.2 280.5L70.9 276.6L75 272.8L79.6 269.1L84.6 265.6L90 262.3L95.7 259.3L101.7 256.5L108 254L114.4 251.8L121 249.9L127.6 248.5L134.2 247.4L140.8 246.7L147.2 246.5L153.5 246.7L159.5 247.3L165.3 248.4L170.6 250L175.6 252L180.1 254.5L184.1 257.4L187.6 260.7L190.5 264.4L192.9 268.4L194.6 272.8L195.8 277.4L196.3 282.3L196.3 287.3L195.6 292.5L194.4 297.8L192.6 303.1L190.2 308.4L187.4 313.6L184.1 318.7L180.5 323.6L176.4 328.3L172.1 332.7L167.4 336.8L162.6 340.5L157.6 343.9L152.5 346.8L147.3 349.3L142.1 351.4L137 353L132 354.1L127.2 354.8L122.5 355L118.1 354.7L113.9 354L110.1 352.9L106.7 351.4L103.6 349.5L101 347.3L98.8 344.8L97.1 341.9L95.9 338.9L95.2 335.6L95 332.1L95.4 328.5L96.3 324.7L97.7 320.9L99.7 317L102.2 313.1L105.2 309.3L108.6 305.4L112.5 301.7L116.8 298L121.4 294.5L126.4 291.1L131.6 287.9L137 284.9L142.6 282L148.2 279.5L153.9 277.2L159.5 275.2L165.1 273.6L170.6 272.4L175.9 271.5L181 271L185.9 271L190.4 271.4L194.5 272.2L198.2 273.5L201.5 275.2L204.2 277.3L206.5 279.9L208.1 282.7L209.2 286L209.7 289.5L209.5 293.3L208.8 297.3L207.5 301.5L205.5 305.9L203 310.3L200 314.7L196.4 319.1L192.3 323.5L187.8 327.6L182.9 331.6L177.6 335.4L172 338.9L166.2 342.1L160.1 344.9L153.9 347.3L147.6 349.3L141.3 350.8L134.9 351.9L128.6 352.6L122.4 352.8L116.4 352.5L110.6 351.7L105 350.5L99.7 348.8L94.8 346.8L90.2 344.3L86 341.4L82.2 338.3L78.9 334.7L76.1 331L73.7 326.9L71.9 322.7L70.7 318.2L69.9 313.7L69.8 309L70.1 304.2L71 299.4L72.5 294.6L74.4 289.8L76.9 285.1L79.8 280.5L83.2 276L87 271.6L91.1 267.5L95.6 263.6L100.4 259.9L105.4 256.6L110.7 253.5L116 250.8L121.4 248.4L126.8 246.5L132.1 244.9L137.4 243.8L142.4 243.1L147.3 242.9L151.8 243.1L156 243.8L159.9 244.9L163.3 246.5L166.2 248.5L168.6 251L170.6 253.9L172 257.1L172.9 260.8L173.3 264.7L173.1 268.9L172.5 273.4L171.3 278.1L169.7 283L167.6 287.9L165.1 292.8L162.1 297.8L158.7 302.6L155 307.2L150.9 311.7L146.5 315.9L141.9 319.8L137.1 323.3L132.2 326.5L127.2 329.3L122.1 331.6L117 333.5L112 335L107.1 336L102.3 336.5L97.8 336.6L93.5 336.2L89.5 335.4L85.8 334.2L82.5 332.6L79.6 330.6L77.1 328.3L75 325.7L73.5 322.8L72.4 319.7L71.9 316.3L71.8 312.8L72.4 309.2L73.4 305.4L75 301.6L77.2 297.7L79.8 293.8L83 290L86.7 286.2L90.8 282.6L95.4 279L100.4 275.7L105.7 272.5L111.4 269.6L117.4 266.9L123.6 264.5L130 262.4L136.5 260.7L143 259.3L149.6 258.3L156.1 257.8L162.4 257.6L168.6 257.9L174.5 258.7L180.2 259.9L185.5 261.6L190.3 263.7L194.7 266.2L198.7 269.2L202.1 272.5L204.9 276.3L207.2 280.4L208.8 284.8L209.9 289.5L210.3 294.4L210.2 299.5L209.5 304.7L208.1 310L206.3 315.3L203.9 320.6L201 325.8L197.6 330.9L193.9 335.8L189.7 340.5L185.3 344.8L180.5 348.9L175.6 352.5L170.4 355.8L165.2 358.6L159.8 361L154.4 362.9L149 364.3L143.6 365.1L138.3 365.4L133.1 365.2L128 364.5L123.2 363.3L118.6 361.6L114.2 359.4L110.2 356.8L106.6 353.9L103.4 350.6L100.7 347L98.4 343.1L96.7 339.1L95.4 334.8L94.7 330.3L94.5 325.8L94.8 321.2L95.7 316.5L97.1 311.8L99 307.1L101.4 302.5L104.3 298L107.6 293.6L111.3 289.4L115.4 285.4L119.9 281.6L124.6 278L129.5 274.7L134.6 271.8L139.9 269.2L145.2 266.9L150.5 265L155.7 263.5L160.8 262.5L165.8 261.9L170.5 261.7L174.9 262L178.9 262.7L182.5 263.9L185.7 265.5L188.4 267.5L190.6 269.9L192.2 272.7L193.3 275.8L193.8 279.3L193.6 283L192.9 286.9L191.5 291L189.6 295.3L187.1 299.6L184.1 303.9L180.5 308.3L176.5 312.5L172 316.6L167.1 320.5L161.9 324.2L156.3 327.6L150.5 330.6L144.5 333.4L138.4 335.7L132.1 337.6L125.8 339.1L119.5 340.1L113.3 340.7L107.2 340.8L101.2 340.4L95.5 339.6L90 338.3L84.8 336.6L79.9 334.4L75.4 331.9L71.3 329L67.6 325.8L64.4 322.3L61.7 318.4L59.5 314.4L57.9 310.1L56.8 305.7L56.2 301.2L56.2 296.6L56.9 291.9L58 287.2L59.8 282.5L62.2 278L65.1 273.5L68.6 269.2L72.6 265.1L77.2 261.3L82.2 257.7L87.6 254.4L93.3 251.4L99.4 248.7L105.6 246.4L112.1 244.5L118.6 242.9L125.1 241.8L131.6 241L137.9 240.7L144.1 240.9L150.1 241.5L155.8 242.6L161.1 244.1L166 246.1L170.5 248.6L174.5 251.4L177.9 254.7L180.8 258.4L183.1 262.4L184.9 266.7L186 271.3L186.5 276.1L186.4 281.1L185.8 286.3L184.5 291.5L182.7 296.8L180.4 302L177.6 307.2L174.3 312.2L170.7 317L166.6 321.7L162.3 326L157.7 330L152.9 333.7L147.9 337L142.9 339.8L137.7 342.3L132.6 344.3L127.6 345.8L122.6 346.9L117.8 347.4L113.2 347.6L108.9 347.3L104.8 346.5L101.1 345.4L97.7 343.8L94.7 341.9L92.2 339.6L90.1 337.1L88.5 334.2L87.4 331.1L86.8 327.8L86.8 324.3L87.2 320.7L88.3 317L89.8 313.2L92 309.3L94.6 305.5L97.8 301.7L101.4 298L105.5 294.3L110.1 290.8L115.1 287.5L120.4 284.3L126.1 281.4L132 278.8L138.2 276.4L144.5 274.4L150.9 272.6L157.4 271.3L163.9 270.3L170.3 269.8L176.5 269.6L182.5 269.9L188.3 270.6L193.7 271.7L198.7 273.3L203.3 275.2L207.3 277.6L210.8 280.3L213.6 283.3L215.8 286.7L217.2 290.3L218.1 294.2L218.2 298.3L217.6 302.5L216.5 306.9L214.6 311.4L212.2 316L209.2 320.5L205.6 325L201.6 329.5L197 333.7L192.1 337.8L186.8 341.6L181.2 345.1L175.3 348.3L169.2 351.2L163 353.6L156.6 355.7L150.2 357.2L143.9 358.4L137.5 359L131.3 359.2L125.3 358.9L119.4 358.2L113.8 356.9L108.5 355.3L103.5 353.2L98.9 350.8L94.7 347.9L90.9 344.7L87.6 341.2L84.7 337.5L82.4 333.4L80.6 329.2L79.3 324.8L78.6 320.2L78.4 315.5L78.8 310.8L79.7 306L81.2 301.2L83.1 296.4L85.6 291.7L88.5 287.1L91.9 282.6L95.7 278.3L99.9 274.2L104.4 270.3L109.2 266.7L114.2 263.4L119.4 260.3L124.7 257.6L130.1 255.3L135.5 253.4L140.8 251.9L146 250.8L151 250.1L155.7 249.9L160.2 250.2L164.3 250.8L168 252L171.2 253.6L174 255.5L176.2 257.9L177.9 260.7L179 263.8L179.5 267.3L179.4 271L178.7 274.9L177.4 279L175.6 283.2L173.2 287.6L170.2 291.9L166.8 296.3L162.8 300.5L158.5 304.7L153.8 308.6L148.7 312.4L143.4 315.9L137.9 319.1L132.2 322.1L126.5 324.6L120.7 326.9L115 328.7L109.4 330.2L104 331.3L98.7 332L93.7 332.2L88.9 332.1L84.4 331.5L80.3 330.5L76.5 329.2L73.1 327.4L70.1 325.3L67.6 322.9L65.6 320.2L64 317.2L62.9 314L62.4 310.5L62.4 306.9L63 303.2L64.1 299.3L65.7 295.4L67.9 291.5L70.6 287.5L73.8 283.6L77.6 279.8L81.8 276.1L86.4 272.5L91.5 269.1L96.9 265.8L102.7 262.8L108.7 260.1L115 257.7L121.4 255.6L128 253.8L134.6 252.4L141.2 251.4L147.7 250.9L154.1 250.7L160.4 251L166.3 251.7L172 252.9L177.3 254.6L182.2 256.7L186.6 259.2L190.5 262.2L193.9 265.6L196.8 269.3L199 273.4L200.7 277.9L201.7 282.6L202.2 287.5L202 292.6L201.3 297.8L199.9 303.1L198.1 308.4L195.7 313.7L192.8 319L189.4 324.1L185.7 329L181.6 333.6L177.2 338L172.5 342.1L167.6 345.8L162.6 349.1L157.4 352L152.2 354.5L147.1 356.5L141.9 358L136.9 359.1L132 359.7L127.3 359.9L122.9 359.5L118.8 358.8L114.9 357.6L111.5 356L108.4 354.1L105.7 351.8L103.5 349.1L101.7 346.2L100.4 343L99.6 339.5L99.2 335.9L99.3 332L99.9 328L101 323.9L102.5 319.6L104.4 315.3L106.8 310.9L109.6 306.5L112.8 302.2L116.3 298L120.3 294L124.6 290.1L129.2 286.4L134 282.9L139.1 279.8L144.3 276.9L149.6 274.4L155 272.2L160.4 270.4L165.6 269.1L170.8 268.1L175.7 267.6L180.4 267.5L184.8 267.9L188.9 268.7L192.5 270L195.7 271.7L198.3 273.8L200.5 276.3L202 279.2L203 282.4L203.4 286L203.2 289.8L202.4 293.8L201 298L199 302.3L196.4 306.7L193.3 311.1L189.7 315.5L185.6 319.8L181 324L176.1 327.9L170.8 331.6L165.1 335.1L159.3 338.2L153.2 340.9L147 343.2L140.7 345.2L134.3 346.7L128 347.7L121.7 348.2L115.5 348.3L109.5 348L103.8 347.1L98.2 345.8L93 344.1L88.1 341.9L83.5 339.4L79.4 336.5L75.7 333.2L72.5 329.7L69.7 325.8L67.5 321.7L65.8 317.4L64.6 312.9L64 308.3L63.9 303.6L64.4 298.8L65.4 293.9L67 289.1L69 284.3L71.6 279.6L74.6 275L78.1 270.5L82.1 266.2L86.3 262L91 258.2L95.9 254.6L101.1 251.2L106.4 248.3L111.9 245.7L117.5 243.4L123 241.6L128.6 240.2L134.1 239.3L139.5 238.9L144.6 239L149.6 239.6L154.3 240.7L158.7 242.3L162.7 244.5L166.3 247.1L169.4 250.1L172 253.6L174.1 257.5L175.6 261.7L176.6 266.2L177 270.9L176.8 275.9L176 280.9L174.6 286.1L172.7 291.3L170.4 296.4L167.5 301.5L164.2 306.4L160.5 311.2L156.4 315.7L152.1 320L147.5 323.9L142.7 327.5L137.7 330.7L132.7 333.5L127.6 335.8L122.5 337.7L117.4 339.1L112.5 340.1L107.8 340.6L103.2 340.7L98.9 340.3L94.9 339.4L91.3 338.2L87.9 336.5L85 334.6L82.6 332.2L80.5 329.6L79 326.7L78 323.5L77.5 320.2L77.5 316.6L78.1 313L79.2 309.2L80.8 305.3L83 301.5L85.7 297.6L88.9 293.8L92.6 290L96.8 286.4L101.5 282.9L106.5 279.5L111.9 276.4L117.6 273.5L123.6 270.8L129.9 268.5L136.2 266.4L142.7 264.8L149.3 263.5L155.8 262.6L162.3 262.1L168.7 262L174.8 262.4L180.7 263.2L186.3 264.4L191.5 266.2L196.3 268.3L200.6 271L204.4 274L207.7 277.4L210.5 281.2L212.6 285.4L214.1 289.8L215.1 294.5L215.4 299.4L215.1 304.5L214.1 309.7L212.6 315L210.5 320.3L207.9 325.5L204.7 330.6L201.1 335.5L197 340.2L192.4 344.5L187.5 348.6L182.2 352.2L176.6 355.4L170.8 358.2L164.8 360.5L158.7 362.2L152.5 363.5L146.4 364.3L140.3 364.6L134.4 364.4L128.7 363.7L123.2 362.6L117.9 361L113 359L108.5 356.5L104.3 353.7L100.6 350.6L97.4 347.2L94.6 343.4L92.3 339.4L90.5 335.2L89.3 330.9L88.6 326.4L88.4 321.7L88.8 317L89.8 312.3L91.2 307.6L93.2 302.9L95.7 298.2L98.6 293.7L102 289.3L105.8 285L110 281L114.5 277.2L119.2 273.6L124.2 270.3L129.4 267.4L134.6 264.8L140 262.5L145.3 260.7L150.5 259.2L155.7 258.2L160.6 257.6L165.3 257.5L169.6 257.8L173.7 258.5L177.3 259.7L180.4 261.4L183.1 263.4L185.2 265.9L186.8 268.7L187.8 271.8L188.2 275.3L188 279L187.2 282.9L185.8 287L183.8 291.3L181.2 295.6L178.2 299.9L174.6 304.2L170.5 308.4L166 312.4L161.1 316.3L155.8 319.9L150.2 323.3L144.4 326.3L138.4 329L132.3 331.2L126.1 333.1L119.8 334.5L113.6 335.4L107.4 336L101.4 336L95.5 335.6L89.8 334.7L84.4 333.4L79.4 331.7L74.7 329.6L70.4 327.1L66.5 324.3L63.1 321.2L60.2 317.8L57.9 314.2L56.2 310.4L55.1 306.5L54.6 302.4L54.8 298.3L55.6 294.2L57 290.1L59 285.9L61.5 281.8L64.7 277.8L68.3 273.9L72.5 270.1L77.1 266.4L82.1 262.9L87.5 259.6L93.3 256.6L99.3 253.9L105.6 251.4L112 249.3L118.5 247.5L125.1 246.1L131.7 245.1L138.3 244.5L144.7 244.3L150.9 244.6L156.8 245.3L162.5 246.5L167.8 248.1L172.6 250.2L177 252.8L181 255.7L184.3 259.1L187.2 262.8L189.4 266.9L191.1 271.3L192.1 275.9L192.5 280.8L192.4 285.9L191.6 291L190.3 296.3L188.4 301.6L186 306.8L183.1 312L179.8 317L176.1 321.9L172 326.5L167.6 330.8L163 334.8L158.2 338.4L153.2 341.7L148.1 344.5L143 346.9L137.8 348.9L132.8 350.4L127.8 351.4L123 352L118.5 352.1L114.1 351.7L110.1 350.9L106.4 349.8L103 348.2L100.1 346.2L97.6 344L95.5 341.4L94 338.5L92.9 335.4L92.3 332.1L92.3 328.6L92.8 325L93.9 321.3L95.5 317.5L97.6 313.6L100.2 309.8L103.4 306L107 302.3L111.1 298.6L115.7 295.1L120.6 291.7L125.8 288.6L131.4 285.6L137.2 282.9L143.2 280.4L149.3 278.3L155.4 276.4L161.5 274.9L167.6 273.6L173.4 272.8L179.1 272.2L184.4 272.1L189.4 272.3L194.1 273L198.3 274L202.1 275.5L205.3 277.4L208.1 279.6L210.2 282.3L211.8 285.3L212.8 288.6L213.2 292.3L213 296.1L212.2 300.2L210.7 304.5L208.7 308.9L206.1 313.4L202.9 317.8L199.2 322.2L195.1 326.6L190.5 330.8L185.5 334.7L180.1 338.5L174.5 341.9L168.6 345.1L162.5 347.8L156.2 350.2L149.9 352.1L143.5 353.6L137.1 354.6L130.8 355.2L124.6 355.3L118.6 354.9L112.8 354.1L107.2 352.8L102 351.1L97.1 348.9L92.5 346.4L88.4 343.5L84.7 340.2L81.4 336.7L78.7 332.8L76.5 328.8L74.7 324.5L73.6 320L72.9 315.4L72.8 310.7L73.3 305.9L74.3 301.1L75.8 296.3L77.9 291.5L80.4 286.8L83.4 282.2L86.9 277.7L90.8 273.4L95 269.3L99.6 265.4L104.4 261.8L109.5 258.5L114.7 255.5L120 252.8L125.4 250.5L130.8 248.7L136.1 247.2L141.3 246.1L146.3 245.5L151.1 245.4L155.5 245.6L159.6 246.4L163.3 247.6L166.6 249.2L169.3 251.3L171.5 253.8L173.2 256.6" fill="none" stroke="#111" stroke-width="0.7" stroke-linejoin="round"/>
<path d="M80 302.6H138.5" stroke="#555" stroke-width="0.7"/>
<path d="M34.5 228.1V386.4H230.7" fill="none" stroke="#4a4a4a" stroke-width="0.85"/>
<path d="M46.3 386.4v2.7M92.4 386.4v2.7M138.5 386.4v2.7M184.6 386.4v2.7M230.7 386.4v2.7M69.3 386.4v1.5M115.5 386.4v1.5M161.6 386.4v1.5M207.7 386.4v1.5M34.5 377.4h-2.7M34.5 302.8h-2.7M34.5 228.2h-2.7M34.5 340.1h-1.5M34.5 265.5h-1.5" fill="none" stroke="#4a4a4a" stroke-width="0.8"/>
<text x="45.7" y="397.7" font-size="6.8" text-anchor="middle" fill="#6a6a6a">-4</text>
<text x="91.8" y="397.7" font-size="6.8" text-anchor="middle" fill="#6a6a6a">-2</text>
<text x="138.8" y="397.7" font-size="6.8" text-anchor="middle" fill="#6a6a6a">0</text>
<text x="184.9" y="397.7" font-size="6.8" text-anchor="middle" fill="#6a6a6a">2</text>
<text x="231" y="397.7" font-size="6.8" text-anchor="middle" fill="#6a6a6a">4</text>
<text x="29.6" y="379.9" font-size="6.8" text-anchor="end" fill="#6a6a6a">-2</text>
<text x="29.6" y="305.3" font-size="6.8" text-anchor="end" fill="#6a6a6a">0</text>
<text x="29.6" y="230.7" font-size="6.8" text-anchor="end" fill="#6a6a6a">2</text>
<path d="M136.2 297.2L140.6 306.7L131.8 306.7Z" fill="#f5b800" stroke="#2a2a2a" stroke-width="0.8" stroke-linejoin="miter"/>
<text x="140.5" y="413.6" font-size="11.3" text-anchor="middle" fill="#222" textLength="86.2" lengthAdjust="spacingAndGlyphs" stroke="#222" stroke-width="0.2">x-displacement (m)</text>
<text x="14" y="300.9" font-size="12.0" text-anchor="middle" fill="#222" transform="rotate(-90 14 300.9)" textLength="86.2" lengthAdjust="spacingAndGlyphs" stroke="#222" stroke-width="0.25">y-displacement (m)</text>
<text x="129.9" y="430.7" font-size="11.8" text-anchor="middle" fill="#222" stroke="#222" stroke-width="0.3">(e)</text>
<rect x="178.3" y="217.6" width="77.3" height="28.4" fill="#fff" stroke="#8c8c8c" stroke-width="0.7"/>
<path d="M181.6 227.1H192.7" stroke="#444" stroke-width="1.3"/>
<text x="198.9" y="227.7" font-size="7.75" text-anchor="start" fill="#222" stroke="#222" stroke-width="0.15">Without control</text>
<text x="200.2" y="240.3" font-size="7.75" text-anchor="start" fill="#222" stroke="#222" stroke-width="0.15">Starting position</text>
<path d="M185.4 234.5L188.3 240.3L182.5 240.3Z" fill="#f5b800" stroke="#2a2a2a" stroke-width="0.7" stroke-linejoin="miter"/>
<path d="M358.1 365.7L366.3 357.4L374.8 348.8L383.5 340L392.1 331.2L400.4 322.8L408.2 314.9L415.2 307.8L421.3 301.7L426.3 296.7L430.4 292.6L433.7 289.2L436.5 286.4L439 284L441.2 281.8L443.5 279.6L446 277.2L448.6 274.8L451 272.5L453.3 270.3L455.6 268.3L457.7 266.4L459.7 264.7L461.6 263.1L463.5 261.6L465.3 260.3L466.9 259.1L468.4 258.1L469.8 257.2L471.2 256.4L472.5 255.7L473.8 255.1L475.1 254.5L476.4 254L477.6 253.5L478.7 253.1L479.9 252.8L480.9 252.6L481.9 252.4L482.9 252.3L483.8 252.2L484.6 252.2L485.4 252.2L486.1 252.4L486.7 252.5L487.3 252.8L487.9 253.1L488.5 253.4L489 253.9" fill="none" stroke="#111" stroke-width="1.2" stroke-linejoin="round"/>
<path d="M489 253.9L489.5 254.4L490 255L490.5 255.6L490.9 256.3L491.3 257.1L491.7 258L492.1 259L492.5 260L492.9 261.1L493.3 262.3L493.7 263.6L494 265L494.4 266.5L494.8 268L495.1 269.7L495.5 271.4L495.9 273.3L496.2 275.4L496.6 277.5L497 279.8L497.4 282.1L497.7 284.3L498.1 286.5L498.4 288.6L498.7 290.6L499 292.4L499.4 294.3L499.7 296.1L499.9 297.8L500.2 299.6L500.5 301.4L500.7 303.2L500.9 305.1L501.1 307.1L501.3 309.1L501.5 311.1L501.6 313L501.8 314.8L501.8 316.4L501.9 317.7L501.9 318.7L502 319.5L502 320.1L501.9 320.5L501.9 320.9L501.8 321.2L501.6 321.6L501.3 322.1" fill="none" stroke="#111" stroke-width="0.8" stroke-linejoin="round"/>
<path d="M501.3 322.1L501 322.7L500.6 323.3L500.2 323.9L499.7 324.5L499.1 325.1L498.5 325.7L497.8 326.4L496.9 327L496 327.6L495 328.3L493.9 328.9L492.8 329.5L491.5 330.2L490.1 330.8L488.5 331.5L486.7 332.3L484.7 333.1L482.5 334L480.2 334.9L477.7 335.8L475.1 336.7L472.3 337.6L469.4 338.6L466.4 339.5L463.2 340.4L459.7 341.3L456.1 342.3L452.4 343.2L448.6 344.1L444.8 345L441 345.9L437.3 346.8L433.7 347.6L430 348.5L426.4 349.3L422.8 350.1L419.1 350.9L415.5 351.6L411.8 352.4L408.2 353.2L404.5 354L400.6 354.8L396.7 355.6L392.7 356.4L389 357.2L385.4 358L382 358.7L379.1 359.3L376.5 359.8L374.2 360.3L372.2 360.7L370.4 361.1L368.7 361.4L367.2 361.8L365.8 362.1L364.5 362.5L363.3 362.9L362.3 363.3L361.5 363.7L360.8 364.1L360.1 364.5L359.5 364.9L358.8 365.3L358.1 365.7" fill="none" stroke="#111" stroke-width="1.2" stroke-linejoin="round"/>
<path d="M324.4 226.3V385.2H531.4" fill="none" stroke="#4a4a4a" stroke-width="0.85"/>
<path d="M324.6 385.2v3.2M359.1 385.2v3.2M393.6 385.2v3.2M428.1 385.2v3.2M462.6 385.2v3.2M497.1 385.2v3.2M531.6 385.2v3.2M341.9 385.2v1.8M376.4 385.2v1.8M410.9 385.2v1.8M445.4 385.2v1.8M479.9 385.2v1.8M514.4 385.2v1.8M324.4 385.3h-3.2M324.4 358.9h-3.2M324.4 332.4h-3.2M324.4 305.9h-3.2M324.4 279.4h-3.2M324.4 252.9h-3.2M324.4 226.5h-3.2M324.4 372.1h-1.8M324.4 345.6h-1.8M324.4 319.1h-1.8M324.4 292.7h-1.8M324.4 266.2h-1.8M324.4 239.7h-1.8" fill="none" stroke="#4a4a4a" stroke-width="0.8"/>
<text x="351.4 355.1 358.3 363.1" y="395.2" font-size="8.0" text-anchor="middle" fill="#6a6a6a">-0.2</text>
<text x="385.9 389.6 392.8 397.6" y="395.2" font-size="8.0" text-anchor="middle" fill="#6a6a6a">-0.1</text>
<text x="424.1 427.3 432.1" y="395.2" font-size="8.0" text-anchor="middle" fill="#6a6a6a">0.0</text>
<text x="458.6 461.8 466.6" y="395.2" font-size="8.0" text-anchor="middle" fill="#6a6a6a">0.1</text>
<text x="493.1 496.3 501.1" y="395.2" font-size="8.0" text-anchor="middle" fill="#6a6a6a">0.2</text>
<text x="306.3 310 313.2 318" y="361.7" font-size="8.0" text-anchor="middle" fill="#6a6a6a">-0.4</text>
<text x="306.3 310 313.2 318" y="335.2" font-size="8.0" text-anchor="middle" fill="#6a6a6a">-0.2</text>
<text x="310 313.2 318" y="308.7" font-size="8.0" text-anchor="middle" fill="#6a6a6a">0.0</text>
<text x="310 313.2 318" y="282.2" font-size="8.0" text-anchor="middle" fill="#6a6a6a">0.2</text>
<text x="310 313.2 318" y="255.7" font-size="8.0" text-anchor="middle" fill="#6a6a6a">0.4</text>
<text x="310 313.2 318" y="229.3" font-size="8.0" text-anchor="middle" fill="#6a6a6a">0.6</text>
<path d="M421.8 298.8L424.3 304L419.3 304Z" fill="#f5b800" stroke="#2a2a2a" stroke-width="0.6" stroke-linejoin="miter"/>
<text x="424.7" y="412.8" font-size="10.7" text-anchor="middle" fill="#222" textLength="82.2" lengthAdjust="spacingAndGlyphs" stroke="#222" stroke-width="0.2">x-displacement (m)</text>
<text x="298.9" y="296.3" font-size="10.9" text-anchor="middle" font-weight="bold" fill="#222" transform="rotate(-90 298.9 296.3)" textLength="81.6" lengthAdjust="spacingAndGlyphs">y-displacement (m)</text>
<text x="416.3" y="429.6" font-size="11.2" text-anchor="middle" font-weight="bold" fill="#222">(f)</text>
<rect x="465.9" y="222.5" width="72.3" height="26.7" fill="#fff" stroke="#8c8c8c" stroke-width="0.7"/>
<path d="M469.7 231.7H479.2" stroke="#444" stroke-width="1.3"/>
<text x="508.3" y="231.9" font-size="7.3" text-anchor="middle" fill="#222" stroke="#222" stroke-width="0.15">With control</text>
<text x="510.6" y="244.3" font-size="7.4" text-anchor="middle" fill="#222" stroke="#222" stroke-width="0.15">Starting position</text>
<path d="M472.7 239.4L475.1 244.2L470.3 244.2Z" fill="#f5b800" stroke="#2a2a2a" stroke-width="0.7" stroke-linejoin="miter"/>
</svg></body></html>
